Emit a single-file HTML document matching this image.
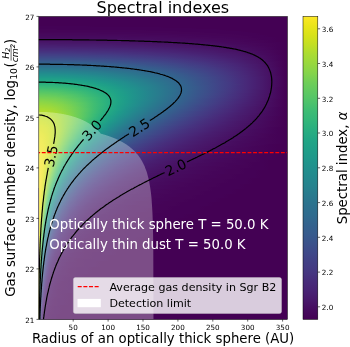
<!DOCTYPE html>
<html><head><meta charset="utf-8"><title>Spectral indexes</title>
<style>
html,body{margin:0;padding:0;background:#fff}
#fig{position:relative;width:350px;height:347px;overflow:hidden;background:#fff}
#hm{position:absolute;left:38.00px;top:16.00px;width:250.00px;height:304.00px;overflow:hidden;line-height:0;font-size:0}
#hm i{display:block;height:1px;width:100%}
#fig svg{position:absolute;left:0;top:0}
</style></head><body><div id="fig"><div id="hm"><i style="background:linear-gradient(90deg,#440154 0%,#440154 0.2%,#440154 0.4%,#440154 0.6%,#440154 0.8%,#440154 1.2%,#440154 1.6%,#440154 2%,#440154 2.4%,#440154 3.2%,#440154 4%,#440154 4.8%,#440154 5.6%,#440154 6.8%,#440154 8%,#440154 9.6%,#440154 12.8%,#440154 16%,#440154 19.2%,#440154 22.4%,#440154 25.6%,#440154 28.8%,#440154 32%,#440154 35.2%,#440154 38.4%,#440154 41.6%,#440154 44.8%,#440154 48%,#440154 51.2%,#440154 54.4%,#440154 57.6%,#440154 60.8%,#440154 64%,#440154 67.2%,#440154 70.4%,#440154 73.6%,#440154 76.8%,#440154 80%,#440154 83.2%,#440154 86.4%,#440154 89.6%,#440154 92.8%,#440154 96%,#440154 99.2%,#440154 100%)"></i><i style="background:linear-gradient(90deg,#440154 0%,#440154 0.2%,#440154 0.4%,#440154 0.6%,#440154 0.8%,#440154 1.2%,#440154 1.6%,#440154 2%,#440154 2.4%,#440154 3.2%,#440154 4%,#440154 4.8%,#440154 5.6%,#440154 6.8%,#440154 8%,#440154 9.6%,#440154 12.8%,#440154 16%,#440154 19.2%,#440154 22.4%,#440154 25.6%,#440154 28.8%,#440154 32%,#440154 35.2%,#440154 38.4%,#440154 41.6%,#440154 44.8%,#440154 48%,#440154 51.2%,#440154 54.4%,#440154 57.6%,#440154 60.8%,#440154 64%,#440154 67.2%,#440154 70.4%,#440154 73.6%,#440154 76.8%,#440154 80%,#440154 83.2%,#440154 86.4%,#440154 89.6%,#440154 92.8%,#440154 96%,#440154 99.2%,#440154 100%)"></i><i style="background:linear-gradient(90deg,#440154 0%,#440154 0.2%,#440154 0.4%,#440154 0.6%,#440154 0.8%,#440154 1.2%,#440154 1.6%,#440154 2%,#440154 2.4%,#440154 3.2%,#440154 4%,#440154 4.8%,#440154 5.6%,#440154 6.8%,#440154 8%,#440154 9.6%,#440154 12.8%,#440154 16%,#440154 19.2%,#440154 22.4%,#440154 25.6%,#440154 28.8%,#440154 32%,#440154 35.2%,#440154 38.4%,#440154 41.6%,#440154 44.8%,#440154 48%,#440154 51.2%,#440154 54.4%,#440154 57.6%,#440154 60.8%,#440154 64%,#440154 67.2%,#440154 70.4%,#440154 73.6%,#440154 76.8%,#440154 80%,#440154 83.2%,#440154 86.4%,#440154 89.6%,#440154 92.8%,#440154 96%,#440154 99.2%,#440154 100%)"></i><i style="background:linear-gradient(90deg,#440154 0%,#440154 0.2%,#440154 0.4%,#440154 0.6%,#440154 0.8%,#440154 1.2%,#440154 1.6%,#440154 2%,#440154 2.4%,#440154 3.2%,#440154 4%,#440154 4.8%,#440154 5.6%,#440154 6.8%,#440154 8%,#440154 9.6%,#440154 12.8%,#440154 16%,#440154 19.2%,#440154 22.4%,#440154 25.6%,#440154 28.8%,#440154 32%,#440154 35.2%,#440154 38.4%,#440154 41.6%,#440154 44.8%,#440154 48%,#440154 51.2%,#440154 54.4%,#440154 57.6%,#440154 60.8%,#440154 64%,#440154 67.2%,#440154 70.4%,#440154 73.6%,#440154 76.8%,#440154 80%,#440154 83.2%,#440154 86.4%,#440154 89.6%,#440154 92.8%,#440154 96%,#440154 99.2%,#440154 100%)"></i><i style="background:linear-gradient(90deg,#440154 0%,#440154 0.2%,#440154 0.4%,#440154 0.6%,#440154 0.8%,#440154 1.2%,#440154 1.6%,#440154 2%,#440154 2.4%,#440154 3.2%,#440154 4%,#440154 4.8%,#440154 5.6%,#440154 6.8%,#440154 8%,#440154 9.6%,#440154 12.8%,#440154 16%,#440154 19.2%,#440154 22.4%,#440154 25.6%,#440154 28.8%,#440154 32%,#440154 35.2%,#440154 38.4%,#440154 41.6%,#440154 44.8%,#440154 48%,#440154 51.2%,#440154 54.4%,#440154 57.6%,#440154 60.8%,#440154 64%,#440154 67.2%,#440154 70.4%,#440154 73.6%,#440154 76.8%,#440154 80%,#440154 83.2%,#440154 86.4%,#440154 89.6%,#440154 92.8%,#440154 96%,#440154 99.2%,#440154 100%)"></i><i style="background:linear-gradient(90deg,#440154 0%,#440154 0.2%,#440154 0.4%,#440154 0.6%,#440154 0.8%,#440154 1.2%,#440154 1.6%,#440154 2%,#440154 2.4%,#440154 3.2%,#440154 4%,#440154 4.8%,#440154 5.6%,#440154 6.8%,#440154 8%,#440154 9.6%,#440154 12.8%,#440154 16%,#440154 19.2%,#440154 22.4%,#440154 25.6%,#440154 28.8%,#440154 32%,#440154 35.2%,#440154 38.4%,#440154 41.6%,#440154 44.8%,#440154 48%,#440154 51.2%,#440154 54.4%,#440154 57.6%,#440154 60.8%,#440154 64%,#440154 67.2%,#440154 70.4%,#440154 73.6%,#440154 76.8%,#440154 80%,#440154 83.2%,#440154 86.4%,#440154 89.6%,#440154 92.8%,#440154 96%,#440154 99.2%,#440154 100%)"></i><i style="background:linear-gradient(90deg,#440154 0%,#440154 0.2%,#440154 0.4%,#440154 0.6%,#440154 0.8%,#440154 1.2%,#440154 1.6%,#440154 2%,#440154 2.4%,#440154 3.2%,#440154 4%,#440154 4.8%,#440154 5.6%,#440154 6.8%,#440154 8%,#440154 9.6%,#440154 12.8%,#440154 16%,#440154 19.2%,#440154 22.4%,#440154 25.6%,#440154 28.8%,#440154 32%,#440154 35.2%,#440154 38.4%,#440154 41.6%,#440154 44.8%,#440154 48%,#440154 51.2%,#440154 54.4%,#440154 57.6%,#440154 60.8%,#440154 64%,#440154 67.2%,#440154 70.4%,#440154 73.6%,#440154 76.8%,#440154 80%,#440154 83.2%,#440154 86.4%,#440154 89.6%,#440154 92.8%,#440154 96%,#440154 99.2%,#440154 100%)"></i><i style="background:linear-gradient(90deg,#440154 0%,#440154 0.2%,#440154 0.4%,#440154 0.6%,#440154 0.8%,#440154 1.2%,#440154 1.6%,#440154 2%,#440154 2.4%,#440154 3.2%,#440154 4%,#440154 4.8%,#440154 5.6%,#440154 6.8%,#440154 8%,#440154 9.6%,#440154 12.8%,#440154 16%,#440154 19.2%,#440154 22.4%,#440154 25.6%,#440154 28.8%,#440154 32%,#440154 35.2%,#440154 38.4%,#440154 41.6%,#440154 44.8%,#440154 48%,#440154 51.2%,#440154 54.4%,#440154 57.6%,#440154 60.8%,#440154 64%,#440154 67.2%,#440154 70.4%,#440154 73.6%,#440154 76.8%,#440154 80%,#440154 83.2%,#440154 86.4%,#440154 89.6%,#440154 92.8%,#440154 96%,#440154 99.2%,#440154 100%)"></i><i style="background:linear-gradient(90deg,#440154 0%,#440154 0.2%,#440154 0.4%,#440154 0.6%,#440154 0.8%,#440154 1.2%,#440154 1.6%,#440154 2%,#440154 2.4%,#440154 3.2%,#440154 4%,#440154 4.8%,#440154 5.6%,#440154 6.8%,#440154 8%,#440154 9.6%,#440154 12.8%,#440154 16%,#440154 19.2%,#440154 22.4%,#440154 25.6%,#440154 28.8%,#440154 32%,#440154 35.2%,#440154 38.4%,#440154 41.6%,#440154 44.8%,#440154 48%,#440154 51.2%,#440154 54.4%,#440154 57.6%,#440154 60.8%,#440154 64%,#440154 67.2%,#440154 70.4%,#440154 73.6%,#440154 76.8%,#440154 80%,#440154 83.2%,#440154 86.4%,#440154 89.6%,#440154 92.8%,#440154 96%,#440154 99.2%,#440154 100%)"></i><i style="background:linear-gradient(90deg,#440154 0%,#440154 0.2%,#440154 0.4%,#440154 0.6%,#440154 0.8%,#440154 1.2%,#440154 1.6%,#440154 2%,#440154 2.4%,#440154 3.2%,#440154 4%,#440154 4.8%,#440154 5.6%,#440154 6.8%,#440154 8%,#440154 9.6%,#440154 12.8%,#440154 16%,#440154 19.2%,#440154 22.4%,#440154 25.6%,#440154 28.8%,#440154 32%,#440154 35.2%,#440154 38.4%,#440154 41.6%,#440154 44.8%,#440154 48%,#440154 51.2%,#440154 54.4%,#440154 57.6%,#440154 60.8%,#440154 64%,#440154 67.2%,#440154 70.4%,#440154 73.6%,#440154 76.8%,#440154 80%,#440154 83.2%,#440154 86.4%,#440154 89.6%,#440154 92.8%,#440154 96%,#440154 99.2%,#440154 100%)"></i><i style="background:linear-gradient(90deg,#440256 0%,#440256 0.2%,#440256 0.4%,#440256 0.6%,#440256 0.8%,#440256 1.2%,#440256 1.6%,#440256 2%,#440256 2.4%,#440256 3.2%,#440256 4%,#440256 4.8%,#440256 5.6%,#440256 6.8%,#440256 8%,#440256 9.6%,#440256 12.8%,#440256 16%,#440256 19.2%,#440154 22.4%,#440154 25.6%,#440154 28.8%,#440154 32%,#440154 35.2%,#440154 38.4%,#440154 41.6%,#440154 44.8%,#440154 48%,#440154 51.2%,#440154 54.4%,#440154 57.6%,#440154 60.8%,#440154 64%,#440154 67.2%,#440154 70.4%,#440154 73.6%,#440154 76.8%,#440154 80%,#440154 83.2%,#440154 86.4%,#440154 89.6%,#440154 92.8%,#440154 96%,#440154 99.2%,#440154 100%)"></i><i style="background:linear-gradient(90deg,#440256 0%,#440256 0.2%,#440256 0.4%,#440256 0.6%,#440256 0.8%,#440256 1.2%,#440256 1.6%,#440256 2%,#440256 2.4%,#440256 3.2%,#440256 4%,#440256 4.8%,#440256 5.6%,#440256 6.8%,#440256 8%,#440256 9.6%,#440256 12.8%,#440256 16%,#440256 19.2%,#440256 22.4%,#440256 25.6%,#440256 28.8%,#440256 32%,#440256 35.2%,#440256 38.4%,#440256 41.6%,#440256 44.8%,#440256 48%,#440154 51.2%,#440154 54.4%,#440154 57.6%,#440154 60.8%,#440154 64%,#440154 67.2%,#440154 70.4%,#440154 73.6%,#440154 76.8%,#440154 80%,#440154 83.2%,#440154 86.4%,#440154 89.6%,#440154 92.8%,#440154 96%,#440154 99.2%,#440154 100%)"></i><i style="background:linear-gradient(90deg,#440256 0%,#440256 0.2%,#440256 0.4%,#440256 0.6%,#440256 0.8%,#440256 1.2%,#440256 1.6%,#440256 2%,#440256 2.4%,#440256 3.2%,#440256 4%,#440256 4.8%,#440256 5.6%,#440256 6.8%,#440256 8%,#440256 9.6%,#440256 12.8%,#440256 16%,#440256 19.2%,#440256 22.4%,#440256 25.6%,#440256 28.8%,#440256 32%,#440256 35.2%,#440256 38.4%,#440256 41.6%,#440256 44.8%,#440256 48%,#440256 51.2%,#440256 54.4%,#440256 57.6%,#440256 60.8%,#440154 64%,#440154 67.2%,#440154 70.4%,#440154 73.6%,#440154 76.8%,#440154 80%,#440154 83.2%,#440154 86.4%,#440154 89.6%,#440154 92.8%,#440154 96%,#440154 99.2%,#440154 100%)"></i><i style="background:linear-gradient(90deg,#450457 0%,#450457 0.2%,#450457 0.4%,#450457 0.6%,#450457 0.8%,#450457 1.2%,#450457 1.6%,#450457 2%,#450457 2.4%,#450457 3.2%,#450457 4%,#450457 4.8%,#450457 5.6%,#450457 6.8%,#440256 8%,#440256 9.6%,#440256 12.8%,#440256 16%,#440256 19.2%,#440256 22.4%,#440256 25.6%,#440256 28.8%,#440256 32%,#440256 35.2%,#440256 38.4%,#440256 41.6%,#440256 44.8%,#440256 48%,#440256 51.2%,#440256 54.4%,#440256 57.6%,#440256 60.8%,#440256 64%,#440256 67.2%,#440256 70.4%,#440154 73.6%,#440154 76.8%,#440154 80%,#440154 83.2%,#440154 86.4%,#440154 89.6%,#440154 92.8%,#440154 96%,#440154 99.2%,#440154 100%)"></i><i style="background:linear-gradient(90deg,#450457 0%,#450457 0.2%,#450457 0.4%,#450457 0.6%,#450457 0.8%,#450457 1.2%,#450457 1.6%,#450457 2%,#450457 2.4%,#450457 3.2%,#450457 4%,#450457 4.8%,#450457 5.6%,#450457 6.8%,#450457 8%,#450457 9.6%,#450457 12.8%,#450457 16%,#450457 19.2%,#450457 22.4%,#450457 25.6%,#450457 28.8%,#450457 32%,#450457 35.2%,#450457 38.4%,#450457 41.6%,#440256 44.8%,#440256 48%,#440256 51.2%,#440256 54.4%,#440256 57.6%,#440256 60.8%,#440256 64%,#440256 67.2%,#440256 70.4%,#440256 73.6%,#440154 76.8%,#440154 80%,#440154 83.2%,#440154 86.4%,#440154 89.6%,#440154 92.8%,#440154 96%,#440154 99.2%,#440154 100%)"></i><i style="background:linear-gradient(90deg,#450457 0%,#450457 0.2%,#450457 0.4%,#450457 0.6%,#450457 0.8%,#450457 1.2%,#450457 1.6%,#450457 2%,#450457 2.4%,#450457 3.2%,#450457 4%,#450457 4.8%,#450457 5.6%,#450457 6.8%,#450457 8%,#450457 9.6%,#450457 12.8%,#450457 16%,#450457 19.2%,#450457 22.4%,#450457 25.6%,#450457 28.8%,#450457 32%,#450457 35.2%,#450457 38.4%,#450457 41.6%,#450457 44.8%,#450457 48%,#450457 51.2%,#450457 54.4%,#440256 57.6%,#440256 60.8%,#440256 64%,#440256 67.2%,#440256 70.4%,#440256 73.6%,#440256 76.8%,#440256 80%,#440154 83.2%,#440154 86.4%,#440154 89.6%,#440154 92.8%,#440154 96%,#440154 99.2%,#440154 100%)"></i><i style="background:linear-gradient(90deg,#450559 0%,#450559 0.2%,#450559 0.4%,#450559 0.6%,#450559 0.8%,#450559 1.2%,#450559 1.6%,#450559 2%,#450559 2.4%,#450559 3.2%,#450559 4%,#450559 4.8%,#450559 5.6%,#450559 6.8%,#450559 8%,#450559 9.6%,#450559 12.8%,#450559 16%,#450559 19.2%,#450559 22.4%,#450559 25.6%,#450559 28.8%,#450559 32%,#450559 35.2%,#450559 38.4%,#450457 41.6%,#450457 44.8%,#450457 48%,#450457 51.2%,#450457 54.4%,#450457 57.6%,#450457 60.8%,#450457 64%,#440256 67.2%,#440256 70.4%,#440256 73.6%,#440256 76.8%,#440256 80%,#440256 83.2%,#440154 86.4%,#440154 89.6%,#440154 92.8%,#440154 96%,#440154 99.2%,#440154 100%)"></i><i style="background:linear-gradient(90deg,#46075a 0%,#46075a 0.2%,#46075a 0.4%,#46075a 0.6%,#46075a 0.8%,#46075a 1.2%,#46075a 1.6%,#46075a 2%,#46075a 2.4%,#46075a 3.2%,#46075a 4%,#46075a 4.8%,#46075a 5.6%,#46075a 6.8%,#46075a 8%,#46075a 9.6%,#46075a 12.8%,#46075a 16%,#46075a 19.2%,#46075a 22.4%,#450559 25.6%,#450559 28.8%,#450559 32%,#450559 35.2%,#450559 38.4%,#450559 41.6%,#450559 44.8%,#450559 48%,#450559 51.2%,#450457 54.4%,#450457 57.6%,#450457 60.8%,#450457 64%,#450457 67.2%,#450457 70.4%,#440256 73.6%,#440256 76.8%,#440256 80%,#440256 83.2%,#440256 86.4%,#440154 89.6%,#440154 92.8%,#440154 96%,#440154 99.2%,#440154 100%)"></i><i style="background:linear-gradient(90deg,#46085c 0%,#46085c 0.2%,#46085c 0.4%,#46085c 0.6%,#46085c 0.8%,#46085c 1.2%,#46085c 1.6%,#46085c 2%,#46085c 2.4%,#46085c 3.2%,#46085c 4%,#46085c 4.8%,#46075a 5.6%,#46075a 6.8%,#46075a 8%,#46075a 9.6%,#46075a 12.8%,#46075a 16%,#46075a 19.2%,#46075a 22.4%,#46075a 25.6%,#46075a 28.8%,#46075a 32%,#46075a 35.2%,#46075a 38.4%,#46075a 41.6%,#450559 44.8%,#450559 48%,#450559 51.2%,#450559 54.4%,#450559 57.6%,#450559 60.8%,#450457 64%,#450457 67.2%,#450457 70.4%,#450457 73.6%,#450457 76.8%,#440256 80%,#440256 83.2%,#440256 86.4%,#440154 89.6%,#440154 92.8%,#440154 96%,#440154 99.2%,#440154 100%)"></i><i style="background:linear-gradient(90deg,#46085c 0%,#46085c 0.2%,#46085c 0.4%,#46085c 0.6%,#46085c 0.8%,#46085c 1.2%,#46085c 1.6%,#46085c 2%,#46085c 2.4%,#46085c 3.2%,#46085c 4%,#46085c 4.8%,#46085c 5.6%,#46085c 6.8%,#46085c 8%,#46085c 9.6%,#46085c 12.8%,#46085c 16%,#46085c 19.2%,#46085c 22.4%,#46085c 25.6%,#46085c 28.8%,#46085c 32%,#46085c 35.2%,#46075a 38.4%,#46075a 41.6%,#46075a 44.8%,#46075a 48%,#46075a 51.2%,#46075a 54.4%,#450559 57.6%,#450559 60.8%,#450559 64%,#450559 67.2%,#450457 70.4%,#450457 73.6%,#450457 76.8%,#450457 80%,#440256 83.2%,#440256 86.4%,#440256 89.6%,#440154 92.8%,#440154 96%,#440154 99.2%,#440154 100%)"></i><i style="background:linear-gradient(90deg,#460a5d 0%,#460a5d 0.2%,#460a5d 0.4%,#460a5d 0.6%,#460a5d 0.8%,#460a5d 1.2%,#460a5d 1.6%,#460a5d 2%,#460a5d 2.4%,#460a5d 3.2%,#460a5d 4%,#460a5d 4.8%,#460a5d 5.6%,#460a5d 6.8%,#460a5d 8%,#460a5d 9.6%,#460a5d 12.8%,#460a5d 16%,#460a5d 19.2%,#460a5d 22.4%,#460a5d 25.6%,#460a5d 28.8%,#460a5d 32%,#46085c 35.2%,#46085c 38.4%,#46085c 41.6%,#46085c 44.8%,#46085c 48%,#46085c 51.2%,#46075a 54.4%,#46075a 57.6%,#46075a 60.8%,#450559 64%,#450559 67.2%,#450559 70.4%,#450559 73.6%,#450457 76.8%,#450457 80%,#450457 83.2%,#440256 86.4%,#440256 89.6%,#440154 92.8%,#440154 96%,#440154 99.2%,#440154 100%)"></i><i style="background:linear-gradient(90deg,#460b5e 0%,#460b5e 0.2%,#460b5e 0.4%,#460b5e 0.6%,#460b5e 0.8%,#460b5e 1.2%,#460b5e 1.6%,#460b5e 2%,#460b5e 2.4%,#460b5e 3.2%,#460b5e 4%,#460b5e 4.8%,#460b5e 5.6%,#460b5e 6.8%,#460b5e 8%,#460b5e 9.6%,#460b5e 12.8%,#460b5e 16%,#460b5e 19.2%,#460b5e 22.4%,#460b5e 25.6%,#460b5e 28.8%,#460b5e 32%,#460a5d 35.2%,#460a5d 38.4%,#460a5d 41.6%,#460a5d 44.8%,#460a5d 48%,#46085c 51.2%,#46085c 54.4%,#46085c 57.6%,#46075a 60.8%,#46075a 64%,#46075a 67.2%,#450559 70.4%,#450559 73.6%,#450559 76.8%,#450457 80%,#450457 83.2%,#440256 86.4%,#440256 89.6%,#440256 92.8%,#440154 96%,#440154 99.2%,#440154 100%)"></i><i style="background:linear-gradient(90deg,#470e61 0%,#470e61 0.2%,#470e61 0.4%,#470e61 0.6%,#470e61 0.8%,#470e61 1.2%,#470e61 1.6%,#470e61 2%,#470e61 2.4%,#470e61 3.2%,#470e61 4%,#470e61 4.8%,#470e61 5.6%,#470e61 6.8%,#470e61 8%,#470e61 9.6%,#470d60 12.8%,#470d60 16%,#470d60 19.2%,#470d60 22.4%,#470d60 25.6%,#470d60 28.8%,#470d60 32%,#460b5e 35.2%,#460b5e 38.4%,#460b5e 41.6%,#460b5e 44.8%,#460a5d 48%,#460a5d 51.2%,#460a5d 54.4%,#460a5d 57.6%,#46085c 60.8%,#46085c 64%,#46075a 67.2%,#46075a 70.4%,#46075a 73.6%,#450559 76.8%,#450559 80%,#450457 83.2%,#450457 86.4%,#440256 89.6%,#440256 92.8%,#440154 96%,#440154 99.2%,#440154 100%)"></i><i style="background:linear-gradient(90deg,#471063 0%,#471063 0.2%,#471063 0.4%,#471063 0.6%,#471063 0.8%,#471063 1.2%,#471063 1.6%,#471063 2%,#471063 2.4%,#471063 3.2%,#471063 4%,#471063 4.8%,#471063 5.6%,#471063 6.8%,#471063 8%,#471063 9.6%,#471063 12.8%,#471063 16%,#471063 19.2%,#470e61 22.4%,#470e61 25.6%,#470e61 28.8%,#470e61 32%,#470e61 35.2%,#470d60 38.4%,#470d60 41.6%,#470d60 44.8%,#460b5e 48%,#460b5e 51.2%,#460b5e 54.4%,#460a5d 57.6%,#460a5d 60.8%,#460a5d 64%,#46085c 67.2%,#46085c 70.4%,#46075a 73.6%,#46075a 76.8%,#450559 80%,#450559 83.2%,#450457 86.4%,#440256 89.6%,#440256 92.8%,#440154 96%,#440154 99.2%,#440154 100%)"></i><i style="background:linear-gradient(90deg,#471164 0%,#471164 0.2%,#471164 0.4%,#471164 0.6%,#471164 0.8%,#471164 1.2%,#471164 1.6%,#471164 2%,#471164 2.4%,#471164 3.2%,#471164 4%,#471164 4.8%,#471164 5.6%,#471164 6.8%,#471164 8%,#471164 9.6%,#471164 12.8%,#471164 16%,#471164 19.2%,#471164 22.4%,#471164 25.6%,#471063 28.8%,#471063 32%,#471063 35.2%,#471063 38.4%,#470e61 41.6%,#470e61 44.8%,#470e61 48%,#470d60 51.2%,#470d60 54.4%,#460b5e 57.6%,#460b5e 60.8%,#460a5d 64%,#460a5d 67.2%,#46085c 70.4%,#46085c 73.6%,#46075a 76.8%,#46075a 80%,#450559 83.2%,#450457 86.4%,#450457 89.6%,#440256 92.8%,#440154 96%,#440154 99.2%,#440154 100%)"></i><i style="background:linear-gradient(90deg,#481467 0%,#481467 0.2%,#481467 0.4%,#481467 0.6%,#481467 0.8%,#481467 1.2%,#481467 1.6%,#481467 2%,#481467 2.4%,#481467 3.2%,#481467 4%,#481467 4.8%,#481467 5.6%,#481467 6.8%,#481467 8%,#481467 9.6%,#481467 12.8%,#481467 16%,#471365 19.2%,#471365 22.4%,#471365 25.6%,#471365 28.8%,#471365 32%,#471164 35.2%,#471164 38.4%,#471164 41.6%,#471063 44.8%,#471063 48%,#470e61 51.2%,#470e61 54.4%,#470d60 57.6%,#470d60 60.8%,#460b5e 64%,#460b5e 67.2%,#460a5d 70.4%,#46085c 73.6%,#46085c 76.8%,#46075a 80%,#450559 83.2%,#450559 86.4%,#450457 89.6%,#440256 92.8%,#440154 96%,#440154 99.2%,#440154 100%)"></i><i style="background:linear-gradient(90deg,#481769 0%,#481769 0.2%,#481769 0.4%,#481769 0.6%,#481769 0.8%,#481769 1.2%,#481769 1.6%,#481769 2%,#481769 2.4%,#481769 3.2%,#481769 4%,#481769 4.8%,#481769 5.6%,#481769 6.8%,#481769 8%,#481769 9.6%,#481668 12.8%,#481668 16%,#481668 19.2%,#481668 22.4%,#481668 25.6%,#481467 28.8%,#481467 32%,#481467 35.2%,#471365 38.4%,#471365 41.6%,#471365 44.8%,#471164 48%,#471164 51.2%,#471063 54.4%,#470e61 57.6%,#470e61 60.8%,#470d60 64%,#470d60 67.2%,#460b5e 70.4%,#460a5d 73.6%,#46085c 76.8%,#46085c 80%,#46075a 83.2%,#450559 86.4%,#450457 89.6%,#440256 92.8%,#440256 96%,#440154 99.2%,#440154 100%)"></i><i style="background:linear-gradient(90deg,#481a6c 0%,#481a6c 0.2%,#481a6c 0.4%,#481a6c 0.6%,#481a6c 0.8%,#481a6c 1.2%,#481a6c 1.6%,#481a6c 2%,#481a6c 2.4%,#481a6c 3.2%,#481a6c 4%,#48186a 4.8%,#48186a 5.6%,#48186a 6.8%,#48186a 8%,#48186a 9.6%,#48186a 12.8%,#48186a 16%,#48186a 19.2%,#48186a 22.4%,#481769 25.6%,#481769 28.8%,#481769 32%,#481668 35.2%,#481668 38.4%,#481467 41.6%,#481467 44.8%,#471365 48%,#471365 51.2%,#471164 54.4%,#471164 57.6%,#471063 60.8%,#470e61 64%,#470e61 67.2%,#470d60 70.4%,#460b5e 73.6%,#460a5d 76.8%,#46085c 80%,#46075a 83.2%,#46075a 86.4%,#450559 89.6%,#450457 92.8%,#440256 96%,#440154 99.2%,#440154 100%)"></i><i style="background:linear-gradient(90deg,#481c6e 0%,#481c6e 0.2%,#481c6e 0.4%,#481c6e 0.6%,#481c6e 0.8%,#481c6e 1.2%,#481c6e 1.6%,#481c6e 2%,#481c6e 2.4%,#481b6d 3.2%,#481b6d 4%,#481b6d 4.8%,#481b6d 5.6%,#481b6d 6.8%,#481b6d 8%,#481b6d 9.6%,#481b6d 12.8%,#481b6d 16%,#481b6d 19.2%,#481b6d 22.4%,#481a6c 25.6%,#481a6c 28.8%,#48186a 32%,#48186a 35.2%,#48186a 38.4%,#481769 41.6%,#481668 44.8%,#481668 48%,#481467 51.2%,#481467 54.4%,#471365 57.6%,#471164 60.8%,#471063 64%,#471063 67.2%,#470e61 70.4%,#470d60 73.6%,#460b5e 76.8%,#460a5d 80%,#46085c 83.2%,#46075a 86.4%,#450559 89.6%,#450457 92.8%,#440256 96%,#440154 99.2%,#440154 100%)"></i><i style="background:linear-gradient(90deg,#481f70 0%,#481f70 0.2%,#481f70 0.4%,#481f70 0.6%,#481f70 0.8%,#481f70 1.2%,#481f70 1.6%,#481f70 2%,#481f70 2.4%,#481f70 3.2%,#481f70 4%,#481f70 4.8%,#481f70 5.6%,#481f70 6.8%,#481d6f 8%,#481d6f 9.6%,#481d6f 12.8%,#481d6f 16%,#481d6f 19.2%,#481d6f 22.4%,#481c6e 25.6%,#481c6e 28.8%,#481b6d 32%,#481b6d 35.2%,#481a6c 38.4%,#481a6c 41.6%,#48186a 44.8%,#481769 48%,#481769 51.2%,#481668 54.4%,#481467 57.6%,#471365 60.8%,#471365 64%,#471164 67.2%,#471063 70.4%,#470e61 73.6%,#470d60 76.8%,#460b5e 80%,#460a5d 83.2%,#46075a 86.4%,#450559 89.6%,#450457 92.8%,#440256 96%,#440154 99.2%,#440154 100%)"></i><i style="background:linear-gradient(90deg,#482173 0%,#482173 0.2%,#482173 0.4%,#482173 0.6%,#482173 0.8%,#482173 1.2%,#482173 1.6%,#482173 2%,#482173 2.4%,#482173 3.2%,#482173 4%,#482173 4.8%,#482173 5.6%,#482173 6.8%,#482173 8%,#482173 9.6%,#482071 12.8%,#482071 16%,#482071 19.2%,#482071 22.4%,#481f70 25.6%,#481f70 28.8%,#481d6f 32%,#481d6f 35.2%,#481c6e 38.4%,#481c6e 41.6%,#481b6d 44.8%,#481a6c 48%,#48186a 51.2%,#48186a 54.4%,#481769 57.6%,#481668 60.8%,#481467 64%,#471365 67.2%,#471164 70.4%,#471063 73.6%,#470e61 76.8%,#460b5e 80%,#460a5d 83.2%,#46085c 86.4%,#46075a 89.6%,#450457 92.8%,#440256 96%,#440154 99.2%,#440154 100%)"></i><i style="background:linear-gradient(90deg,#482475 0%,#482475 0.2%,#482475 0.4%,#482475 0.6%,#482475 0.8%,#482475 1.2%,#482475 1.6%,#482475 2%,#482475 2.4%,#482475 3.2%,#482475 4%,#482475 4.8%,#482475 5.6%,#482475 6.8%,#482475 8%,#482475 9.6%,#482475 12.8%,#482475 16%,#482374 19.2%,#482374 22.4%,#482173 25.6%,#482173 28.8%,#482071 32%,#482071 35.2%,#481f70 38.4%,#481f70 41.6%,#481d6f 44.8%,#481c6e 48%,#481b6d 51.2%,#481a6c 54.4%,#48186a 57.6%,#481769 60.8%,#481668 64%,#481467 67.2%,#471365 70.4%,#471164 73.6%,#470e61 76.8%,#470d60 80%,#460b5e 83.2%,#460a5d 86.4%,#46075a 89.6%,#450559 92.8%,#440256 96%,#440154 99.2%,#440154 100%)"></i><i style="background:linear-gradient(90deg,#482878 0%,#482878 0.2%,#482878 0.4%,#482878 0.6%,#482878 0.8%,#482878 1.2%,#482878 1.6%,#482878 2%,#482878 2.4%,#482878 3.2%,#482878 4%,#482878 4.8%,#482878 5.6%,#482878 6.8%,#482878 8%,#482878 9.6%,#482677 12.8%,#482677 16%,#482677 19.2%,#482576 22.4%,#482576 25.6%,#482475 28.8%,#482475 32%,#482374 35.2%,#482173 38.4%,#482173 41.6%,#482071 44.8%,#481f70 48%,#481d6f 51.2%,#481c6e 54.4%,#481b6d 57.6%,#481a6c 60.8%,#48186a 64%,#481668 67.2%,#481467 70.4%,#471365 73.6%,#471063 76.8%,#470e61 80%,#470d60 83.2%,#460a5d 86.4%,#46085c 89.6%,#450559 92.8%,#440256 96%,#440154 99.2%,#440154 100%)"></i><i style="background:linear-gradient(90deg,#472c7a 0%,#472c7a 0.2%,#472c7a 0.4%,#472c7a 0.6%,#472c7a 0.8%,#472c7a 1.2%,#472c7a 1.6%,#472c7a 2%,#472c7a 2.4%,#472a7a 3.2%,#472a7a 4%,#472a7a 4.8%,#472a7a 5.6%,#472a7a 6.8%,#472a7a 8%,#472a7a 9.6%,#472a7a 12.8%,#472a7a 16%,#482979 19.2%,#482979 22.4%,#482878 25.6%,#482878 28.8%,#482677 32%,#482576 35.2%,#482576 38.4%,#482475 41.6%,#482374 44.8%,#482173 48%,#482071 51.2%,#481f70 54.4%,#481d6f 57.6%,#481b6d 60.8%,#481a6c 64%,#48186a 67.2%,#481668 70.4%,#481467 73.6%,#471164 76.8%,#471063 80%,#470d60 83.2%,#460b5e 86.4%,#46085c 89.6%,#450559 92.8%,#440256 96%,#440154 99.2%,#440154 100%)"></i><i style="background:linear-gradient(90deg,#472e7c 0%,#472e7c 0.2%,#472e7c 0.4%,#472e7c 0.6%,#472e7c 0.8%,#472e7c 1.2%,#472e7c 1.6%,#472e7c 2%,#472e7c 2.4%,#472e7c 3.2%,#472e7c 4%,#472e7c 4.8%,#472e7c 5.6%,#472e7c 6.8%,#472e7c 8%,#472e7c 9.6%,#472e7c 12.8%,#472d7b 16%,#472d7b 19.2%,#472c7a 22.4%,#472c7a 25.6%,#472a7a 28.8%,#472a7a 32%,#482979 35.2%,#482878 38.4%,#482677 41.6%,#482576 44.8%,#482475 48%,#482374 51.2%,#482173 54.4%,#481f70 57.6%,#481d6f 60.8%,#481c6e 64%,#481a6c 67.2%,#48186a 70.4%,#481668 73.6%,#471365 76.8%,#471164 80%,#470e61 83.2%,#460b5e 86.4%,#46085c 89.6%,#46075a 92.8%,#450457 96%,#440154 99.2%,#440154 100%)"></i><i style="background:linear-gradient(90deg,#46327e 0%,#46327e 0.2%,#46327e 0.4%,#46327e 0.6%,#46327e 0.8%,#46327e 1.2%,#46327e 1.6%,#46327e 2%,#46327e 2.4%,#46327e 3.2%,#46327e 4%,#46327e 4.8%,#46327e 5.6%,#46327e 6.8%,#46327e 8%,#46327e 9.6%,#46327e 12.8%,#46307e 16%,#46307e 19.2%,#472f7d 22.4%,#472f7d 25.6%,#472e7c 28.8%,#472d7b 32%,#472c7a 35.2%,#472a7a 38.4%,#482979 41.6%,#482878 44.8%,#482677 48%,#482576 51.2%,#482374 54.4%,#482173 57.6%,#482071 60.8%,#481d6f 64%,#481c6e 67.2%,#481a6c 70.4%,#481769 73.6%,#481467 76.8%,#471365 80%,#471063 83.2%,#470d60 86.4%,#460a5d 89.6%,#46075a 92.8%,#450457 96%,#440154 99.2%,#440154 100%)"></i><i style="background:linear-gradient(90deg,#453581 0%,#453581 0.2%,#453581 0.4%,#453581 0.6%,#453581 0.8%,#453581 1.2%,#453581 1.6%,#453581 2%,#453581 2.4%,#453581 3.2%,#453581 4%,#453581 4.8%,#453581 5.6%,#453581 6.8%,#453581 8%,#453581 9.6%,#453581 12.8%,#463480 16%,#463480 19.2%,#46337f 22.4%,#46327e 25.6%,#46327e 28.8%,#46307e 32%,#472f7d 35.2%,#472e7c 38.4%,#472d7b 41.6%,#472c7a 44.8%,#482979 48%,#482878 51.2%,#482576 54.4%,#482475 57.6%,#482173 60.8%,#482071 64%,#481d6f 67.2%,#481b6d 70.4%,#48186a 73.6%,#481769 76.8%,#481467 80%,#471164 83.2%,#470d60 86.4%,#460a5d 89.6%,#46075a 92.8%,#450457 96%,#440154 99.2%,#440154 100%)"></i><i style="background:linear-gradient(90deg,#443a83 0%,#443a83 0.2%,#443a83 0.4%,#443a83 0.6%,#443a83 0.8%,#443a83 1.2%,#443a83 1.6%,#443a83 2%,#443a83 2.4%,#443a83 3.2%,#443a83 4%,#443a83 4.8%,#443983 5.6%,#443983 6.8%,#443983 8%,#443983 9.6%,#443983 12.8%,#453882 16%,#453882 19.2%,#453781 22.4%,#453581 25.6%,#453581 28.8%,#463480 32%,#46337f 35.2%,#46307e 38.4%,#472f7d 41.6%,#472e7c 44.8%,#472d7b 48%,#472a7a 51.2%,#482979 54.4%,#482677 57.6%,#482475 60.8%,#482173 64%,#482071 67.2%,#481d6f 70.4%,#481b6d 73.6%,#48186a 76.8%,#481668 80%,#471164 83.2%,#470e61 86.4%,#460b5e 89.6%,#46085c 92.8%,#450457 96%,#440154 99.2%,#440154 100%)"></i><i style="background:linear-gradient(90deg,#433e85 0%,#433e85 0.2%,#433e85 0.4%,#433e85 0.6%,#433e85 0.8%,#433e85 1.2%,#433e85 1.6%,#433e85 2%,#433e85 2.4%,#433e85 3.2%,#433e85 4%,#433e85 4.8%,#433e85 5.6%,#433e85 6.8%,#433e85 8%,#433d84 9.6%,#433d84 12.8%,#433d84 16%,#443b84 19.2%,#443a83 22.4%,#443983 25.6%,#443983 28.8%,#453882 32%,#453581 35.2%,#463480 38.4%,#46337f 41.6%,#46307e 44.8%,#472f7d 48%,#472d7b 51.2%,#472c7a 54.4%,#482979 57.6%,#482677 60.8%,#482475 64%,#482173 67.2%,#481f70 70.4%,#481c6e 73.6%,#481a6c 76.8%,#481769 80%,#471365 83.2%,#471063 86.4%,#460b5e 89.6%,#46085c 92.8%,#450457 96%,#440154 99.2%,#440154 100%)"></i><i style="background:linear-gradient(90deg,#424186 0%,#424186 0.2%,#424186 0.4%,#424186 0.6%,#424186 0.8%,#424186 1.2%,#424186 1.6%,#424186 2%,#424186 2.4%,#424186 3.2%,#424186 4%,#424186 4.8%,#424186 5.6%,#424186 6.8%,#424186 8%,#424186 9.6%,#424086 12.8%,#424086 16%,#423f85 19.2%,#423f85 22.4%,#433e85 25.6%,#433d84 28.8%,#443b84 32%,#443983 35.2%,#453882 38.4%,#453781 41.6%,#463480 44.8%,#46327e 48%,#46307e 51.2%,#472e7c 54.4%,#472c7a 57.6%,#482979 60.8%,#482677 64%,#482475 67.2%,#482173 70.4%,#481d6f 73.6%,#481b6d 76.8%,#48186a 80%,#481467 83.2%,#471063 86.4%,#470d60 89.6%,#46085c 92.8%,#450559 96%,#440154 99.2%,#440154 100%)"></i><i style="background:linear-gradient(90deg,#404688 0%,#404688 0.2%,#404688 0.4%,#404688 0.6%,#404688 0.8%,#404688 1.2%,#404688 1.6%,#404688 2%,#404688 2.4%,#404688 3.2%,#404688 4%,#404688 4.8%,#404688 5.6%,#404688 6.8%,#404688 8%,#404588 9.6%,#404588 12.8%,#414487 16%,#414487 19.2%,#414287 22.4%,#424186 25.6%,#424086 28.8%,#423f85 32%,#433d84 35.2%,#443b84 38.4%,#443983 41.6%,#453882 44.8%,#453581 48%,#46337f 51.2%,#46307e 54.4%,#472e7c 57.6%,#472c7a 60.8%,#482979 64%,#482576 67.2%,#482374 70.4%,#482071 73.6%,#481c6e 76.8%,#481a6c 80%,#481668 83.2%,#471164 86.4%,#470d60 89.6%,#460a5d 92.8%,#450559 96%,#440154 99.2%,#440154 100%)"></i><i style="background:linear-gradient(90deg,#3e4a89 0%,#3e4a89 0.2%,#3e4a89 0.4%,#3e4a89 0.6%,#3e4a89 0.8%,#3e4a89 1.2%,#3e4a89 1.6%,#3e4a89 2%,#3e4a89 2.4%,#3e4a89 3.2%,#3e4a89 4%,#3e4a89 4.8%,#3e4989 5.6%,#3e4989 6.8%,#3e4989 8%,#3e4989 9.6%,#3e4989 12.8%,#3f4889 16%,#3f4788 19.2%,#404688 22.4%,#404588 25.6%,#414487 28.8%,#414287 32%,#424086 35.2%,#423f85 38.4%,#433d84 41.6%,#443a83 44.8%,#443983 48%,#453781 51.2%,#46337f 54.4%,#46307e 57.6%,#472e7c 60.8%,#472c7a 64%,#482878 67.2%,#482576 70.4%,#482173 73.6%,#481d6f 76.8%,#481b6d 80%,#481769 83.2%,#471365 86.4%,#470e61 89.6%,#460a5d 92.8%,#450559 96%,#440154 99.2%,#440154 100%)"></i><i style="background:linear-gradient(90deg,#3d4e8a 0%,#3d4e8a 0.2%,#3d4e8a 0.4%,#3d4e8a 0.6%,#3d4e8a 0.8%,#3d4e8a 1.2%,#3d4e8a 1.6%,#3d4e8a 2%,#3d4e8a 2.4%,#3d4e8a 3.2%,#3d4e8a 4%,#3d4e8a 4.8%,#3d4e8a 5.6%,#3d4e8a 6.8%,#3d4e8a 8%,#3d4e8a 9.6%,#3d4d8a 12.8%,#3d4d8a 16%,#3e4c8a 19.2%,#3e4a89 22.4%,#3e4989 25.6%,#3f4788 28.8%,#404688 32%,#404588 35.2%,#414287 38.4%,#424086 41.6%,#433e85 44.8%,#443b84 48%,#443983 51.2%,#453781 54.4%,#46337f 57.6%,#46307e 60.8%,#472e7c 64%,#472a7a 67.2%,#482677 70.4%,#482374 73.6%,#482071 76.8%,#481c6e 80%,#48186a 83.2%,#481467 86.4%,#470e61 89.6%,#460a5d 92.8%,#450559 96%,#440154 99.2%,#440154 100%)"></i><i style="background:linear-gradient(90deg,#3b528b 0%,#3b528b 0.2%,#3b528b 0.4%,#3b528b 0.6%,#3b528b 0.8%,#3b528b 1.2%,#3b528b 1.6%,#3b528b 2%,#3b528b 2.4%,#3b528b 3.2%,#3b528b 4%,#3b528b 4.8%,#3b528b 5.6%,#3b528b 6.8%,#3b528b 8%,#3b528b 9.6%,#3b518b 12.8%,#3c508b 16%,#3c4f8a 19.2%,#3d4e8a 22.4%,#3d4d8a 25.6%,#3e4c8a 28.8%,#3e4989 32%,#3f4889 35.2%,#404688 38.4%,#414487 41.6%,#424186 44.8%,#423f85 48%,#433d84 51.2%,#443983 54.4%,#453781 57.6%,#46337f 60.8%,#472f7d 64%,#472d7b 67.2%,#482979 70.4%,#482576 73.6%,#482173 76.8%,#481d6f 80%,#48186a 83.2%,#481467 86.4%,#471063 89.6%,#460b5e 92.8%,#450559 96%,#440154 99.2%,#440154 100%)"></i><i style="background:linear-gradient(90deg,#39568c 0%,#39568c 0.2%,#39568c 0.4%,#39568c 0.6%,#39568c 0.8%,#39568c 1.2%,#39568c 1.6%,#39568c 2%,#39568c 2.4%,#39568c 3.2%,#39568c 4%,#39568c 4.8%,#39568c 5.6%,#39568c 6.8%,#39568c 8%,#39568c 9.6%,#39558c 12.8%,#3a548c 16%,#3a538b 19.2%,#3b528b 22.4%,#3b518b 25.6%,#3c4f8a 28.8%,#3d4e8a 32%,#3e4c8a 35.2%,#3e4989 38.4%,#3f4788 41.6%,#404588 44.8%,#414287 48%,#423f85 51.2%,#433d84 54.4%,#443983 57.6%,#453581 60.8%,#46327e 64%,#472e7c 67.2%,#472a7a 70.4%,#482677 73.6%,#482374 76.8%,#481f70 80%,#481a6c 83.2%,#481668 86.4%,#471164 89.6%,#460b5e 92.8%,#450559 96%,#440154 99.2%,#440154 100%)"></i><i style="background:linear-gradient(90deg,#375b8d 0%,#375b8d 0.2%,#375b8d 0.4%,#375b8d 0.6%,#375b8d 0.8%,#375b8d 1.2%,#375b8d 1.6%,#375b8d 2%,#375b8d 2.4%,#375b8d 3.2%,#375b8d 4%,#375b8d 4.8%,#375b8d 5.6%,#375b8d 6.8%,#375b8d 8%,#375b8d 9.6%,#375a8c 12.8%,#38598c 16%,#38588c 19.2%,#39568c 22.4%,#3a548c 25.6%,#3a538b 28.8%,#3b518b 32%,#3c4f8a 35.2%,#3d4d8a 38.4%,#3e4a89 41.6%,#3f4889 44.8%,#404588 48%,#414287 51.2%,#423f85 54.4%,#443b84 57.6%,#453882 60.8%,#463480 64%,#46307e 67.2%,#472d7b 70.4%,#482979 73.6%,#482475 76.8%,#482071 80%,#481b6d 83.2%,#481769 86.4%,#471164 89.6%,#460b5e 92.8%,#46075a 96%,#440154 99.2%,#440154 100%)"></i><i style="background:linear-gradient(90deg,#355f8d 0%,#355f8d 0.2%,#355f8d 0.4%,#355f8d 0.6%,#355f8d 0.8%,#355f8d 1.2%,#355f8d 1.6%,#355f8d 2%,#355f8d 2.4%,#355f8d 3.2%,#355f8d 4%,#355f8d 4.8%,#355f8d 5.6%,#355f8d 6.8%,#355f8d 8%,#355f8d 9.6%,#355e8d 12.8%,#365d8d 16%,#365c8d 19.2%,#375b8d 22.4%,#38598c 25.6%,#39568c 28.8%,#39558c 32%,#3a538b 35.2%,#3c508b 38.4%,#3d4e8a 41.6%,#3e4c8a 44.8%,#3f4889 48%,#404588 51.2%,#424186 54.4%,#433e85 57.6%,#443a83 60.8%,#453781 64%,#46337f 67.2%,#472e7c 70.4%,#472a7a 73.6%,#482576 76.8%,#482173 80%,#481c6e 83.2%,#481769 86.4%,#471365 89.6%,#470d60 92.8%,#46075a 96%,#440154 99.2%,#440154 100%)"></i><i style="background:linear-gradient(90deg,#32648e 0%,#32648e 0.2%,#32648e 0.4%,#32648e 0.6%,#32648e 0.8%,#32648e 1.2%,#32648e 1.6%,#32648e 2%,#32648e 2.4%,#32648e 3.2%,#33638d 4%,#33638d 4.8%,#33638d 5.6%,#33638d 6.8%,#33638d 8%,#33638d 9.6%,#33628d 12.8%,#34618d 16%,#34608d 19.2%,#355e8d 22.4%,#365d8d 25.6%,#375b8d 28.8%,#38598c 32%,#39568c 35.2%,#3a548c 38.4%,#3b518b 41.6%,#3c4f8a 44.8%,#3e4c8a 48%,#3f4889 51.2%,#404588 54.4%,#424186 57.6%,#433d84 60.8%,#443983 64%,#453581 67.2%,#46307e 70.4%,#472c7a 73.6%,#482878 76.8%,#482374 80%,#481d6f 83.2%,#48186a 86.4%,#471365 89.6%,#470d60 92.8%,#46075a 96%,#440154 99.2%,#440154 100%)"></i><i style="background:linear-gradient(90deg,#31688e 0%,#31688e 0.2%,#31688e 0.4%,#31688e 0.6%,#31688e 0.8%,#31688e 1.2%,#31688e 1.6%,#31688e 2%,#31688e 2.4%,#31688e 3.2%,#31688e 4%,#31688e 4.8%,#31678e 5.6%,#31678e 6.8%,#31678e 8%,#31678e 9.6%,#31668e 12.8%,#32658e 16%,#32648e 19.2%,#33628d 22.4%,#34618d 25.6%,#355f8d 28.8%,#365d8d 32%,#375a8c 35.2%,#38588c 38.4%,#3a548c 41.6%,#3b518b 44.8%,#3c4f8a 48%,#3e4a89 51.2%,#3f4788 54.4%,#414487 57.6%,#423f85 60.8%,#443b84 64%,#453781 67.2%,#46327e 70.4%,#472e7c 73.6%,#482979 76.8%,#482475 80%,#481f70 83.2%,#481a6c 86.4%,#481467 89.6%,#470d60 92.8%,#46075a 96%,#440154 99.2%,#440154 100%)"></i><i style="background:linear-gradient(90deg,#2f6c8e 0%,#2f6c8e 0.2%,#2f6c8e 0.4%,#2f6c8e 0.6%,#2f6c8e 0.8%,#2f6c8e 1.2%,#2f6c8e 1.6%,#2f6c8e 2%,#2f6c8e 2.4%,#2f6c8e 3.2%,#2f6c8e 4%,#2f6c8e 4.8%,#2f6c8e 5.6%,#2f6c8e 6.8%,#2f6b8e 8%,#2f6b8e 9.6%,#306a8e 12.8%,#30698e 16%,#31688e 19.2%,#31668e 22.4%,#32648e 25.6%,#33628d 28.8%,#34608d 32%,#355e8d 35.2%,#375b8d 38.4%,#38588c 41.6%,#3a548c 44.8%,#3b518b 48%,#3d4e8a 51.2%,#3e4a89 54.4%,#404688 57.6%,#424186 60.8%,#433e85 64%,#443983 67.2%,#463480 70.4%,#472f7d 73.6%,#472a7a 76.8%,#482576 80%,#482071 83.2%,#481a6c 86.4%,#481467 89.6%,#470e61 92.8%,#46075a 96%,#440154 99.2%,#440154 100%)"></i><i style="background:linear-gradient(90deg,#2d708e 0%,#2d708e 0.2%,#2d708e 0.4%,#2d708e 0.6%,#2d708e 0.8%,#2d708e 1.2%,#2d708e 1.6%,#2d708e 2%,#2d708e 2.4%,#2d708e 3.2%,#2d708e 4%,#2d708e 4.8%,#2d708e 5.6%,#2d708e 6.8%,#2d708e 8%,#2e6f8e 9.6%,#2e6e8e 12.8%,#2e6d8e 16%,#2f6c8e 19.2%,#306a8e 22.4%,#31688e 25.6%,#31668e 28.8%,#32648e 32%,#34618d 35.2%,#355e8d 38.4%,#375b8d 41.6%,#38588c 44.8%,#3a548c 48%,#3b518b 51.2%,#3d4d8a 54.4%,#3f4889 57.6%,#414487 60.8%,#424086 64%,#443b84 67.2%,#453581 70.4%,#46307e 73.6%,#472c7a 76.8%,#482677 80%,#482071 83.2%,#481b6d 86.4%,#481467 89.6%,#470e61 92.8%,#46075a 96%,#440154 99.2%,#440154 100%)"></i><i style="background:linear-gradient(90deg,#2b748e 0%,#2b748e 0.2%,#2b748e 0.4%,#2b748e 0.6%,#2b748e 0.8%,#2b748e 1.2%,#2b748e 1.6%,#2b748e 2%,#2b748e 2.4%,#2c738e 3.2%,#2c738e 4%,#2c738e 4.8%,#2c738e 5.6%,#2c738e 6.8%,#2c738e 8%,#2c728e 9.6%,#2c718e 12.8%,#2d718e 16%,#2d708e 19.2%,#2e6e8e 22.4%,#2f6c8e 25.6%,#306a8e 28.8%,#31678e 32%,#32648e 35.2%,#33628d 38.4%,#355e8d 41.6%,#375b8d 44.8%,#38588c 48%,#3a538b 51.2%,#3c4f8a 54.4%,#3e4a89 57.6%,#404688 60.8%,#424186 64%,#433d84 67.2%,#453882 70.4%,#46327e 73.6%,#472d7b 76.8%,#482878 80%,#482173 83.2%,#481b6d 86.4%,#481668 89.6%,#470e61 92.8%,#46085c 96%,#440154 99.2%,#440154 100%)"></i><i style="background:linear-gradient(90deg,#2a788e 0%,#2a788e 0.2%,#2a788e 0.4%,#2a788e 0.6%,#2a788e 0.8%,#2a788e 1.2%,#2a788e 1.6%,#2a788e 2%,#2a788e 2.4%,#2a788e 3.2%,#2a788e 4%,#2a788e 4.8%,#2a778e 5.6%,#2a778e 6.8%,#2a778e 8%,#2a778e 9.6%,#2a768e 12.8%,#2b748e 16%,#2c738e 19.2%,#2c718e 22.4%,#2d708e 25.6%,#2e6d8e 28.8%,#2f6b8e 32%,#31688e 35.2%,#32658e 38.4%,#34618d 41.6%,#355e8d 44.8%,#375a8c 48%,#39568c 51.2%,#3b528b 54.4%,#3d4e8a 57.6%,#3f4889 60.8%,#414487 64%,#423f85 67.2%,#443983 70.4%,#463480 73.6%,#472e7c 76.8%,#482878 80%,#482374 83.2%,#481c6e 86.4%,#481668 89.6%,#471063 92.8%,#46085c 96%,#440154 99.2%,#440154 100%)"></i><i style="background:linear-gradient(90deg,#287c8e 0%,#287c8e 0.2%,#287c8e 0.4%,#287c8e 0.6%,#287c8e 0.8%,#287c8e 1.2%,#287c8e 1.6%,#287c8e 2%,#287c8e 2.4%,#287c8e 3.2%,#287c8e 4%,#287c8e 4.8%,#287c8e 5.6%,#297b8e 6.8%,#297b8e 8%,#297b8e 9.6%,#297a8e 12.8%,#2a788e 16%,#2a778e 19.2%,#2b758e 22.4%,#2c728e 25.6%,#2d718e 28.8%,#2e6e8e 32%,#2f6b8e 35.2%,#31688e 38.4%,#32648e 41.6%,#34618d 44.8%,#365d8d 48%,#38598c 51.2%,#3a548c 54.4%,#3c508b 57.6%,#3e4a89 60.8%,#404688 64%,#424086 67.2%,#443b84 70.4%,#453581 73.6%,#472f7d 76.8%,#482979 80%,#482374 83.2%,#481d6f 86.4%,#481769 89.6%,#471063 92.8%,#46085c 96%,#440154 99.2%,#440154 100%)"></i><i style="background:linear-gradient(90deg,#27808e 0%,#27808e 0.2%,#27808e 0.4%,#27808e 0.6%,#27808e 0.8%,#27808e 1.2%,#27808e 1.6%,#27808e 2%,#27808e 2.4%,#27808e 3.2%,#27808e 4%,#27808e 4.8%,#27808e 5.6%,#27808e 6.8%,#277f8e 8%,#277f8e 9.6%,#277e8e 12.8%,#287c8e 16%,#297b8e 19.2%,#2a788e 22.4%,#2a768e 25.6%,#2c738e 28.8%,#2d718e 32%,#2e6e8e 35.2%,#2f6b8e 38.4%,#31678e 41.6%,#33638d 44.8%,#355f8d 48%,#375b8d 51.2%,#39568c 54.4%,#3b528b 57.6%,#3d4d8a 60.8%,#3f4788 64%,#414287 67.2%,#433d84 70.4%,#453781 73.6%,#46307e 76.8%,#472a7a 80%,#482475 83.2%,#481d6f 86.4%,#481769 89.6%,#471063 92.8%,#46085c 96%,#440154 99.2%,#440154 100%)"></i><i style="background:linear-gradient(90deg,#25848e 0%,#25848e 0.2%,#25848e 0.4%,#25848e 0.6%,#25848e 0.8%,#25848e 1.2%,#25848e 1.6%,#25848e 2%,#25848e 2.4%,#25848e 3.2%,#25838e 4%,#25838e 4.8%,#25838e 5.6%,#25838e 6.8%,#25838e 8%,#26828e 9.6%,#26828e 12.8%,#27808e 16%,#277e8e 19.2%,#287c8e 22.4%,#297a8e 25.6%,#2a778e 28.8%,#2b748e 32%,#2d718e 35.2%,#2e6e8e 38.4%,#306a8e 41.6%,#31668e 44.8%,#33628d 48%,#355e8d 51.2%,#38598c 54.4%,#3a538b 57.6%,#3c4f8a 60.8%,#3e4989 64%,#414487 67.2%,#433e85 70.4%,#453882 73.6%,#46327e 76.8%,#472c7a 80%,#482576 83.2%,#481f70 86.4%,#481769 89.6%,#471063 92.8%,#46085c 96%,#440154 99.2%,#440154 100%)"></i><i style="background:linear-gradient(90deg,#23888e 0%,#23888e 0.2%,#23888e 0.4%,#23888e 0.6%,#23888e 0.8%,#23888e 1.2%,#23888e 1.6%,#23888e 2%,#23888e 2.4%,#23888e 3.2%,#23888e 4%,#23888e 4.8%,#24878e 5.6%,#24878e 6.8%,#24878e 8%,#24868e 9.6%,#25858e 12.8%,#25838e 16%,#26828e 19.2%,#27808e 22.4%,#287d8e 25.6%,#297a8e 28.8%,#2a778e 32%,#2b748e 35.2%,#2d718e 38.4%,#2e6d8e 41.6%,#30698e 44.8%,#32648e 48%,#34608d 51.2%,#375b8d 54.4%,#39558c 57.6%,#3c508b 60.8%,#3e4a89 64%,#404588 67.2%,#423f85 70.4%,#443983 73.6%,#46337f 76.8%,#472d7b 80%,#482576 83.2%,#481f70 86.4%,#48186a 89.6%,#471063 92.8%,#46085c 96%,#440154 99.2%,#440154 100%)"></i><i style="background:linear-gradient(90deg,#228c8d 0%,#228c8d 0.2%,#228c8d 0.4%,#228c8d 0.6%,#228c8d 0.8%,#228c8d 1.2%,#228c8d 1.6%,#228c8d 2%,#228c8d 2.4%,#228c8d 3.2%,#228c8d 4%,#228c8d 4.8%,#228c8d 5.6%,#228b8d 6.8%,#228b8d 8%,#238a8d 9.6%,#23898e 12.8%,#24878e 16%,#25858e 19.2%,#25838e 22.4%,#26818e 25.6%,#277e8e 28.8%,#297a8e 32%,#2a778e 35.2%,#2c738e 38.4%,#2d708e 41.6%,#2f6b8e 44.8%,#31678e 48%,#33628d 51.2%,#365d8d 54.4%,#38588c 57.6%,#3b528b 60.8%,#3d4d8a 64%,#3f4788 67.2%,#424086 70.4%,#443a83 73.6%,#463480 76.8%,#472d7b 80%,#482677 83.2%,#481f70 86.4%,#48186a 89.6%,#471164 92.8%,#46085c 96%,#440154 99.2%,#440154 100%)"></i><i style="background:linear-gradient(90deg,#21908d 0%,#21908d 0.2%,#21908d 0.4%,#21908d 0.6%,#21908d 0.8%,#21908d 1.2%,#21908d 1.6%,#21908d 2%,#21908d 2.4%,#21908d 3.2%,#21908d 4%,#21908d 4.8%,#21908d 5.6%,#218f8d 6.8%,#218f8d 8%,#218e8d 9.6%,#228d8d 12.8%,#228b8d 16%,#23898e 19.2%,#24868e 22.4%,#25838e 25.6%,#26818e 28.8%,#287d8e 32%,#297a8e 35.2%,#2b758e 38.4%,#2c718e 41.6%,#2e6e8e 44.8%,#30698e 48%,#32648e 51.2%,#355f8d 54.4%,#375a8c 57.6%,#3a538b 60.8%,#3d4e8a 64%,#3f4889 67.2%,#424186 70.4%,#443b84 73.6%,#463480 76.8%,#472e7c 80%,#482677 83.2%,#482071 86.4%,#48186a 89.6%,#471164 92.8%,#46085c 96%,#440154 99.2%,#440154 100%)"></i><i style="background:linear-gradient(90deg,#20938c 0%,#20938c 0.2%,#20938c 0.4%,#20938c 0.6%,#20938c 0.8%,#20938c 1.2%,#20938c 1.6%,#20938c 2%,#20938c 2.4%,#20938c 3.2%,#20938c 4%,#20938c 4.8%,#20938c 5.6%,#20928c 6.8%,#20928c 8%,#20928c 9.6%,#21918c 12.8%,#218f8d 16%,#228d8d 19.2%,#238a8d 22.4%,#24878e 25.6%,#25838e 28.8%,#27808e 32%,#287c8e 35.2%,#2a788e 38.4%,#2b748e 41.6%,#2d708e 44.8%,#2f6b8e 48%,#31668e 51.2%,#34618d 54.4%,#375b8d 57.6%,#39558c 60.8%,#3c4f8a 64%,#3e4989 67.2%,#414287 70.4%,#433d84 73.6%,#453581 76.8%,#472e7c 80%,#482878 83.2%,#482071 86.4%,#48186a 89.6%,#471164 92.8%,#46085c 96%,#440154 99.2%,#440154 100%)"></i><i style="background:linear-gradient(90deg,#1f978b 0%,#1f978b 0.2%,#1f978b 0.4%,#1f978b 0.6%,#1f978b 0.8%,#1f978b 1.2%,#1f978b 1.6%,#1f978b 2%,#1f978b 2.4%,#1f978b 3.2%,#1f978b 4%,#1f978b 4.8%,#1f978b 5.6%,#1f968b 6.8%,#1f968b 8%,#1f958b 9.6%,#1f948c 12.8%,#20928c 16%,#21908d 19.2%,#228d8d 22.4%,#238a8d 25.6%,#24868e 28.8%,#26828e 32%,#277f8e 35.2%,#297b8e 38.4%,#2a768e 41.6%,#2c718e 44.8%,#2e6d8e 48%,#31688e 51.2%,#33628d 54.4%,#365d8d 57.6%,#39568c 60.8%,#3c508b 64%,#3e4a89 67.2%,#414487 70.4%,#433d84 73.6%,#453781 76.8%,#472f7d 80%,#482878 83.2%,#482071 86.4%,#481a6c 89.6%,#471164 92.8%,#460a5d 96%,#440154 99.2%,#440154 100%)"></i><i style="background:linear-gradient(90deg,#1e9b8a 0%,#1e9b8a 0.2%,#1e9b8a 0.4%,#1e9b8a 0.6%,#1e9b8a 0.8%,#1e9b8a 1.2%,#1e9b8a 1.6%,#1e9b8a 2%,#1e9b8a 2.4%,#1e9b8a 3.2%,#1e9b8a 4%,#1e9b8a 4.8%,#1e9b8a 5.6%,#1f9a8a 6.8%,#1f9a8a 8%,#1f998a 9.6%,#1f978b 12.8%,#1f958b 16%,#20938c 19.2%,#21918c 22.4%,#228d8d 25.6%,#23898e 28.8%,#25858e 32%,#26828e 35.2%,#287d8e 38.4%,#2a788e 41.6%,#2c738e 44.8%,#2e6f8e 48%,#30698e 51.2%,#32648e 54.4%,#355e8d 57.6%,#38588c 60.8%,#3b528b 64%,#3e4c8a 67.2%,#404588 70.4%,#433e85 73.6%,#453781 76.8%,#472f7d 80%,#482878 83.2%,#482173 86.4%,#481a6c 89.6%,#471164 92.8%,#460a5d 96%,#440154 99.2%,#440154 100%)"></i><i style="background:linear-gradient(90deg,#1f9f88 0%,#1f9f88 0.2%,#1f9f88 0.4%,#1f9f88 0.6%,#1f9f88 0.8%,#1f9f88 1.2%,#1f9f88 1.6%,#1f9f88 2%,#1f9f88 2.4%,#1f9f88 3.2%,#1f9f88 4%,#1f9f88 4.8%,#1f9e89 5.6%,#1f9e89 6.8%,#1f9e89 8%,#1e9d89 9.6%,#1e9b8a 12.8%,#1f998a 16%,#1f968b 19.2%,#20938c 22.4%,#21908d 25.6%,#228c8d 28.8%,#23888e 32%,#25838e 35.2%,#27808e 38.4%,#297a8e 41.6%,#2b758e 44.8%,#2d718e 48%,#2f6b8e 51.2%,#32658e 54.4%,#355f8d 57.6%,#38598c 60.8%,#3b528b 64%,#3e4c8a 67.2%,#404588 70.4%,#433e85 73.6%,#453882 76.8%,#46307e 80%,#482979 83.2%,#482173 86.4%,#481a6c 89.6%,#471164 92.8%,#460a5d 96%,#440154 99.2%,#440154 100%)"></i><i style="background:linear-gradient(90deg,#1fa287 0%,#1fa287 0.2%,#1fa287 0.4%,#1fa287 0.6%,#1fa287 0.8%,#1fa287 1.2%,#1fa287 1.6%,#1fa287 2%,#1fa287 2.4%,#1fa287 3.2%,#1fa287 4%,#1fa187 4.8%,#1fa187 5.6%,#1fa187 6.8%,#1fa188 8%,#1fa188 9.6%,#1f9f88 12.8%,#1e9c89 16%,#1f998a 19.2%,#1f968b 22.4%,#20928c 25.6%,#218f8d 28.8%,#228b8d 32%,#24868e 35.2%,#26828e 38.4%,#287d8e 41.6%,#2a778e 44.8%,#2c718e 48%,#2e6d8e 51.2%,#31678e 54.4%,#34618d 57.6%,#375a8c 60.8%,#3a538b 64%,#3d4d8a 67.2%,#404688 70.4%,#423f85 73.6%,#453882 76.8%,#46307e 80%,#482979 83.2%,#482173 86.4%,#481a6c 89.6%,#471164 92.8%,#460a5d 96%,#440154 99.2%,#440154 100%)"></i><i style="background:linear-gradient(90deg,#21a685 0%,#21a685 0.2%,#21a685 0.4%,#21a685 0.6%,#21a685 0.8%,#21a685 1.2%,#21a685 1.6%,#21a685 2%,#21a685 2.4%,#21a685 3.2%,#21a585 4%,#21a585 4.8%,#21a585 5.6%,#21a585 6.8%,#20a486 8%,#20a386 9.6%,#1fa187 12.8%,#1fa088 16%,#1e9d89 19.2%,#1f998a 22.4%,#1f958b 25.6%,#20928c 28.8%,#228d8d 32%,#23888e 35.2%,#25838e 38.4%,#277f8e 41.6%,#29798e 44.8%,#2c738e 48%,#2e6e8e 51.2%,#31688e 54.4%,#33628d 57.6%,#375b8d 60.8%,#3a548c 64%,#3d4e8a 67.2%,#3f4788 70.4%,#423f85 73.6%,#453882 76.8%,#46307e 80%,#482979 83.2%,#482173 86.4%,#481a6c 89.6%,#471164 92.8%,#460a5d 96%,#440154 99.2%,#440154 100%)"></i><i style="background:linear-gradient(90deg,#24aa83 0%,#24aa83 0.2%,#24aa83 0.4%,#24aa83 0.6%,#24aa83 0.8%,#23a983 1.2%,#23a983 1.6%,#23a983 2%,#23a983 2.4%,#23a983 3.2%,#23a983 4%,#23a983 4.8%,#23a983 5.6%,#22a884 6.8%,#22a884 8%,#22a785 9.6%,#21a585 12.8%,#1fa287 16%,#1fa088 19.2%,#1e9c89 22.4%,#1f988b 25.6%,#1f948c 28.8%,#21908d 32%,#228b8d 35.2%,#25858e 38.4%,#27808e 41.6%,#297a8e 44.8%,#2b748e 48%,#2e6f8e 51.2%,#30698e 54.4%,#33638d 57.6%,#365c8d 60.8%,#39558c 64%,#3d4e8a 67.2%,#3f4788 70.4%,#424086 73.6%,#453882 76.8%,#46307e 80%,#482979 83.2%,#482173 86.4%,#481a6c 89.6%,#471164 92.8%,#460a5d 96%,#440154 99.2%,#440154 100%)"></i><i style="background:linear-gradient(90deg,#26ad81 0%,#26ad81 0.2%,#26ad81 0.4%,#26ad81 0.6%,#26ad81 0.8%,#26ad81 1.2%,#26ad81 1.6%,#26ad81 2%,#26ad81 2.4%,#26ad81 3.2%,#26ad81 4%,#25ac82 4.8%,#25ac82 5.6%,#25ac82 6.8%,#25ab82 8%,#24aa83 9.6%,#22a884 12.8%,#21a585 16%,#1fa287 19.2%,#1f9f88 22.4%,#1e9b8a 25.6%,#1f968b 28.8%,#20928c 32%,#228d8d 35.2%,#24878e 38.4%,#26828e 41.6%,#287c8e 44.8%,#2a768e 48%,#2d708e 51.2%,#306a8e 54.4%,#33638d 57.6%,#365d8d 60.8%,#39558c 64%,#3c4f8a 67.2%,#3f4788 70.4%,#424086 73.6%,#443983 76.8%,#46307e 80%,#482979 83.2%,#482173 86.4%,#481a6c 89.6%,#471164 92.8%,#460a5d 96%,#440154 99.2%,#440154 100%)"></i><i style="background:linear-gradient(90deg,#2ab07f 0%,#2ab07f 0.2%,#2ab07f 0.4%,#2ab07f 0.6%,#2ab07f 0.8%,#2ab07f 1.2%,#2ab07f 1.6%,#2ab07f 2%,#29af7f 2.4%,#29af7f 3.2%,#29af7f 4%,#29af7f 4.8%,#29af7f 5.6%,#28ae80 6.8%,#28ae80 8%,#27ad81 9.6%,#25ab82 12.8%,#22a884 16%,#21a585 19.2%,#1fa187 22.4%,#1e9d89 25.6%,#1f998a 28.8%,#20938c 32%,#218f8d 35.2%,#23898e 38.4%,#25838e 41.6%,#287d8e 44.8%,#2a778e 48%,#2d718e 51.2%,#2f6b8e 54.4%,#32648e 57.6%,#365d8d 60.8%,#39568c 64%,#3c4f8a 67.2%,#3f4889 70.4%,#424086 73.6%,#443983 76.8%,#46307e 80%,#482979 83.2%,#482173 86.4%,#481a6c 89.6%,#471164 92.8%,#460a5d 96%,#440154 99.2%,#440154 100%)"></i><i style="background:linear-gradient(90deg,#2eb37c 0%,#2eb37c 0.2%,#2eb37c 0.4%,#2eb37c 0.6%,#2eb37c 0.8%,#2eb37c 1.2%,#2eb37c 1.6%,#2eb37c 2%,#2eb37c 2.4%,#2eb37c 3.2%,#2eb37c 4%,#2db27d 4.8%,#2db27d 5.6%,#2db27d 6.8%,#2cb17e 8%,#2ab07f 9.6%,#28ae80 12.8%,#25ab82 16%,#22a884 19.2%,#20a486 22.4%,#1fa088 25.6%,#1e9b8a 28.8%,#1f958b 32%,#21908d 35.2%,#238a8d 38.4%,#25848e 41.6%,#277f8e 44.8%,#2a788e 48%,#2c718e 51.2%,#2f6b8e 54.4%,#32658e 57.6%,#355e8d 60.8%,#39568c 64%,#3c4f8a 67.2%,#3f4889 70.4%,#424086 73.6%,#443983 76.8%,#46327e 80%,#482979 83.2%,#482173 86.4%,#481a6c 89.6%,#471164 92.8%,#460a5d 96%,#440154 99.2%,#440154 100%)"></i><i style="background:linear-gradient(90deg,#32b67a 0%,#32b67a 0.2%,#32b67a 0.4%,#32b67a 0.6%,#32b67a 0.8%,#32b67a 1.2%,#32b67a 1.6%,#32b67a 2%,#32b67a 2.4%,#32b67a 3.2%,#32b67a 4%,#32b67a 4.8%,#31b57b 5.6%,#31b57b 6.8%,#2fb47c 8%,#2eb37c 9.6%,#2cb17e 12.8%,#27ad81 16%,#25ab82 19.2%,#21a685 22.4%,#1fa187 25.6%,#1e9d89 28.8%,#1f978b 32%,#20928c 35.2%,#228c8d 38.4%,#25858e 41.6%,#27808e 44.8%,#29798e 48%,#2c728e 51.2%,#2f6c8e 54.4%,#32658e 57.6%,#355e8d 60.8%,#39568c 64%,#3c508b 67.2%,#3f4889 70.4%,#424086 73.6%,#443983 76.8%,#46307e 80%,#482979 83.2%,#482173 86.4%,#481a6c 89.6%,#471164 92.8%,#460a5d 96%,#440154 99.2%,#440154 100%)"></i><i style="background:linear-gradient(90deg,#38b977 0%,#38b977 0.2%,#38b977 0.4%,#38b977 0.6%,#38b977 0.8%,#38b977 1.2%,#38b977 1.6%,#38b977 2%,#37b878 2.4%,#37b878 3.2%,#37b878 4%,#37b878 4.8%,#35b779 5.6%,#35b779 6.8%,#34b679 8%,#32b67a 9.6%,#2fb47c 12.8%,#2ab07f 16%,#26ad81 19.2%,#23a983 22.4%,#20a486 25.6%,#1f9f88 28.8%,#1f998a 32%,#20938c 35.2%,#228d8d 38.4%,#24878e 41.6%,#26818e 44.8%,#297a8e 48%,#2c738e 51.2%,#2e6d8e 54.4%,#31668e 57.6%,#355f8d 60.8%,#38588c 64%,#3c508b 67.2%,#3f4889 70.4%,#424086 73.6%,#443983 76.8%,#46307e 80%,#482979 83.2%,#482173 86.4%,#481a6c 89.6%,#471164 92.8%,#460a5d 96%,#440154 99.2%,#440154 100%)"></i><i style="background:linear-gradient(90deg,#3dbc74 0%,#3dbc74 0.2%,#3dbc74 0.4%,#3dbc74 0.6%,#3dbc74 0.8%,#3dbc74 1.2%,#3dbc74 1.6%,#3dbc74 2%,#3dbc74 2.4%,#3bbb75 3.2%,#3bbb75 4%,#3bbb75 4.8%,#3bbb75 5.6%,#3aba76 6.8%,#38b977 8%,#37b878 9.6%,#32b67a 12.8%,#2eb37c 16%,#29af7f 19.2%,#25ab82 22.4%,#21a685 25.6%,#1fa188 28.8%,#1e9b8a 32%,#1f948c 35.2%,#218f8d 38.4%,#23888e 41.6%,#26828e 44.8%,#297a8e 48%,#2c738e 51.2%,#2e6d8e 54.4%,#31668e 57.6%,#355f8d 60.8%,#38588c 64%,#3c508b 67.2%,#3f4889 70.4%,#424086 73.6%,#443983 76.8%,#46307e 80%,#482979 83.2%,#482173 86.4%,#481a6c 89.6%,#471164 92.8%,#46085c 96%,#440154 99.2%,#440154 100%)"></i><i style="background:linear-gradient(90deg,#42be71 0%,#42be71 0.2%,#42be71 0.4%,#42be71 0.6%,#42be71 0.8%,#42be71 1.2%,#42be71 1.6%,#42be71 2%,#42be71 2.4%,#40bd72 3.2%,#40bd72 4%,#40bd72 4.8%,#40bd72 5.6%,#3fbc73 6.8%,#3dbc74 8%,#3bbb75 9.6%,#37b878 12.8%,#32b67a 16%,#2cb17e 19.2%,#26ad81 22.4%,#22a884 25.6%,#1fa287 28.8%,#1e9c89 32%,#1f968b 35.2%,#21908d 38.4%,#23898e 41.6%,#26828e 44.8%,#297b8e 48%,#2b748e 51.2%,#2e6d8e 54.4%,#31668e 57.6%,#355f8d 60.8%,#38588c 64%,#3c508b 67.2%,#3f4889 70.4%,#424086 73.6%,#453882 76.8%,#46307e 80%,#482979 83.2%,#482173 86.4%,#481a6c 89.6%,#471164 92.8%,#46085c 96%,#440154 99.2%,#440154 100%)"></i><i style="background:linear-gradient(90deg,#48c16e 0%,#48c16e 0.2%,#48c16e 0.4%,#48c16e 0.6%,#48c16e 0.8%,#48c16e 1.2%,#48c16e 1.6%,#48c16e 2%,#48c16e 2.4%,#46c06f 3.2%,#46c06f 4%,#46c06f 4.8%,#46c06f 5.6%,#44bf70 6.8%,#42be71 8%,#40bd72 9.6%,#3bbb75 12.8%,#35b779 16%,#2eb37c 19.2%,#28ae80 22.4%,#24aa83 25.6%,#20a386 28.8%,#1f9e89 32%,#1f978b 35.2%,#21918c 38.4%,#23898e 41.6%,#26828e 44.8%,#297b8e 48%,#2b748e 51.2%,#2e6e8e 54.4%,#31668e 57.6%,#355f8d 60.8%,#38588c 64%,#3c508b 67.2%,#3f4889 70.4%,#424086 73.6%,#453882 76.8%,#46307e 80%,#482979 83.2%,#482071 86.4%,#481a6c 89.6%,#471164 92.8%,#46085c 96%,#440154 99.2%,#440154 100%)"></i><i style="background:linear-gradient(90deg,#4ec36b 0%,#4ec36b 0.2%,#4ec36b 0.4%,#4ec36b 0.6%,#4ec36b 0.8%,#4ec36b 1.2%,#4ec36b 1.6%,#4ec36b 2%,#4ec36b 2.4%,#4cc26c 3.2%,#4cc26c 4%,#4cc26c 4.8%,#4ac16d 5.6%,#4ac16d 6.8%,#48c16e 8%,#46c06f 9.6%,#3fbc73 12.8%,#38b977 16%,#32b67a 19.2%,#2ab07f 22.4%,#25ab82 25.6%,#21a585 28.8%,#1f9f88 32%,#1f988b 35.2%,#20928c 38.4%,#238a8d 41.6%,#26828e 44.8%,#287c8e 48%,#2b748e 51.2%,#2e6e8e 54.4%,#31668e 57.6%,#355f8d 60.8%,#39568c 64%,#3c4f8a 67.2%,#3f4788 70.4%,#424086 73.6%,#453882 76.8%,#46307e 80%,#482878 83.2%,#482071 86.4%,#48186a 89.6%,#471164 92.8%,#46085c 96%,#440154 99.2%,#440154 100%)"></i><i style="background:linear-gradient(90deg,#54c568 0%,#54c568 0.2%,#54c568 0.4%,#54c568 0.6%,#54c568 0.8%,#54c568 1.2%,#52c569 1.6%,#52c569 2%,#52c569 2.4%,#52c569 3.2%,#52c569 4%,#50c46a 4.8%,#50c46a 5.6%,#4ec36b 6.8%,#4ec36b 8%,#4ac16d 9.6%,#44bf70 12.8%,#3dbc74 16%,#35b779 19.2%,#2db27d 22.4%,#26ad81 25.6%,#21a685 28.8%,#1fa088 32%,#1f998a 35.2%,#20928c 38.4%,#228b8d 41.6%,#25838e 44.8%,#287c8e 48%,#2b748e 51.2%,#2e6e8e 54.4%,#31668e 57.6%,#355e8d 60.8%,#39568c 64%,#3c4f8a 67.2%,#3f4788 70.4%,#423f85 73.6%,#453882 76.8%,#472f7d 80%,#482878 83.2%,#482071 86.4%,#48186a 89.6%,#471164 92.8%,#46085c 96%,#440154 99.2%,#440154 100%)"></i><i style="background:linear-gradient(90deg,#58c765 0%,#58c765 0.2%,#58c765 0.4%,#58c765 0.6%,#58c765 0.8%,#58c765 1.2%,#58c765 1.6%,#58c765 2%,#58c765 2.4%,#58c765 3.2%,#58c765 4%,#56c667 4.8%,#56c667 5.6%,#54c568 6.8%,#52c569 8%,#50c46a 9.6%,#48c16e 12.8%,#40bd72 16%,#38b977 19.2%,#2fb47c 22.4%,#27ad81 25.6%,#22a785 28.8%,#1fa188 32%,#1f9a8a 35.2%,#20928c 38.4%,#228b8d 41.6%,#25838e 44.8%,#287c8e 48%,#2b748e 51.2%,#2e6d8e 54.4%,#31668e 57.6%,#355e8d 60.8%,#39568c 64%,#3c4f8a 67.2%,#3f4788 70.4%,#423f85 73.6%,#453781 76.8%,#472f7d 80%,#482878 83.2%,#482071 86.4%,#48186a 89.6%,#471063 92.8%,#46085c 96%,#440154 99.2%,#440154 100%)"></i><i style="background:linear-gradient(90deg,#5ec962 0%,#5ec962 0.2%,#5ec962 0.4%,#5ec962 0.6%,#5ec962 0.8%,#5ec962 1.2%,#5ec962 1.6%,#5ec962 2%,#5ec962 2.4%,#5cc863 3.2%,#5cc863 4%,#5cc863 4.8%,#5ac864 5.6%,#5ac864 6.8%,#58c765 8%,#54c568 9.6%,#4cc26c 12.8%,#44bf70 16%,#3aba76 19.2%,#31b57b 22.4%,#29af7f 25.6%,#23a983 28.8%,#1fa187 32%,#1f9a8a 35.2%,#20928c 38.4%,#228b8d 41.6%,#25838e 44.8%,#287c8e 48%,#2b748e 51.2%,#2e6d8e 54.4%,#32658e 57.6%,#355e8d 60.8%,#39558c 64%,#3d4e8a 67.2%,#404688 70.4%,#433e85 73.6%,#453781 76.8%,#472e7c 80%,#482677 83.2%,#481f70 86.4%,#48186a 89.6%,#471063 92.8%,#46085c 96%,#440154 99.2%,#440154 100%)"></i><i style="background:linear-gradient(90deg,#63cb5f 0%,#63cb5f 0.2%,#63cb5f 0.4%,#63cb5f 0.6%,#63cb5f 0.8%,#63cb5f 1.2%,#63cb5f 1.6%,#63cb5f 2%,#63cb5f 2.4%,#63cb5f 3.2%,#63cb5f 4%,#60ca60 4.8%,#60ca60 5.6%,#5ec962 6.8%,#5cc863 8%,#58c765 9.6%,#52c569 12.8%,#48c16e 16%,#3dbc74 19.2%,#34b679 22.4%,#2ab07f 25.6%,#24aa83 28.8%,#1fa287 32%,#1e9b8a 35.2%,#20938c 38.4%,#228b8d 41.6%,#25838e 44.8%,#287c8e 48%,#2b748e 51.2%,#2e6d8e 54.4%,#32658e 57.6%,#365d8d 60.8%,#39558c 64%,#3d4e8a 67.2%,#404688 70.4%,#433e85 73.6%,#453581 76.8%,#472e7c 80%,#482677 83.2%,#481f70 86.4%,#481769 89.6%,#471063 92.8%,#46085c 96%,#440154 99.2%,#440154 100%)"></i><i style="background:linear-gradient(90deg,#69cd5b 0%,#69cd5b 0.2%,#69cd5b 0.4%,#69cd5b 0.6%,#69cd5b 0.8%,#69cd5b 1.2%,#69cd5b 1.6%,#69cd5b 2%,#69cd5b 2.4%,#67cc5c 3.2%,#67cc5c 4%,#67cc5c 4.8%,#65cb5e 5.6%,#63cb5f 6.8%,#60ca60 8%,#5ec962 9.6%,#56c667 12.8%,#4cc26c 16%,#40bd72 19.2%,#35b779 22.4%,#2cb17e 25.6%,#24aa83 28.8%,#1fa287 32%,#1e9b8a 35.2%,#20938c 38.4%,#228b8d 41.6%,#25838e 44.8%,#287c8e 48%,#2c738e 51.2%,#2f6c8e 54.4%,#32648e 57.6%,#365d8d 60.8%,#3a548c 64%,#3d4d8a 67.2%,#404588 70.4%,#433d84 73.6%,#453581 76.8%,#472e7c 80%,#482677 83.2%,#481f70 86.4%,#481769 89.6%,#471063 92.8%,#46085c 96%,#440154 99.2%,#440154 100%)"></i><i style="background:linear-gradient(90deg,#6ece58 0%,#6ece58 0.2%,#6ece58 0.4%,#6ece58 0.6%,#6ece58 0.8%,#6ece58 1.2%,#6ece58 1.6%,#6ece58 2%,#6ece58 2.4%,#6ece58 3.2%,#6ccd5a 4%,#6ccd5a 4.8%,#69cd5b 5.6%,#69cd5b 6.8%,#65cb5e 8%,#63cb5f 9.6%,#5ac864 12.8%,#4ec36b 16%,#42be71 19.2%,#37b878 22.4%,#2db27d 25.6%,#25ab82 28.8%,#20a386 32%,#1e9c89 35.2%,#20938c 38.4%,#228b8d 41.6%,#25838e 44.8%,#297b8e 48%,#2c738e 51.2%,#2f6c8e 54.4%,#32648e 57.6%,#365c8d 60.8%,#3a548c 64%,#3e4c8a 67.2%,#414487 70.4%,#433d84 73.6%,#463480 76.8%,#472d7b 80%,#482576 83.2%,#481d6f 86.4%,#481769 89.6%,#471063 92.8%,#46085c 96%,#440154 99.2%,#440154 100%)"></i><i style="background:linear-gradient(90deg,#75d054 0%,#75d054 0.2%,#75d054 0.4%,#75d054 0.6%,#75d054 0.8%,#75d054 1.2%,#73d056 1.6%,#73d056 2%,#73d056 2.4%,#73d056 3.2%,#73d056 4%,#70cf57 4.8%,#70cf57 5.6%,#6ece58 6.8%,#6ccd5a 8%,#67cc5c 9.6%,#5cc863 12.8%,#52c569 16%,#46c06f 19.2%,#3aba76 22.4%,#2eb37c 25.6%,#25ac82 28.8%,#20a386 32%,#1e9c89 35.2%,#20938c 38.4%,#228b8d 41.6%,#26828e 44.8%,#297b8e 48%,#2c728e 51.2%,#2f6b8e 54.4%,#33638d 57.6%,#375b8d 60.8%,#3a538b 64%,#3e4c8a 67.2%,#414487 70.4%,#443b84 73.6%,#463480 76.8%,#472d7b 80%,#482576 83.2%,#481d6f 86.4%,#481769 89.6%,#471063 92.8%,#46085c 96%,#440154 99.2%,#440154 100%)"></i><i style="background:linear-gradient(90deg,#7ad151 0%,#7ad151 0.2%,#7ad151 0.4%,#7ad151 0.6%,#7ad151 0.8%,#7ad151 1.2%,#7ad151 1.6%,#7ad151 2%,#77d153 2.4%,#77d153 3.2%,#77d153 4%,#75d054 4.8%,#75d054 5.6%,#73d056 6.8%,#70cf57 8%,#6ccd5a 9.6%,#60ca60 12.8%,#56c667 16%,#48c16e 19.2%,#3bbb75 22.4%,#2fb47c 25.6%,#25ac82 28.8%,#20a486 32%,#1e9c89 35.2%,#20938c 38.4%,#228b8d 41.6%,#26828e 44.8%,#297a8e 48%,#2c728e 51.2%,#306a8e 54.4%,#33628d 57.6%,#375b8d 60.8%,#3b528b 64%,#3e4a89 67.2%,#414287 70.4%,#443a83 73.6%,#46337f 76.8%,#472c7a 80%,#482475 83.2%,#481d6f 86.4%,#481668 89.6%,#470e61 92.8%,#46085c 96%,#440154 99.2%,#440154 100%)"></i><i style="background:linear-gradient(90deg,#7fd34e 0%,#7fd34e 0.2%,#7fd34e 0.4%,#7fd34e 0.6%,#7fd34e 0.8%,#7fd34e 1.2%,#7fd34e 1.6%,#7fd34e 2%,#7fd34e 2.4%,#7cd250 3.2%,#7cd250 4%,#7ad151 4.8%,#7ad151 5.6%,#77d153 6.8%,#75d054 8%,#70cf57 9.6%,#65cb5e 12.8%,#58c765 16%,#4ac16d 19.2%,#3bbb75 22.4%,#2fb47c 25.6%,#26ad81 28.8%,#20a486 32%,#1e9c89 35.2%,#20928c 38.4%,#238a8d 41.6%,#26828e 44.8%,#297a8e 48%,#2c718e 51.2%,#306a8e 54.4%,#33628d 57.6%,#375a8c 60.8%,#3b518b 64%,#3e4989 67.2%,#424186 70.4%,#443a83 73.6%,#46327e 76.8%,#472a7a 80%,#482475 83.2%,#481c6e 86.4%,#481668 89.6%,#470e61 92.8%,#46075a 96%,#440154 99.2%,#440154 100%)"></i><i style="background:linear-gradient(90deg,#84d44b 0%,#84d44b 0.2%,#84d44b 0.4%,#84d44b 0.6%,#84d44b 0.8%,#84d44b 1.2%,#84d44b 1.6%,#84d44b 2%,#84d44b 2.4%,#81d34d 3.2%,#81d34d 4%,#7fd34e 4.8%,#7fd34e 5.6%,#7cd250 6.8%,#77d153 8%,#73d056 9.6%,#67cc5c 12.8%,#5ac864 16%,#4cc26c 19.2%,#3dbc74 22.4%,#31b57b 25.6%,#26ad81 28.8%,#20a486 32%,#1e9b8a 35.2%,#20928c 38.4%,#238a8d 41.6%,#26828e 44.8%,#29798e 48%,#2d718e 51.2%,#30698e 54.4%,#34618d 57.6%,#38598c 60.8%,#3c508b 64%,#3f4889 67.2%,#424086 70.4%,#443983 73.6%,#46327e 76.8%,#472a7a 80%,#482374 83.2%,#481c6e 86.4%,#481668 89.6%,#470e61 92.8%,#46075a 96%,#440154 99.2%,#440154 100%)"></i><i style="background:linear-gradient(90deg,#89d548 0%,#89d548 0.2%,#89d548 0.4%,#89d548 0.6%,#89d548 0.8%,#89d548 1.2%,#89d548 1.6%,#89d548 2%,#89d548 2.4%,#86d549 3.2%,#86d549 4%,#84d44b 4.8%,#84d44b 5.6%,#7fd34e 6.8%,#7cd250 8%,#77d153 9.6%,#6ccd5a 12.8%,#5cc863 16%,#4ec36b 19.2%,#3fbc73 22.4%,#31b57b 25.6%,#26ad81 28.8%,#20a486 32%,#1e9b8a 35.2%,#20928c 38.4%,#23898e 41.6%,#26818e 44.8%,#2a788e 48%,#2d708e 51.2%,#31688e 54.4%,#34608d 57.6%,#38588c 60.8%,#3c508b 64%,#3f4788 67.2%,#424086 70.4%,#453882 73.6%,#46307e 76.8%,#482979 80%,#482374 83.2%,#481b6d 86.4%,#481467 89.6%,#470e61 92.8%,#46075a 96%,#440154 99.2%,#440154 100%)"></i><i style="background:linear-gradient(90deg,#8ed645 0%,#8ed645 0.2%,#8ed645 0.4%,#8ed645 0.6%,#8ed645 0.8%,#8ed645 1.2%,#8ed645 1.6%,#8ed645 2%,#8bd646 2.4%,#8bd646 3.2%,#8bd646 4%,#89d548 4.8%,#86d549 5.6%,#84d44b 6.8%,#81d34d 8%,#7cd250 9.6%,#6ece58 12.8%,#60ca60 16%,#50c46a 19.2%,#3fbc73 22.4%,#31b57b 25.6%,#26ad81 28.8%,#20a386 32%,#1e9b8a 35.2%,#20928c 38.4%,#23888e 41.6%,#27808e 44.8%,#2a778e 48%,#2e6f8e 51.2%,#31678e 54.4%,#355f8d 57.6%,#39568c 60.8%,#3c4f8a 64%,#404688 67.2%,#423f85 70.4%,#453781 73.6%,#472f7d 76.8%,#482979 80%,#482173 83.2%,#481b6d 86.4%,#481467 89.6%,#470d60 92.8%,#46075a 96%,#440154 99.2%,#440154 100%)"></i><i style="background:linear-gradient(90deg,#93d741 0%,#93d741 0.2%,#93d741 0.4%,#93d741 0.6%,#93d741 0.8%,#93d741 1.2%,#93d741 1.6%,#90d743 2%,#90d743 2.4%,#90d743 3.2%,#8ed645 4%,#8ed645 4.8%,#8bd646 5.6%,#89d548 6.8%,#84d44b 8%,#7fd34e 9.6%,#70cf57 12.8%,#63cb5f 16%,#52c569 19.2%,#40bd72 22.4%,#32b67a 25.6%,#26ad81 28.8%,#20a386 32%,#1f9a8a 35.2%,#21918c 38.4%,#23888e 41.6%,#277f8e 44.8%,#2a768e 48%,#2e6e8e 51.2%,#31668e 54.4%,#355e8d 57.6%,#39558c 60.8%,#3d4e8a 64%,#404688 67.2%,#433e85 70.4%,#453781 73.6%,#472f7d 76.8%,#482878 80%,#482173 83.2%,#481b6d 86.4%,#481467 89.6%,#470d60 92.8%,#46075a 96%,#440154 99.2%,#440154 100%)"></i><i style="background:linear-gradient(90deg,#95d840 0%,#95d840 0.2%,#95d840 0.4%,#95d840 0.6%,#95d840 0.8%,#95d840 1.2%,#95d840 1.6%,#95d840 2%,#95d840 2.4%,#95d840 3.2%,#93d741 4%,#93d741 4.8%,#90d743 5.6%,#8bd646 6.8%,#89d548 8%,#84d44b 9.6%,#75d054 12.8%,#63cb5f 16%,#52c569 19.2%,#40bd72 22.4%,#32b67a 25.6%,#26ad81 28.8%,#20a386 32%,#1f998a 35.2%,#21908d 38.4%,#24878e 41.6%,#277e8e 44.8%,#2b758e 48%,#2e6d8e 51.2%,#32658e 54.4%,#365d8d 57.6%,#3a548c 60.8%,#3e4c8a 64%,#404588 67.2%,#433d84 70.4%,#453581 73.6%,#472e7c 76.8%,#482677 80%,#482071 83.2%,#481a6c 86.4%,#471365 89.6%,#470d60 92.8%,#46075a 96%,#440154 99.2%,#440154 100%)"></i><i style="background:linear-gradient(90deg,#9bd93c 0%,#9bd93c 0.2%,#9bd93c 0.4%,#9bd93c 0.6%,#9bd93c 0.8%,#9bd93c 1.2%,#9bd93c 1.6%,#9bd93c 2%,#9bd93c 2.4%,#98d83e 3.2%,#98d83e 4%,#95d840 4.8%,#93d741 5.6%,#90d743 6.8%,#8bd646 8%,#86d549 9.6%,#77d153 12.8%,#65cb5e 16%,#54c568 19.2%,#40bd72 22.4%,#32b67a 25.6%,#25ac82 28.8%,#1fa287 32%,#1f998a 35.2%,#21908d 38.4%,#24868e 41.6%,#287d8e 44.8%,#2b748e 48%,#2f6c8e 51.2%,#33638d 54.4%,#375b8d 57.6%,#3a538b 60.8%,#3e4a89 64%,#414487 67.2%,#443b84 70.4%,#463480 73.6%,#472d7b 76.8%,#482677 80%,#482071 83.2%,#481a6c 86.4%,#471365 89.6%,#470d60 92.8%,#46075a 96%,#440154 99.2%,#440154 100%)"></i><i style="background:linear-gradient(90deg,#a0da39 0%,#a0da39 0.2%,#a0da39 0.4%,#a0da39 0.6%,#a0da39 0.8%,#a0da39 1.2%,#a0da39 1.6%,#9dd93b 2%,#9dd93b 2.4%,#9dd93b 3.2%,#9bd93c 4%,#9bd93c 4.8%,#98d83e 5.6%,#93d741 6.8%,#90d743 8%,#89d548 9.6%,#7ad151 12.8%,#67cc5c 16%,#54c568 19.2%,#40bd72 22.4%,#31b57b 25.6%,#25ac82 28.8%,#1fa187 32%,#1f988b 35.2%,#218f8d 38.4%,#25858e 41.6%,#287c8e 44.8%,#2c738e 48%,#2f6b8e 51.2%,#33628d 54.4%,#375a8c 57.6%,#3b528b 60.8%,#3e4989 64%,#414287 67.2%,#443a83 70.4%,#46337f 73.6%,#472c7a 76.8%,#482576 80%,#481f70 83.2%,#48186a 86.4%,#471365 89.6%,#470d60 92.8%,#46075a 96%,#440154 99.2%,#440154 100%)"></i><i style="background:linear-gradient(90deg,#a2da37 0%,#a2da37 0.2%,#a2da37 0.4%,#a2da37 0.6%,#a2da37 0.8%,#a2da37 1.2%,#a2da37 1.6%,#a2da37 2%,#a2da37 2.4%,#a0da39 3.2%,#a0da39 4%,#9dd93b 4.8%,#9bd93c 5.6%,#98d83e 6.8%,#93d741 8%,#8bd646 9.6%,#7cd250 12.8%,#69cd5b 16%,#54c568 19.2%,#40bd72 22.4%,#31b57b 25.6%,#25ab82 28.8%,#1fa187 32%,#1f978b 35.2%,#228d8d 38.4%,#25838e 41.6%,#297b8e 44.8%,#2c718e 48%,#30698e 51.2%,#34618d 54.4%,#38598c 57.6%,#3c508b 60.8%,#3f4889 64%,#424086 67.2%,#443983 70.4%,#46327e 73.6%,#472c7a 76.8%,#482475 80%,#481d6f 83.2%,#48186a 86.4%,#471164 89.6%,#460b5e 92.8%,#450559 96%,#440154 99.2%,#440154 100%)"></i><i style="background:linear-gradient(90deg,#a8db34 0%,#a8db34 0.2%,#a8db34 0.4%,#a8db34 0.6%,#a8db34 0.8%,#a8db34 1.2%,#a8db34 1.6%,#a8db34 2%,#a5db36 2.4%,#a5db36 3.2%,#a2da37 4%,#a2da37 4.8%,#a0da39 5.6%,#9bd93c 6.8%,#95d840 8%,#8ed645 9.6%,#7cd250 12.8%,#69cd5b 16%,#56c667 19.2%,#40bd72 22.4%,#31b57b 25.6%,#25ab82 28.8%,#1fa188 32%,#1f968b 35.2%,#228c8d 38.4%,#26828e 41.6%,#29798e 44.8%,#2d718e 48%,#31688e 51.2%,#34608d 54.4%,#38588c 57.6%,#3c4f8a 60.8%,#3f4788 64%,#423f85 67.2%,#453882 70.4%,#46307e 73.6%,#472a7a 76.8%,#482475 80%,#481d6f 83.2%,#481769 86.4%,#471164 89.6%,#460b5e 92.8%,#450559 96%,#440154 99.2%,#440154 100%)"></i><i style="background:linear-gradient(90deg,#aadc32 0%,#aadc32 0.2%,#aadc32 0.4%,#aadc32 0.6%,#aadc32 0.8%,#aadc32 1.2%,#aadc32 1.6%,#aadc32 2%,#aadc32 2.4%,#a8db34 3.2%,#a8db34 4%,#a5db36 4.8%,#a2da37 5.6%,#9dd93b 6.8%,#98d83e 8%,#90d743 9.6%,#7fd34e 12.8%,#69cd5b 16%,#56c667 19.2%,#40bd72 22.4%,#2fb47c 25.6%,#24aa83 28.8%,#1fa088 32%,#1f958b 35.2%,#228b8d 38.4%,#26828e 41.6%,#2a788e 44.8%,#2e6f8e 48%,#31678e 51.2%,#355e8d 54.4%,#39558c 57.6%,#3d4e8a 60.8%,#404688 64%,#433e85 67.2%,#453781 70.4%,#472f7d 73.6%,#482979 76.8%,#482374 80%,#481c6e 83.2%,#481769 86.4%,#471164 89.6%,#460b5e 92.8%,#450559 96%,#440154 99.2%,#440154 100%)"></i><i style="background:linear-gradient(90deg,#b0dd2f 0%,#b0dd2f 0.2%,#b0dd2f 0.4%,#b0dd2f 0.6%,#b0dd2f 0.8%,#b0dd2f 1.2%,#addc30 1.6%,#addc30 2%,#addc30 2.4%,#addc30 3.2%,#aadc32 4%,#a8db34 4.8%,#a5db36 5.6%,#a2da37 6.8%,#9dd93b 8%,#93d741 9.6%,#81d34d 12.8%,#6ccd5a 16%,#56c667 19.2%,#40bd72 22.4%,#2eb37c 25.6%,#23a983 28.8%,#1f9f88 32%,#20938c 35.2%,#238a8d 38.4%,#27808e 41.6%,#2a768e 44.8%,#2e6e8e 48%,#32658e 51.2%,#365d8d 54.4%,#3a548c 57.6%,#3d4d8a 60.8%,#404588 64%,#433d84 67.2%,#453581 70.4%,#472f7d 73.6%,#482878 76.8%,#482173 80%,#481c6e 83.2%,#481668 86.4%,#471063 89.6%,#460b5e 92.8%,#450559 96%,#440154 99.2%,#440154 100%)"></i><i style="background:linear-gradient(90deg,#b2dd2d 0%,#b2dd2d 0.2%,#b2dd2d 0.4%,#b2dd2d 0.6%,#b2dd2d 0.8%,#b2dd2d 1.2%,#b2dd2d 1.6%,#b2dd2d 2%,#b0dd2f 2.4%,#b0dd2f 3.2%,#addc30 4%,#aadc32 4.8%,#a8db34 5.6%,#a5db36 6.8%,#a0da39 8%,#95d840 9.6%,#81d34d 12.8%,#6ccd5a 16%,#56c667 19.2%,#3fbc73 22.4%,#2eb37c 25.6%,#22a884 28.8%,#1e9d89 32%,#20928c 35.2%,#23888e 38.4%,#277f8e 41.6%,#2b758e 44.8%,#2e6d8e 48%,#32648e 51.2%,#375b8d 54.4%,#3a538b 57.6%,#3e4a89 60.8%,#414287 64%,#443b84 67.2%,#463480 70.4%,#472e7c 73.6%,#482878 76.8%,#482173 80%,#481b6d 83.2%,#481668 86.4%,#471063 89.6%,#460a5d 92.8%,#450559 96%,#440154 99.2%,#440154 100%)"></i><i style="background:linear-gradient(90deg,#b5de2b 0%,#b5de2b 0.2%,#b5de2b 0.4%,#b5de2b 0.6%,#b5de2b 0.8%,#b5de2b 1.2%,#b5de2b 1.6%,#b5de2b 2%,#b5de2b 2.4%,#b2dd2d 3.2%,#b0dd2f 4%,#b0dd2f 4.8%,#aadc32 5.6%,#a8db34 6.8%,#a0da39 8%,#98d83e 9.6%,#84d44b 12.8%,#6ccd5a 16%,#54c568 19.2%,#3fbc73 22.4%,#2db27d 25.6%,#22a785 28.8%,#1e9c89 32%,#20928c 35.2%,#24878e 38.4%,#287d8e 41.6%,#2c738e 44.8%,#2f6b8e 48%,#33628d 51.2%,#375a8c 54.4%,#3b518b 57.6%,#3e4989 60.8%,#424186 64%,#443a83 67.2%,#46337f 70.4%,#472d7b 73.6%,#482677 76.8%,#482071 80%,#481b6d 83.2%,#481668 86.4%,#471063 89.6%,#460a5d 92.8%,#450559 96%,#440154 99.2%,#440154 100%)"></i><i style="background:linear-gradient(90deg,#bade28 0%,#bade28 0.2%,#bade28 0.4%,#bade28 0.6%,#bade28 0.8%,#b8de29 1.2%,#b8de29 1.6%,#b8de29 2%,#b8de29 2.4%,#b5de2b 3.2%,#b5de2b 4%,#b2dd2d 4.8%,#b0dd2f 5.6%,#aadc32 6.8%,#a2da37 8%,#9bd93c 9.6%,#84d44b 12.8%,#6ccd5a 16%,#54c568 19.2%,#3dbc74 22.4%,#2cb17e 25.6%,#21a685 28.8%,#1e9b8a 32%,#21908d 35.2%,#25858e 38.4%,#287c8e 41.6%,#2c728e 44.8%,#30698e 48%,#34618d 51.2%,#38588c 54.4%,#3c508b 57.6%,#3f4889 60.8%,#424086 64%,#443983 67.2%,#46327e 70.4%,#472c7a 73.6%,#482576 76.8%,#481f70 80%,#481a6c 83.2%,#481467 86.4%,#470e61 89.6%,#460a5d 92.8%,#450559 96%,#440154 99.2%,#440154 100%)"></i><i style="background:linear-gradient(90deg,#bddf26 0%,#bddf26 0.2%,#bddf26 0.4%,#bddf26 0.6%,#bddf26 0.8%,#bddf26 1.2%,#bade28 1.6%,#bade28 2%,#bade28 2.4%,#b8de29 3.2%,#b8de29 4%,#b5de2b 4.8%,#b2dd2d 5.6%,#addc30 6.8%,#a5db36 8%,#9bd93c 9.6%,#86d549 12.8%,#6ccd5a 16%,#54c568 19.2%,#3bbb75 22.4%,#2ab07f 25.6%,#21a585 28.8%,#1f998a 32%,#218f8d 35.2%,#25848e 38.4%,#297a8e 41.6%,#2d718e 44.8%,#31688e 48%,#355f8d 51.2%,#39568c 54.4%,#3d4e8a 57.6%,#404688 60.8%,#423f85 64%,#453882 67.2%,#46307e 70.4%,#472a7a 73.6%,#482475 76.8%,#481f70 80%,#481a6c 83.2%,#481467 86.4%,#470e61 89.6%,#460a5d 92.8%,#450559 96%,#440154 99.2%,#440154 100%)"></i><i style="background:linear-gradient(90deg,#c0df25 0%,#c0df25 0.2%,#c0df25 0.4%,#c0df25 0.6%,#c0df25 0.8%,#c0df25 1.2%,#c0df25 1.6%,#bddf26 2%,#bddf26 2.4%,#bddf26 3.2%,#bade28 4%,#b8de29 4.8%,#b2dd2d 5.6%,#addc30 6.8%,#a8db34 8%,#9dd93b 9.6%,#86d549 12.8%,#6ccd5a 16%,#52c569 19.2%,#3bbb75 22.4%,#29af7f 25.6%,#20a386 28.8%,#1f988b 32%,#228d8d 35.2%,#26828e 38.4%,#2a788e 41.6%,#2e6f8e 44.8%,#31668e 48%,#365d8d 51.2%,#3a548c 54.4%,#3d4d8a 57.6%,#404588 60.8%,#433e85 64%,#453781 67.2%,#472f7d 70.4%,#482979 73.6%,#482374 76.8%,#481d6f 80%,#48186a 83.2%,#471365 86.4%,#470e61 89.6%,#460a5d 92.8%,#450559 96%,#440154 99.2%,#440154 100%)"></i><i style="background:linear-gradient(90deg,#c2df23 0%,#c2df23 0.2%,#c2df23 0.4%,#c2df23 0.6%,#c2df23 0.8%,#c2df23 1.2%,#c2df23 1.6%,#c0df25 2%,#c0df25 2.4%,#c0df25 3.2%,#bddf26 4%,#bade28 4.8%,#b5de2b 5.6%,#b0dd2f 6.8%,#aadc32 8%,#a0da39 9.6%,#86d549 12.8%,#6ccd5a 16%,#52c569 19.2%,#3aba76 22.4%,#28ae80 25.6%,#1fa287 28.8%,#1f968b 32%,#228c8d 35.2%,#26818e 38.4%,#2a778e 41.6%,#2e6e8e 44.8%,#32648e 48%,#365c8d 51.2%,#3a538b 54.4%,#3e4c8a 57.6%,#414487 60.8%,#443b84 64%,#453581 67.2%,#472e7c 70.4%,#482878 73.6%,#482374 76.8%,#481c6e 80%,#48186a 83.2%,#471365 86.4%,#470e61 89.6%,#46085c 92.8%,#450457 96%,#440154 99.2%,#440154 100%)"></i><i style="background:linear-gradient(90deg,#c5e021 0%,#c5e021 0.2%,#c5e021 0.4%,#c5e021 0.6%,#c5e021 0.8%,#c5e021 1.2%,#c5e021 1.6%,#c5e021 2%,#c2df23 2.4%,#c2df23 3.2%,#c0df25 4%,#bddf26 4.8%,#b8de29 5.6%,#b2dd2d 6.8%,#aadc32 8%,#a0da39 9.6%,#86d549 12.8%,#6ccd5a 16%,#50c46a 19.2%,#38b977 22.4%,#26ad81 25.6%,#1fa188 28.8%,#1f958b 32%,#238a8d 35.2%,#277f8e 38.4%,#2b758e 41.6%,#2f6c8e 44.8%,#33638d 48%,#375a8c 51.2%,#3b518b 54.4%,#3e4989 57.6%,#424186 60.8%,#443a83 64%,#463480 67.2%,#472d7b 70.4%,#482677 73.6%,#482173 76.8%,#481c6e 80%,#481769 83.2%,#471164 86.4%,#470d60 89.6%,#46085c 92.8%,#450457 96%,#440154 99.2%,#440154 100%)"></i><i style="background:linear-gradient(90deg,#c8e020 0%,#c8e020 0.2%,#c8e020 0.4%,#c8e020 0.6%,#c8e020 0.8%,#c8e020 1.2%,#c8e020 1.6%,#c5e021 2%,#c5e021 2.4%,#c2df23 3.2%,#c2df23 4%,#bddf26 4.8%,#bade28 5.6%,#b5de2b 6.8%,#addc30 8%,#a0da39 9.6%,#86d549 12.8%,#69cd5b 16%,#4ec36b 19.2%,#37b878 22.4%,#25ac82 25.6%,#1fa088 28.8%,#20938c 32%,#23888e 35.2%,#277e8e 38.4%,#2c738e 41.6%,#306a8e 44.8%,#34618d 48%,#38598c 51.2%,#3c508b 54.4%,#3f4889 57.6%,#424086 60.8%,#443983 64%,#46327e 67.2%,#472c7a 70.4%,#482677 73.6%,#482071 76.8%,#481b6d 80%,#481769 83.2%,#471164 86.4%,#470d60 89.6%,#46085c 92.8%,#450457 96%,#440154 99.2%,#440154 100%)"></i><i style="background:linear-gradient(90deg,#cae11f 0%,#cae11f 0.2%,#cae11f 0.4%,#cae11f 0.6%,#cae11f 0.8%,#cae11f 1.2%,#cae11f 1.6%,#c8e020 2%,#c8e020 2.4%,#c5e021 3.2%,#c2df23 4%,#c0df25 4.8%,#bddf26 5.6%,#b5de2b 6.8%,#addc30 8%,#a2da37 9.6%,#86d549 12.8%,#69cd5b 16%,#4cc26c 19.2%,#34b679 22.4%,#25ab82 25.6%,#1f9e89 28.8%,#20928c 32%,#24868e 35.2%,#287c8e 38.4%,#2c718e 41.6%,#31688e 44.8%,#355f8d 48%,#39568c 51.2%,#3d4e8a 54.4%,#404688 57.6%,#423f85 60.8%,#453882 64%,#46307e 67.2%,#472a7a 70.4%,#482576 73.6%,#482071 76.8%,#481b6d 80%,#481668 83.2%,#471164 86.4%,#470d60 89.6%,#46085c 92.8%,#450457 96%,#440154 99.2%,#440154 100%)"></i><i style="background:linear-gradient(90deg,#cde11d 0%,#cde11d 0.2%,#cde11d 0.4%,#cde11d 0.6%,#cde11d 0.8%,#cde11d 1.2%,#cde11d 1.6%,#cae11f 2%,#cae11f 2.4%,#c8e020 3.2%,#c5e021 4%,#c2df23 4.8%,#bddf26 5.6%,#b8de29 6.8%,#b0dd2f 8%,#a2da37 9.6%,#86d549 12.8%,#67cc5c 16%,#4ac16d 19.2%,#32b67a 22.4%,#23a983 25.6%,#1e9d89 28.8%,#21918c 32%,#25848e 35.2%,#297a8e 38.4%,#2d708e 41.6%,#31678e 44.8%,#355e8d 48%,#3a548c 51.2%,#3d4d8a 54.4%,#404588 57.6%,#433d84 60.8%,#453781 64%,#472f7d 67.2%,#482979 70.4%,#482475 73.6%,#481f70 76.8%,#481a6c 80%,#481668 83.2%,#471063 86.4%,#460b5e 89.6%,#46085c 92.8%,#450457 96%,#440154 99.2%,#440154 100%)"></i><i style="background:linear-gradient(90deg,#d0e11c 0%,#d0e11c 0.2%,#d0e11c 0.4%,#d0e11c 0.6%,#d0e11c 0.8%,#d0e11c 1.2%,#cde11d 1.6%,#cde11d 2%,#cde11d 2.4%,#cae11f 3.2%,#c8e020 4%,#c5e021 4.8%,#c0df25 5.6%,#b8de29 6.8%,#b0dd2f 8%,#a2da37 9.6%,#86d549 12.8%,#65cb5e 16%,#48c16e 19.2%,#31b57b 22.4%,#22a884 25.6%,#1e9b8a 28.8%,#218f8d 32%,#26828e 35.2%,#2a788e 38.4%,#2e6e8e 41.6%,#32658e 44.8%,#365c8d 48%,#3a538b 51.2%,#3e4a89 54.4%,#414287 57.6%,#443b84 60.8%,#463480 64%,#472e7c 67.2%,#482878 70.4%,#482374 73.6%,#481d6f 76.8%,#48186a 80%,#481467 83.2%,#471063 86.4%,#460b5e 89.6%,#46075a 92.8%,#450457 96%,#440154 99.2%,#440154 100%)"></i><i style="background:linear-gradient(90deg,#d2e21b 0%,#d2e21b 0.2%,#d2e21b 0.4%,#d2e21b 0.6%,#d2e21b 0.8%,#d0e11c 1.2%,#d0e11c 1.6%,#d0e11c 2%,#d0e11c 2.4%,#cde11d 3.2%,#cae11f 4%,#c5e021 4.8%,#c2df23 5.6%,#bade28 6.8%,#b0dd2f 8%,#a2da37 9.6%,#84d44b 12.8%,#65cb5e 16%,#46c06f 19.2%,#2eb37c 22.4%,#21a685 25.6%,#1f998a 28.8%,#228d8d 32%,#26818e 35.2%,#2a768e 38.4%,#2f6c8e 41.6%,#33638d 44.8%,#375a8c 48%,#3b518b 51.2%,#3e4989 54.4%,#424186 57.6%,#443a83 60.8%,#46337f 64%,#472d7b 67.2%,#482878 70.4%,#482173 73.6%,#481c6e 76.8%,#48186a 80%,#481467 83.2%,#471063 86.4%,#460b5e 89.6%,#46075a 92.8%,#450457 96%,#440154 99.2%,#440154 100%)"></i><i style="background:linear-gradient(90deg,#d5e21a 0%,#d5e21a 0.2%,#d5e21a 0.4%,#d2e21b 0.6%,#d2e21b 0.8%,#d2e21b 1.2%,#d2e21b 1.6%,#d2e21b 2%,#d0e11c 2.4%,#cde11d 3.2%,#cae11f 4%,#c8e020 4.8%,#c2df23 5.6%,#bade28 6.8%,#b2dd2d 8%,#a2da37 9.6%,#84d44b 12.8%,#63cb5f 16%,#44bf70 19.2%,#2db27d 22.4%,#20a486 25.6%,#1f978b 28.8%,#228b8d 32%,#277f8e 35.2%,#2b748e 38.4%,#2f6b8e 41.6%,#34618d 44.8%,#38588c 48%,#3c4f8a 51.2%,#3f4788 54.4%,#424086 57.6%,#443983 60.8%,#46327e 64%,#472c7a 67.2%,#482677 70.4%,#482173 73.6%,#481c6e 76.8%,#481769 80%,#471365 83.2%,#470e61 86.4%,#460b5e 89.6%,#46075a 92.8%,#450457 96%,#440154 99.2%,#440154 100%)"></i><i style="background:linear-gradient(90deg,#d5e21a 0%,#d5e21a 0.2%,#d5e21a 0.4%,#d5e21a 0.6%,#d5e21a 0.8%,#d5e21a 1.2%,#d5e21a 1.6%,#d2e21b 2%,#d2e21b 2.4%,#d0e11c 3.2%,#cde11d 4%,#c8e020 4.8%,#c5e021 5.6%,#bddf26 6.8%,#b2dd2d 8%,#a2da37 9.6%,#84d44b 12.8%,#60ca60 16%,#42be71 19.2%,#2ab07f 22.4%,#1fa287 25.6%,#1f958b 28.8%,#23898e 32%,#287d8e 35.2%,#2c728e 38.4%,#30698e 41.6%,#355f8d 44.8%,#39568c 48%,#3d4e8a 51.2%,#404688 54.4%,#433e85 57.6%,#453781 60.8%,#46307e 64%,#472a7a 67.2%,#482576 70.4%,#482071 73.6%,#481b6d 76.8%,#481769 80%,#471365 83.2%,#470e61 86.4%,#460a5d 89.6%,#46075a 92.8%,#450457 96%,#440154 99.2%,#440154 100%)"></i><i style="background:linear-gradient(90deg,#d8e219 0%,#d8e219 0.2%,#d8e219 0.4%,#d8e219 0.6%,#d8e219 0.8%,#d8e219 1.2%,#d8e219 1.6%,#d5e21a 2%,#d5e21a 2.4%,#d2e21b 3.2%,#d0e11c 4%,#cae11f 4.8%,#c5e021 5.6%,#bddf26 6.8%,#b2dd2d 8%,#a2da37 9.6%,#81d34d 12.8%,#5ec962 16%,#3fbc73 19.2%,#29af7f 22.4%,#1fa187 25.6%,#20938c 28.8%,#24878e 32%,#297b8e 35.2%,#2d718e 38.4%,#31678e 41.6%,#365d8d 44.8%,#3a548c 48%,#3e4c8a 51.2%,#414487 54.4%,#433d84 57.6%,#453581 60.8%,#472f7d 64%,#482979 67.2%,#482475 70.4%,#481f70 73.6%,#481a6c 76.8%,#481668 80%,#471164 83.2%,#470e61 86.4%,#460a5d 89.6%,#46075a 92.8%,#450457 96%,#440154 99.2%,#440154 100%)"></i><i style="background:linear-gradient(90deg,#dae319 0%,#dae319 0.2%,#dae319 0.4%,#dae319 0.6%,#dae319 0.8%,#d8e219 1.2%,#d8e219 1.6%,#d8e219 2%,#d5e21a 2.4%,#d2e21b 3.2%,#d0e11c 4%,#cae11f 4.8%,#c5e021 5.6%,#bddf26 6.8%,#b2dd2d 8%,#a2da37 9.6%,#7fd34e 12.8%,#5cc863 16%,#3dbc74 19.2%,#27ad81 22.4%,#1fa088 25.6%,#20928c 28.8%,#25858e 32%,#29798e 35.2%,#2e6f8e 38.4%,#32658e 41.6%,#375b8d 44.8%,#3b528b 48%,#3e4989 51.2%,#414287 54.4%,#443a83 57.6%,#463480 60.8%,#472e7c 64%,#482878 67.2%,#482374 70.4%,#481d6f 73.6%,#481a6c 76.8%,#481668 80%,#471164 83.2%,#470d60 86.4%,#460a5d 89.6%,#46075a 92.8%,#450457 96%,#440154 99.2%,#440154 100%)"></i><i style="background:linear-gradient(90deg,#dae319 0%,#dae319 0.2%,#dae319 0.4%,#dae319 0.6%,#dae319 0.8%,#dae319 1.2%,#dae319 1.6%,#dae319 2%,#d8e219 2.4%,#d5e21a 3.2%,#d2e21b 4%,#cde11d 4.8%,#c8e020 5.6%,#bddf26 6.8%,#b2dd2d 8%,#a2da37 9.6%,#7fd34e 12.8%,#5ac864 16%,#3aba76 19.2%,#25ac82 22.4%,#1f9e89 25.6%,#21908d 28.8%,#26828e 32%,#2a778e 35.2%,#2e6d8e 38.4%,#33638d 41.6%,#375a8c 44.8%,#3c508b 48%,#3f4889 51.2%,#424086 54.4%,#443983 57.6%,#46337f 60.8%,#472d7b 64%,#482677 67.2%,#482173 70.4%,#481d6f 73.6%,#48186a 76.8%,#481467 80%,#471063 83.2%,#470d60 86.4%,#460a5d 89.6%,#450559 92.8%,#440256 96%,#440154 99.2%,#440154 100%)"></i><i style="background:linear-gradient(90deg,#dde318 0%,#dde318 0.2%,#dde318 0.4%,#dde318 0.6%,#dde318 0.8%,#dde318 1.2%,#dde318 1.6%,#dae319 2%,#dae319 2.4%,#d8e219 3.2%,#d2e21b 4%,#cde11d 4.8%,#c8e020 5.6%,#bddf26 6.8%,#b2dd2d 8%,#a2da37 9.6%,#7cd250 12.8%,#58c765 16%,#38b977 19.2%,#24aa83 22.4%,#1e9c89 25.6%,#218e8d 28.8%,#26818e 32%,#2b758e 35.2%,#2f6b8e 38.4%,#34618d 41.6%,#38588c 44.8%,#3c4f8a 48%,#404688 51.2%,#423f85 54.4%,#453882 57.6%,#46307e 60.8%,#472c7a 64%,#482576 67.2%,#482071 70.4%,#481c6e 73.6%,#48186a 76.8%,#481467 80%,#471063 83.2%,#470d60 86.4%,#46085c 89.6%,#450559 92.8%,#440256 96%,#440154 99.2%,#440154 100%)"></i><i style="background:linear-gradient(90deg,#dfe318 0%,#dfe318 0.2%,#dfe318 0.4%,#dfe318 0.6%,#dfe318 0.8%,#dde318 1.2%,#dde318 1.6%,#dde318 2%,#dae319 2.4%,#d8e219 3.2%,#d2e21b 4%,#d0e11c 4.8%,#c8e020 5.6%,#c0df25 6.8%,#b2dd2d 8%,#a2da37 9.6%,#7ad151 12.8%,#54c568 16%,#35b779 19.2%,#22a884 22.4%,#1f9a8a 25.6%,#228c8d 28.8%,#277f8e 32%,#2c738e 35.2%,#30698e 38.4%,#355f8d 41.6%,#39558c 44.8%,#3d4d8a 48%,#404588 51.2%,#433d84 54.4%,#453581 57.6%,#472f7d 60.8%,#472a7a 64%,#482475 67.2%,#482071 70.4%,#481b6d 73.6%,#481769 76.8%,#471365 80%,#471063 83.2%,#460b5e 86.4%,#46085c 89.6%,#450559 92.8%,#440256 96%,#440154 99.2%,#440154 100%)"></i><i style="background:linear-gradient(90deg,#dfe318 0%,#dfe318 0.2%,#dfe318 0.4%,#dfe318 0.6%,#dfe318 0.8%,#dfe318 1.2%,#dfe318 1.6%,#dde318 2%,#dde318 2.4%,#dae319 3.2%,#d5e21a 4%,#d0e11c 4.8%,#cae11f 5.6%,#c0df25 6.8%,#b2dd2d 8%,#a0da39 9.6%,#77d153 12.8%,#52c569 16%,#34b679 19.2%,#21a685 22.4%,#1f978b 25.6%,#238a8d 28.8%,#287d8e 32%,#2c718e 35.2%,#31678e 38.4%,#365d8d 41.6%,#3a538b 44.8%,#3e4a89 48%,#414287 51.2%,#443b84 54.4%,#463480 57.6%,#472e7c 60.8%,#482979 64%,#482475 67.2%,#481f70 70.4%,#481b6d 73.6%,#481769 76.8%,#471365 80%,#470e61 83.2%,#460b5e 86.4%,#46085c 89.6%,#450559 92.8%,#440256 96%,#440154 99.2%,#440154 100%)"></i><i style="background:linear-gradient(90deg,#e2e418 0%,#e2e418 0.2%,#e2e418 0.4%,#e2e418 0.6%,#e2e418 0.8%,#e2e418 1.2%,#dfe318 1.6%,#dfe318 2%,#dde318 2.4%,#dae319 3.2%,#d5e21a 4%,#d0e11c 4.8%,#cae11f 5.6%,#c0df25 6.8%,#b2dd2d 8%,#a0da39 9.6%,#75d054 12.8%,#50c46a 16%,#31b57b 19.2%,#20a486 22.4%,#1f958b 25.6%,#24878e 28.8%,#297b8e 32%,#2d708e 35.2%,#32658e 38.4%,#375b8d 41.6%,#3b518b 44.8%,#3f4889 48%,#424186 51.2%,#443983 54.4%,#46337f 57.6%,#472d7b 60.8%,#482878 64%,#482374 67.2%,#481d6f 70.4%,#481a6c 73.6%,#481668 76.8%,#471164 80%,#470e61 83.2%,#460b5e 86.4%,#46085c 89.6%,#450559 92.8%,#440256 96%,#440154 99.2%,#440154 100%)"></i><i style="background:linear-gradient(90deg,#e2e418 0%,#e2e418 0.2%,#e2e418 0.4%,#e2e418 0.6%,#e2e418 0.8%,#e2e418 1.2%,#e2e418 1.6%,#dfe318 2%,#dfe318 2.4%,#dae319 3.2%,#d8e219 4%,#d0e11c 4.8%,#cae11f 5.6%,#c0df25 6.8%,#b2dd2d 8%,#9dd93b 9.6%,#73d056 12.8%,#4cc26c 16%,#2eb37c 19.2%,#1fa287 22.4%,#20938c 25.6%,#25858e 28.8%,#29798e 32%,#2e6d8e 35.2%,#33638d 38.4%,#38598c 41.6%,#3c4f8a 44.8%,#3f4788 48%,#423f85 51.2%,#453882 54.4%,#46327e 57.6%,#472c7a 60.8%,#482677 64%,#482173 67.2%,#481c6e 70.4%,#48186a 73.6%,#481467 76.8%,#471164 80%,#470e61 83.2%,#460a5d 86.4%,#46085c 89.6%,#450559 92.8%,#440256 96%,#440154 99.2%,#440154 100%)"></i><i style="background:linear-gradient(90deg,#e5e419 0%,#e5e419 0.2%,#e5e419 0.4%,#e5e419 0.6%,#e5e419 0.8%,#e5e419 1.2%,#e2e418 1.6%,#e2e418 2%,#dfe318 2.4%,#dde318 3.2%,#d8e219 4%,#d2e21b 4.8%,#cae11f 5.6%,#c0df25 6.8%,#b0dd2f 8%,#9dd93b 9.6%,#70cf57 12.8%,#4ac16d 16%,#2cb17e 19.2%,#1fa188 22.4%,#20928c 25.6%,#25838e 28.8%,#2a768e 32%,#2f6b8e 35.2%,#34618d 38.4%,#39568c 41.6%,#3d4e8a 44.8%,#404588 48%,#433e85 51.2%,#453781 54.4%,#46307e 57.6%,#472a7a 60.8%,#482576 64%,#482071 67.2%,#481c6e 70.4%,#48186a 73.6%,#481467 76.8%,#471063 80%,#470d60 83.2%,#460a5d 86.4%,#46075a 89.6%,#450559 92.8%,#440256 96%,#440154 99.2%,#440154 100%)"></i><i style="background:linear-gradient(90deg,#e5e419 0%,#e5e419 0.2%,#e5e419 0.4%,#e5e419 0.6%,#e5e419 0.8%,#e5e419 1.2%,#e5e419 1.6%,#e2e418 2%,#e2e418 2.4%,#dde318 3.2%,#d8e219 4%,#d2e21b 4.8%,#cae11f 5.6%,#bddf26 6.8%,#b0dd2f 8%,#9bd93c 9.6%,#6ece58 12.8%,#46c06f 16%,#29af7f 19.2%,#1f9f88 22.4%,#218f8d 25.6%,#26818e 28.8%,#2b748e 32%,#30698e 35.2%,#355e8d 38.4%,#3a548c 41.6%,#3e4c8a 44.8%,#414487 48%,#443b84 51.2%,#463480 54.4%,#472e7c 57.6%,#482979 60.8%,#482475 64%,#481f70 67.2%,#481b6d 70.4%,#481769 73.6%,#471365 76.8%,#471063 80%,#470d60 83.2%,#460a5d 86.4%,#46075a 89.6%,#450457 92.8%,#440256 96%,#440154 99.2%,#440154 100%)"></i><i style="background:linear-gradient(90deg,#e7e419 0%,#e7e419 0.2%,#e7e419 0.4%,#e7e419 0.6%,#e7e419 0.8%,#e7e419 1.2%,#e5e419 1.6%,#e5e419 2%,#e2e418 2.4%,#dde318 3.2%,#d8e219 4%,#d2e21b 4.8%,#cae11f 5.6%,#bddf26 6.8%,#b0dd2f 8%,#98d83e 9.6%,#6ccd5a 12.8%,#42be71 16%,#27ad81 19.2%,#1e9d89 22.4%,#228d8d 25.6%,#277f8e 28.8%,#2c728e 32%,#31678e 35.2%,#365c8d 38.4%,#3b528b 41.6%,#3e4989 44.8%,#424186 48%,#443a83 51.2%,#46337f 54.4%,#472d7b 57.6%,#482878 60.8%,#482374 64%,#481d6f 67.2%,#481a6c 70.4%,#481668 73.6%,#471365 76.8%,#471063 80%,#470d60 83.2%,#460a5d 86.4%,#46075a 89.6%,#450457 92.8%,#440256 96%,#440154 99.2%,#440154 100%)"></i><i style="background:linear-gradient(90deg,#e7e419 0%,#e7e419 0.2%,#e7e419 0.4%,#e7e419 0.6%,#e7e419 0.8%,#e7e419 1.2%,#e7e419 1.6%,#e5e419 2%,#e2e418 2.4%,#dfe318 3.2%,#dae319 4%,#d2e21b 4.8%,#cae11f 5.6%,#bddf26 6.8%,#addc30 8%,#98d83e 9.6%,#69cd5b 12.8%,#40bd72 16%,#25ac82 19.2%,#1e9b8a 22.4%,#228b8d 25.6%,#287d8e 28.8%,#2d718e 32%,#32658e 35.2%,#375a8c 38.4%,#3c508b 41.6%,#3f4788 44.8%,#423f85 48%,#453882 51.2%,#46327e 54.4%,#472c7a 57.6%,#482677 60.8%,#482173 64%,#481d6f 67.2%,#481a6c 70.4%,#481668 73.6%,#471164 76.8%,#470e61 80%,#460b5e 83.2%,#46085c 86.4%,#46075a 89.6%,#450457 92.8%,#440256 96%,#440154 99.2%,#440154 100%)"></i><i style="background:linear-gradient(90deg,#eae51a 0%,#eae51a 0.2%,#eae51a 0.4%,#eae51a 0.6%,#eae51a 0.8%,#e7e419 1.2%,#e7e419 1.6%,#e5e419 2%,#e5e419 2.4%,#dfe318 3.2%,#dae319 4%,#d2e21b 4.8%,#cae11f 5.6%,#bddf26 6.8%,#addc30 8%,#95d840 9.6%,#65cb5e 12.8%,#3dbc74 16%,#24aa83 19.2%,#1f988b 22.4%,#23888e 25.6%,#297a8e 28.8%,#2e6e8e 32%,#33638d 35.2%,#38588c 38.4%,#3c4f8a 41.6%,#404688 44.8%,#433e85 48%,#453781 51.2%,#46307e 54.4%,#472a7a 57.6%,#482576 60.8%,#482071 64%,#481c6e 67.2%,#48186a 70.4%,#481467 73.6%,#471164 76.8%,#470e61 80%,#460b5e 83.2%,#46085c 86.4%,#46075a 89.6%,#450457 92.8%,#440256 96%,#440154 99.2%,#440154 100%)"></i><i style="background:linear-gradient(90deg,#eae51a 0%,#eae51a 0.2%,#eae51a 0.4%,#eae51a 0.6%,#eae51a 0.8%,#eae51a 1.2%,#e7e419 1.6%,#e7e419 2%,#e5e419 2.4%,#dfe318 3.2%,#dae319 4%,#d2e21b 4.8%,#cae11f 5.6%,#bade28 6.8%,#aadc32 8%,#93d741 9.6%,#63cb5f 12.8%,#3aba76 16%,#22a884 19.2%,#1f968b 22.4%,#24868e 25.6%,#2a788e 28.8%,#2f6c8e 32%,#34618d 35.2%,#39558c 38.4%,#3d4d8a 41.6%,#414487 44.8%,#443b84 48%,#453581 51.2%,#472e7c 54.4%,#482979 57.6%,#482475 60.8%,#481f70 64%,#481b6d 67.2%,#481769 70.4%,#481467 73.6%,#471164 76.8%,#470d60 80%,#460b5e 83.2%,#46085c 86.4%,#450559 89.6%,#450457 92.8%,#440256 96%,#440154 99.2%,#440154 100%)"></i><i style="background:linear-gradient(90deg,#ece51b 0%,#ece51b 0.2%,#ece51b 0.4%,#ece51b 0.6%,#eae51a 0.8%,#eae51a 1.2%,#eae51a 1.6%,#e7e419 2%,#e5e419 2.4%,#dfe318 3.2%,#dae319 4%,#d2e21b 4.8%,#cae11f 5.6%,#bade28 6.8%,#aadc32 8%,#90d743 9.6%,#5ec962 12.8%,#37b878 16%,#21a585 19.2%,#1f948c 22.4%,#25848e 25.6%,#2a768e 28.8%,#306a8e 32%,#355e8d 35.2%,#3a548c 38.4%,#3e4a89 41.6%,#424186 44.8%,#443a83 48%,#46337f 51.2%,#472d7b 54.4%,#482878 57.6%,#482374 60.8%,#481f70 64%,#481a6c 67.2%,#481769 70.4%,#471365 73.6%,#471063 76.8%,#470d60 80%,#460a5d 83.2%,#46085c 86.4%,#450559 89.6%,#450457 92.8%,#440256 96%,#440154 99.2%,#440154 100%)"></i><i style="background:linear-gradient(90deg,#ece51b 0%,#ece51b 0.2%,#ece51b 0.4%,#ece51b 0.6%,#ece51b 0.8%,#ece51b 1.2%,#eae51a 1.6%,#e7e419 2%,#e7e419 2.4%,#e2e418 3.2%,#dae319 4%,#d2e21b 4.8%,#cae11f 5.6%,#bade28 6.8%,#a8db34 8%,#8ed645 9.6%,#5cc863 12.8%,#34b679 16%,#20a386 19.2%,#20928c 22.4%,#26828e 25.6%,#2c738e 28.8%,#31688e 32%,#365c8d 35.2%,#3b528b 38.4%,#3f4889 41.6%,#424086 44.8%,#443983 48%,#46327e 51.2%,#472c7a 54.4%,#482677 57.6%,#482173 60.8%,#481d6f 64%,#481a6c 67.2%,#481668 70.4%,#471365 73.6%,#471063 76.8%,#470d60 80%,#460a5d 83.2%,#46085c 86.4%,#450559 89.6%,#450457 92.8%,#440256 96%,#440154 99.2%,#440154 100%)"></i><i style="background:linear-gradient(90deg,#ece51b 0%,#ece51b 0.2%,#ece51b 0.4%,#ece51b 0.6%,#ece51b 0.8%,#ece51b 1.2%,#eae51a 1.6%,#eae51a 2%,#e7e419 2.4%,#e2e418 3.2%,#dae319 4%,#d2e21b 4.8%,#c8e020 5.6%,#b8de29 6.8%,#a5db36 8%,#8bd646 9.6%,#58c765 12.8%,#31b57b 16%,#1fa187 19.2%,#21908d 22.4%,#27808e 25.6%,#2c718e 28.8%,#32658e 32%,#375a8c 35.2%,#3c508b 38.4%,#404688 41.6%,#433e85 44.8%,#453781 48%,#46307e 51.2%,#472a7a 54.4%,#482576 57.6%,#482071 60.8%,#481c6e 64%,#48186a 67.2%,#481668 70.4%,#471164 73.6%,#470e61 76.8%,#460b5e 80%,#460a5d 83.2%,#46075a 86.4%,#450559 89.6%,#450457 92.8%,#440256 96%,#440154 99.2%,#440154 100%)"></i><i style="background:linear-gradient(90deg,#efe51c 0%,#efe51c 0.2%,#efe51c 0.4%,#efe51c 0.6%,#efe51c 0.8%,#ece51b 1.2%,#ece51b 1.6%,#eae51a 2%,#e7e419 2.4%,#e2e418 3.2%,#dae319 4%,#d2e21b 4.8%,#c8e020 5.6%,#b8de29 6.8%,#a5db36 8%,#89d548 9.6%,#54c568 12.8%,#2eb37c 16%,#1fa088 19.2%,#228d8d 22.4%,#287d8e 25.6%,#2d708e 28.8%,#33638d 32%,#38588c 35.2%,#3d4e8a 38.4%,#404588 41.6%,#433d84 44.8%,#453581 48%,#472e7c 51.2%,#482979 54.4%,#482475 57.6%,#481f70 60.8%,#481b6d 64%,#48186a 67.2%,#481467 70.4%,#471164 73.6%,#470e61 76.8%,#460b5e 80%,#460a5d 83.2%,#46075a 86.4%,#450559 89.6%,#450457 92.8%,#440256 96%,#440154 99.2%,#440154 100%)"></i><i style="background:linear-gradient(90deg,#efe51c 0%,#efe51c 0.2%,#efe51c 0.4%,#efe51c 0.6%,#efe51c 0.8%,#efe51c 1.2%,#ece51b 1.6%,#eae51a 2%,#e7e419 2.4%,#e2e418 3.2%,#dae319 4%,#d2e21b 4.8%,#c8e020 5.6%,#b5de2b 6.8%,#a2da37 8%,#86d549 9.6%,#52c569 12.8%,#2cb17e 16%,#1e9d89 19.2%,#228b8d 22.4%,#297b8e 25.6%,#2e6d8e 28.8%,#34618d 32%,#39558c 35.2%,#3e4c8a 38.4%,#414287 41.6%,#443a83 44.8%,#46337f 48%,#472d7b 51.2%,#482878 54.4%,#482374 57.6%,#481f70 60.8%,#481b6d 64%,#481769 67.2%,#481467 70.4%,#471063 73.6%,#470e61 76.8%,#460b5e 80%,#46085c 83.2%,#46075a 86.4%,#450559 89.6%,#450457 92.8%,#440256 96%,#440154 99.2%,#440154 100%)"></i><i style="background:linear-gradient(90deg,#efe51c 0%,#efe51c 0.2%,#efe51c 0.4%,#efe51c 0.6%,#efe51c 0.8%,#efe51c 1.2%,#ece51b 1.6%,#eae51a 2%,#eae51a 2.4%,#e2e418 3.2%,#dae319 4%,#d2e21b 4.8%,#c8e020 5.6%,#b5de2b 6.8%,#a0da39 8%,#84d44b 9.6%,#4ec36b 12.8%,#28ae80 16%,#1e9b8a 19.2%,#23888e 22.4%,#29798e 25.6%,#2f6b8e 28.8%,#355f8d 32%,#3a538b 35.2%,#3e4989 38.4%,#424086 41.6%,#443983 44.8%,#46327e 48%,#472c7a 51.2%,#482677 54.4%,#482173 57.6%,#481d6f 60.8%,#481a6c 64%,#481668 67.2%,#471365 70.4%,#471063 73.6%,#470d60 76.8%,#460b5e 80%,#46085c 83.2%,#46075a 86.4%,#450559 89.6%,#440256 92.8%,#440154 96%,#440154 99.2%,#440154 100%)"></i><i style="background:linear-gradient(90deg,#f1e51d 0%,#f1e51d 0.2%,#f1e51d 0.4%,#f1e51d 0.6%,#efe51c 0.8%,#efe51c 1.2%,#ece51b 1.6%,#ece51b 2%,#eae51a 2.4%,#e2e418 3.2%,#dae319 4%,#d0e11c 4.8%,#c5e021 5.6%,#b2dd2d 6.8%,#9dd93b 8%,#7fd34e 9.6%,#4ac16d 12.8%,#26ad81 16%,#1f988b 19.2%,#24868e 22.4%,#2a768e 25.6%,#30698e 28.8%,#365d8d 32%,#3b518b 35.2%,#3f4788 38.4%,#423f85 41.6%,#453781 44.8%,#46307e 48%,#472a7a 51.2%,#482576 54.4%,#482071 57.6%,#481c6e 60.8%,#48186a 64%,#481668 67.2%,#471365 70.4%,#471063 73.6%,#470d60 76.8%,#460a5d 80%,#46085c 83.2%,#46075a 86.4%,#450457 89.6%,#440256 92.8%,#440154 96%,#440154 99.2%,#440154 100%)"></i><i style="background:linear-gradient(90deg,#f1e51d 0%,#f1e51d 0.2%,#f1e51d 0.4%,#f1e51d 0.6%,#f1e51d 0.8%,#efe51c 1.2%,#efe51c 1.6%,#ece51b 2%,#eae51a 2.4%,#e2e418 3.2%,#dae319 4%,#d0e11c 4.8%,#c5e021 5.6%,#b0dd2f 6.8%,#9bd93c 8%,#7cd250 9.6%,#46c06f 12.8%,#25ab82 16%,#1f968b 19.2%,#25838e 22.4%,#2b748e 25.6%,#31678e 28.8%,#375b8d 32%,#3c4f8a 35.2%,#404688 38.4%,#433d84 41.6%,#453581 44.8%,#472f7d 48%,#482979 51.2%,#482475 54.4%,#481f70 57.6%,#481b6d 60.8%,#48186a 64%,#481467 67.2%,#471164 70.4%,#470e61 73.6%,#460b5e 76.8%,#460a5d 80%,#46085c 83.2%,#450559 86.4%,#450457 89.6%,#440256 92.8%,#440154 96%,#440154 99.2%,#440154 100%)"></i><i style="background:linear-gradient(90deg,#f1e51d 0%,#f1e51d 0.2%,#f1e51d 0.4%,#f1e51d 0.6%,#f1e51d 0.8%,#f1e51d 1.2%,#efe51c 1.6%,#ece51b 2%,#eae51a 2.4%,#e2e418 3.2%,#dae319 4%,#d0e11c 4.8%,#c2df23 5.6%,#b0dd2f 6.8%,#98d83e 8%,#7ad151 9.6%,#42be71 12.8%,#23a983 16%,#20938c 19.2%,#26828e 22.4%,#2c718e 25.6%,#32648e 28.8%,#38588c 32%,#3d4d8a 35.2%,#414487 38.4%,#443b84 41.6%,#463480 44.8%,#472d7b 48%,#482878 51.2%,#482374 54.4%,#481f70 57.6%,#481b6d 60.8%,#481769 64%,#481467 67.2%,#471164 70.4%,#470e61 73.6%,#460b5e 76.8%,#460a5d 80%,#46075a 83.2%,#450559 86.4%,#450457 89.6%,#440256 92.8%,#440154 96%,#440154 99.2%,#440154 100%)"></i><i style="background:linear-gradient(90deg,#f4e61e 0%,#f4e61e 0.2%,#f4e61e 0.4%,#f1e51d 0.6%,#f1e51d 0.8%,#f1e51d 1.2%,#efe51c 1.6%,#ece51b 2%,#eae51a 2.4%,#e2e418 3.2%,#dae319 4%,#d0e11c 4.8%,#c2df23 5.6%,#addc30 6.8%,#95d840 8%,#75d054 9.6%,#3fbc73 12.8%,#21a685 16%,#20928c 19.2%,#277f8e 22.4%,#2d708e 25.6%,#33628d 28.8%,#39558c 32%,#3e4c8a 35.2%,#424186 38.4%,#443983 41.6%,#46327e 44.8%,#472c7a 48%,#482677 51.2%,#482173 54.4%,#481d6f 57.6%,#481a6c 60.8%,#481668 64%,#471365 67.2%,#471063 70.4%,#470d60 73.6%,#460b5e 76.8%,#46085c 80%,#46075a 83.2%,#450559 86.4%,#450457 89.6%,#440256 92.8%,#440154 96%,#440154 99.2%,#440154 100%)"></i><i style="background:linear-gradient(90deg,#f4e61e 0%,#f4e61e 0.2%,#f4e61e 0.4%,#f4e61e 0.6%,#f4e61e 0.8%,#f1e51d 1.2%,#efe51c 1.6%,#ece51b 2%,#eae51a 2.4%,#e2e418 3.2%,#dae319 4%,#cde11d 4.8%,#c0df25 5.6%,#aadc32 6.8%,#93d741 8%,#73d056 9.6%,#3bbb75 12.8%,#20a486 16%,#218f8d 19.2%,#287d8e 22.4%,#2e6e8e 25.6%,#34608d 28.8%,#3a538b 32%,#3e4989 35.2%,#424086 38.4%,#453882 41.6%,#46307e 44.8%,#472a7a 48%,#482576 51.2%,#482071 54.4%,#481c6e 57.6%,#48186a 60.8%,#481668 64%,#471365 67.2%,#471063 70.4%,#470d60 73.6%,#460b5e 76.8%,#46085c 80%,#46075a 83.2%,#450559 86.4%,#450457 89.6%,#440256 92.8%,#440154 96%,#440154 99.2%,#440154 100%)"></i><i style="background:linear-gradient(90deg,#f4e61e 0%,#f4e61e 0.2%,#f4e61e 0.4%,#f4e61e 0.6%,#f4e61e 0.8%,#f1e51d 1.2%,#f1e51d 1.6%,#efe51c 2%,#eae51a 2.4%,#e2e418 3.2%,#d8e219 4%,#cde11d 4.8%,#c0df25 5.6%,#a8db34 6.8%,#90d743 8%,#6ece58 9.6%,#38b977 12.8%,#1fa187 16%,#228d8d 19.2%,#297a8e 22.4%,#2f6b8e 25.6%,#355e8d 28.8%,#3b518b 32%,#3f4788 35.2%,#433e85 38.4%,#453581 41.6%,#472f7d 44.8%,#482979 48%,#482475 51.2%,#481f70 54.4%,#481b6d 57.6%,#48186a 60.8%,#481467 64%,#471164 67.2%,#470e61 70.4%,#470d60 73.6%,#460a5d 76.8%,#46085c 80%,#46075a 83.2%,#450559 86.4%,#450457 89.6%,#440256 92.8%,#440154 96%,#440154 99.2%,#440154 100%)"></i><i style="background:linear-gradient(90deg,#f4e61e 0%,#f4e61e 0.2%,#f4e61e 0.4%,#f4e61e 0.6%,#f4e61e 0.8%,#f1e51d 1.2%,#f1e51d 1.6%,#efe51c 2%,#eae51a 2.4%,#e2e418 3.2%,#d8e219 4%,#cae11f 4.8%,#bddf26 5.6%,#a5db36 6.8%,#8bd646 8%,#6ccd5a 9.6%,#35b779 12.8%,#1fa088 16%,#238a8d 19.2%,#2a788e 22.4%,#30698e 25.6%,#375b8d 28.8%,#3c4f8a 32%,#404588 35.2%,#443b84 38.4%,#463480 41.6%,#472d7b 44.8%,#482878 48%,#482374 51.2%,#481d6f 54.4%,#481a6c 57.6%,#481769 60.8%,#481467 64%,#471164 67.2%,#470e61 70.4%,#460b5e 73.6%,#460a5d 76.8%,#46085c 80%,#46075a 83.2%,#450559 86.4%,#450457 89.6%,#440256 92.8%,#440154 96%,#440154 99.2%,#440154 100%)"></i><i style="background:linear-gradient(90deg,#f6e620 0%,#f6e620 0.2%,#f6e620 0.4%,#f4e61e 0.6%,#f4e61e 0.8%,#f4e61e 1.2%,#f1e51d 1.6%,#efe51c 2%,#eae51a 2.4%,#e2e418 3.2%,#d8e219 4%,#cae11f 4.8%,#bade28 5.6%,#a2da37 6.8%,#89d548 8%,#67cc5c 9.6%,#32b67a 12.8%,#1e9d89 16%,#23888e 19.2%,#2b758e 22.4%,#31678e 25.6%,#38598c 28.8%,#3d4d8a 32%,#414287 35.2%,#443a83 38.4%,#46337f 41.6%,#472c7a 44.8%,#482677 48%,#482173 51.2%,#481d6f 54.4%,#481a6c 57.6%,#481668 60.8%,#471365 64%,#471063 67.2%,#470e61 70.4%,#460b5e 73.6%,#460a5d 76.8%,#46085c 80%,#450559 83.2%,#450559 86.4%,#450457 89.6%,#440256 92.8%,#440154 96%,#440154 99.2%,#440154 100%)"></i><i style="background:linear-gradient(90deg,#f6e620 0%,#f6e620 0.2%,#f6e620 0.4%,#f6e620 0.6%,#f4e61e 0.8%,#f4e61e 1.2%,#f1e51d 1.6%,#efe51c 2%,#eae51a 2.4%,#e2e418 3.2%,#d8e219 4%,#c8e020 4.8%,#bade28 5.6%,#a0da39 6.8%,#86d549 8%,#63cb5f 9.6%,#2eb37c 12.8%,#1e9b8a 16%,#25858e 19.2%,#2c738e 22.4%,#32648e 25.6%,#39568c 28.8%,#3e4c8a 32%,#424186 35.2%,#453882 38.4%,#46307e 41.6%,#472a7a 44.8%,#482576 48%,#482071 51.2%,#481c6e 54.4%,#48186a 57.6%,#481668 60.8%,#471365 64%,#471063 67.2%,#470d60 70.4%,#460b5e 73.6%,#46085c 76.8%,#46075a 80%,#450559 83.2%,#450457 86.4%,#450457 89.6%,#440256 92.8%,#440154 96%,#440154 99.2%,#440154 100%)"></i><i style="background:linear-gradient(90deg,#f6e620 0%,#f6e620 0.2%,#f6e620 0.4%,#f6e620 0.6%,#f6e620 0.8%,#f4e61e 1.2%,#f1e51d 1.6%,#efe51c 2%,#eae51a 2.4%,#e2e418 3.2%,#d5e21a 4%,#c8e020 4.8%,#b8de29 5.6%,#9dd93b 6.8%,#81d34d 8%,#5ec962 9.6%,#2cb17e 12.8%,#1f988b 16%,#26828e 19.2%,#2d718e 22.4%,#33628d 25.6%,#3a548c 28.8%,#3e4989 32%,#423f85 35.2%,#453781 38.4%,#472f7d 41.6%,#482979 44.8%,#482475 48%,#481f70 51.2%,#481b6d 54.4%,#481769 57.6%,#481467 60.8%,#471164 64%,#470e61 67.2%,#470d60 70.4%,#460a5d 73.6%,#46085c 76.8%,#46075a 80%,#450559 83.2%,#450457 86.4%,#440256 89.6%,#440256 92.8%,#440154 96%,#440154 99.2%,#440154 100%)"></i><i style="background:linear-gradient(90deg,#f6e620 0%,#f6e620 0.2%,#f6e620 0.4%,#f6e620 0.6%,#f6e620 0.8%,#f4e61e 1.2%,#f1e51d 1.6%,#efe51c 2%,#eae51a 2.4%,#e2e418 3.2%,#d5e21a 4%,#c5e021 4.8%,#b5de2b 5.6%,#9bd93c 6.8%,#7fd34e 8%,#5cc863 9.6%,#29af7f 12.8%,#1f968b 16%,#26818e 19.2%,#2e6f8e 22.4%,#34608d 25.6%,#3b528b 28.8%,#3f4788 32%,#433d84 35.2%,#463480 38.4%,#472e7c 41.6%,#482878 44.8%,#482374 48%,#481d6f 51.2%,#481a6c 54.4%,#481769 57.6%,#481467 60.8%,#471164 64%,#470e61 67.2%,#460b5e 70.4%,#460a5d 73.6%,#46085c 76.8%,#46075a 80%,#450559 83.2%,#450457 86.4%,#440256 89.6%,#440256 92.8%,#440154 96%,#440154 99.2%,#440154 100%)"></i><i style="background:linear-gradient(90deg,#f6e620 0%,#f6e620 0.2%,#f6e620 0.4%,#f6e620 0.6%,#f6e620 0.8%,#f4e61e 1.2%,#f1e51d 1.6%,#efe51c 2%,#eae51a 2.4%,#dfe318 3.2%,#d5e21a 4%,#c5e021 4.8%,#b2dd2d 5.6%,#98d83e 6.8%,#7ad151 8%,#58c765 9.6%,#26ad81 12.8%,#20938c 16%,#277e8e 19.2%,#2e6d8e 22.4%,#365d8d 25.6%,#3c508b 28.8%,#404588 32%,#443b84 35.2%,#46337f 38.4%,#472c7a 41.6%,#482677 44.8%,#482173 48%,#481c6e 51.2%,#481a6c 54.4%,#481668 57.6%,#471365 60.8%,#471063 64%,#470e61 67.2%,#460b5e 70.4%,#460a5d 73.6%,#46085c 76.8%,#46075a 80%,#450559 83.2%,#450457 86.4%,#440256 89.6%,#440256 92.8%,#440154 96%,#440154 99.2%,#440154 100%)"></i><i style="background:linear-gradient(90deg,#f8e621 0%,#f8e621 0.2%,#f8e621 0.4%,#f6e620 0.6%,#f6e620 0.8%,#f4e61e 1.2%,#f1e51d 1.6%,#efe51c 2%,#eae51a 2.4%,#dfe318 3.2%,#d2e21b 4%,#c2df23 4.8%,#b0dd2f 5.6%,#93d741 6.8%,#77d153 8%,#54c568 9.6%,#25ab82 12.8%,#21918c 16%,#287c8e 19.2%,#306a8e 22.4%,#375b8d 25.6%,#3d4e8a 28.8%,#414287 32%,#443983 35.2%,#46327e 38.4%,#472a7a 41.6%,#482576 44.8%,#482071 48%,#481c6e 51.2%,#48186a 54.4%,#481668 57.6%,#471365 60.8%,#471063 64%,#470d60 67.2%,#460b5e 70.4%,#460a5d 73.6%,#46085c 76.8%,#46075a 80%,#450559 83.2%,#450457 86.4%,#440256 89.6%,#440256 92.8%,#440154 96%,#440154 99.2%,#440154 100%)"></i><i style="background:linear-gradient(90deg,#f8e621 0%,#f8e621 0.2%,#f8e621 0.4%,#f8e621 0.6%,#f6e620 0.8%,#f6e620 1.2%,#f1e51d 1.6%,#efe51c 2%,#eae51a 2.4%,#dfe318 3.2%,#d2e21b 4%,#c0df25 4.8%,#addc30 5.6%,#90d743 6.8%,#73d056 8%,#50c46a 9.6%,#22a884 12.8%,#218f8d 16%,#29798e 19.2%,#31688e 22.4%,#38598c 25.6%,#3e4c8a 28.8%,#424186 32%,#453882 35.2%,#472f7d 38.4%,#482979 41.6%,#482475 44.8%,#481f70 48%,#481b6d 51.2%,#481769 54.4%,#481467 57.6%,#471164 60.8%,#470e61 64%,#470d60 67.2%,#460b5e 70.4%,#46085c 73.6%,#46075a 76.8%,#450559 80%,#450559 83.2%,#450457 86.4%,#440256 89.6%,#440256 92.8%,#440154 96%,#440154 99.2%,#440154 100%)"></i><i style="background:linear-gradient(90deg,#f8e621 0%,#f8e621 0.2%,#f8e621 0.4%,#f8e621 0.6%,#f6e620 0.8%,#f6e620 1.2%,#f1e51d 1.6%,#efe51c 2%,#eae51a 2.4%,#dfe318 3.2%,#d0e11c 4%,#c0df25 4.8%,#aadc32 5.6%,#8ed645 6.8%,#6ece58 8%,#4cc26c 9.6%,#21a685 12.8%,#228c8d 16%,#2a778e 19.2%,#32658e 22.4%,#39568c 25.6%,#3e4989 28.8%,#423f85 32%,#453581 35.2%,#472e7c 38.4%,#482878 41.6%,#482374 44.8%,#481d6f 48%,#481a6c 51.2%,#481769 54.4%,#471365 57.6%,#471164 60.8%,#470e61 64%,#460b5e 67.2%,#460a5d 70.4%,#46085c 73.6%,#46075a 76.8%,#450559 80%,#450457 83.2%,#450457 86.4%,#440256 89.6%,#440256 92.8%,#440154 96%,#440154 99.2%,#440154 100%)"></i><i style="background:linear-gradient(90deg,#f8e621 0%,#f8e621 0.2%,#f8e621 0.4%,#f8e621 0.6%,#f8e621 0.8%,#f6e620 1.2%,#f4e61e 1.6%,#efe51c 2%,#eae51a 2.4%,#dde318 3.2%,#d0e11c 4%,#bddf26 4.8%,#a8db34 5.6%,#89d548 6.8%,#6ccd5a 8%,#48c16e 9.6%,#20a386 12.8%,#238a8d 16%,#2b748e 19.2%,#33638d 22.4%,#3a548c 25.6%,#3f4788 28.8%,#433d84 32%,#463480 35.2%,#472d7b 38.4%,#482677 41.6%,#482173 44.8%,#481c6e 48%,#481a6c 51.2%,#481668 54.4%,#471365 57.6%,#471063 60.8%,#470e61 64%,#460b5e 67.2%,#460a5d 70.4%,#46085c 73.6%,#46075a 76.8%,#450559 80%,#450457 83.2%,#450457 86.4%,#440256 89.6%,#440154 92.8%,#440154 96%,#440154 99.2%,#440154 100%)"></i><i style="background:linear-gradient(90deg,#f8e621 0%,#f8e621 0.2%,#f8e621 0.4%,#f8e621 0.6%,#f8e621 0.8%,#f6e620 1.2%,#f4e61e 1.6%,#efe51c 2%,#eae51a 2.4%,#dde318 3.2%,#cde11d 4%,#bade28 4.8%,#a5db36 5.6%,#86d549 6.8%,#67cc5c 8%,#42be71 9.6%,#1fa187 12.8%,#24878e 16%,#2c728e 19.2%,#34618d 22.4%,#3b528b 25.6%,#404688 28.8%,#443b84 32%,#46337f 35.2%,#472c7a 38.4%,#482576 41.6%,#482071 44.8%,#481c6e 48%,#48186a 51.2%,#481467 54.4%,#471164 57.6%,#471063 60.8%,#470d60 64%,#460b5e 67.2%,#460a5d 70.4%,#46085c 73.6%,#46075a 76.8%,#450559 80%,#450457 83.2%,#450457 86.4%,#440256 89.6%,#440154 92.8%,#440154 96%,#440154 99.2%,#440154 100%)"></i><i style="background:linear-gradient(90deg,#f8e621 0%,#f8e621 0.2%,#f8e621 0.4%,#f8e621 0.6%,#f8e621 0.8%,#f6e620 1.2%,#f4e61e 1.6%,#efe51c 2%,#eae51a 2.4%,#dde318 3.2%,#cae11f 4%,#b8de29 4.8%,#a2da37 5.6%,#81d34d 6.8%,#63cb5f 8%,#3fbc73 9.6%,#1f9f88 12.8%,#25848e 16%,#2d708e 19.2%,#355f8d 22.4%,#3c508b 25.6%,#414487 28.8%,#443983 32%,#46307e 35.2%,#472a7a 38.4%,#482475 41.6%,#481f70 44.8%,#481b6d 48%,#481769 51.2%,#481467 54.4%,#471164 57.6%,#470e61 60.8%,#470d60 64%,#460b5e 67.2%,#46085c 70.4%,#46075a 73.6%,#46075a 76.8%,#450559 80%,#450457 83.2%,#440256 86.4%,#440256 89.6%,#440154 92.8%,#440154 96%,#440154 99.2%,#440154 100%)"></i><i style="background:linear-gradient(90deg,#fbe723 0%,#fbe723 0.2%,#f8e621 0.4%,#f8e621 0.6%,#f8e621 0.8%,#f6e620 1.2%,#f4e61e 1.6%,#efe51c 2%,#eae51a 2.4%,#dae319 3.2%,#cae11f 4%,#b5de2b 4.8%,#a0da39 5.6%,#7fd34e 6.8%,#5ec962 8%,#3bbb75 9.6%,#1e9c89 12.8%,#26828e 16%,#2e6e8e 19.2%,#365c8d 22.4%,#3d4e8a 25.6%,#424186 28.8%,#453882 32%,#472f7d 35.2%,#482878 38.4%,#482374 41.6%,#481d6f 44.8%,#481a6c 48%,#481769 51.2%,#471365 54.4%,#471063 57.6%,#470e61 60.8%,#460b5e 64%,#460a5d 67.2%,#46085c 70.4%,#46075a 73.6%,#450559 76.8%,#450559 80%,#450457 83.2%,#440256 86.4%,#440256 89.6%,#440154 92.8%,#440154 96%,#440154 99.2%,#440154 100%)"></i><i style="background:linear-gradient(90deg,#fbe723 0%,#fbe723 0.2%,#fbe723 0.4%,#f8e621 0.6%,#f8e621 0.8%,#f6e620 1.2%,#f4e61e 1.6%,#efe51c 2%,#eae51a 2.4%,#dae319 3.2%,#c8e020 4%,#b2dd2d 4.8%,#9dd93b 5.6%,#7ad151 6.8%,#5ac864 8%,#38b977 9.6%,#1f9a8a 12.8%,#27808e 16%,#2f6b8e 19.2%,#375a8c 22.4%,#3e4c8a 25.6%,#423f85 28.8%,#453581 32%,#472e7c 35.2%,#482677 38.4%,#482173 41.6%,#481c6e 44.8%,#48186a 48%,#481668 51.2%,#471365 54.4%,#471063 57.6%,#470d60 60.8%,#460b5e 64%,#460a5d 67.2%,#46085c 70.4%,#46075a 73.6%,#450559 76.8%,#450559 80%,#450457 83.2%,#440256 86.4%,#440256 89.6%,#440154 92.8%,#440154 96%,#440154 99.2%,#440154 100%)"></i><i style="background:linear-gradient(90deg,#fbe723 0%,#fbe723 0.2%,#fbe723 0.4%,#f8e621 0.6%,#f8e621 0.8%,#f6e620 1.2%,#f4e61e 1.6%,#efe51c 2%,#e7e419 2.4%,#dae319 3.2%,#c5e021 4%,#b0dd2f 4.8%,#9bd93c 5.6%,#77d153 6.8%,#56c667 8%,#34b679 9.6%,#1f978b 12.8%,#287d8e 16%,#30698e 19.2%,#38588c 22.4%,#3e4989 25.6%,#433e85 28.8%,#463480 32%,#472c7a 35.2%,#482576 38.4%,#482071 41.6%,#481c6e 44.8%,#48186a 48%,#481467 51.2%,#471164 54.4%,#471063 57.6%,#470d60 60.8%,#460b5e 64%,#460a5d 67.2%,#46085c 70.4%,#46075a 73.6%,#450559 76.8%,#450457 80%,#450457 83.2%,#440256 86.4%,#440256 89.6%,#440154 92.8%,#440154 96%,#440154 99.2%,#440154 100%)"></i><i style="background:linear-gradient(90deg,#fbe723 0%,#fbe723 0.2%,#fbe723 0.4%,#fbe723 0.6%,#f8e621 0.8%,#f6e620 1.2%,#f4e61e 1.6%,#efe51c 2%,#e7e419 2.4%,#d8e219 3.2%,#c5e021 4%,#addc30 4.8%,#95d840 5.6%,#73d056 6.8%,#52c569 8%,#31b57b 9.6%,#1f948c 12.8%,#297b8e 16%,#31668e 19.2%,#39558c 22.4%,#3f4788 25.6%,#443b84 28.8%,#46327e 32%,#472a7a 35.2%,#482475 38.4%,#481f70 41.6%,#481b6d 44.8%,#481769 48%,#481467 51.2%,#471164 54.4%,#470e61 57.6%,#470d60 60.8%,#460a5d 64%,#46085c 67.2%,#46075a 70.4%,#46075a 73.6%,#450559 76.8%,#450457 80%,#450457 83.2%,#440256 86.4%,#440256 89.6%,#440154 92.8%,#440154 96%,#440154 99.2%,#440154 100%)"></i><i style="background:linear-gradient(90deg,#fbe723 0%,#fbe723 0.2%,#fbe723 0.4%,#fbe723 0.6%,#f8e621 0.8%,#f6e620 1.2%,#f4e61e 1.6%,#ece51b 2%,#e7e419 2.4%,#d8e219 3.2%,#c2df23 4%,#aadc32 4.8%,#93d741 5.6%,#6ece58 6.8%,#4ec36b 8%,#2db27d 9.6%,#20928c 12.8%,#2a788e 16%,#32648e 19.2%,#3a538b 22.4%,#404588 25.6%,#443a83 28.8%,#46307e 32%,#482979 35.2%,#482374 38.4%,#481d6f 41.6%,#481a6c 44.8%,#481668 48%,#471365 51.2%,#471063 54.4%,#470e61 57.6%,#460b5e 60.8%,#460a5d 64%,#46085c 67.2%,#46075a 70.4%,#450559 73.6%,#450559 76.8%,#450457 80%,#450457 83.2%,#440256 86.4%,#440256 89.6%,#440154 92.8%,#440154 96%,#440154 99.2%,#440154 100%)"></i><i style="background:linear-gradient(90deg,#fbe723 0%,#fbe723 0.2%,#fbe723 0.4%,#fbe723 0.6%,#f8e621 0.8%,#f6e620 1.2%,#f1e51d 1.6%,#ece51b 2%,#e7e419 2.4%,#d5e21a 3.2%,#c0df25 4%,#a8db34 4.8%,#90d743 5.6%,#69cd5b 6.8%,#4ac16d 8%,#2ab07f 9.6%,#21908d 12.8%,#2a768e 16%,#33628d 19.2%,#3b518b 22.4%,#414287 25.6%,#453882 28.8%,#472f7d 32%,#482878 35.2%,#482173 38.4%,#481d6f 41.6%,#48186a 44.8%,#481668 48%,#471365 51.2%,#471063 54.4%,#470d60 57.6%,#460b5e 60.8%,#460a5d 64%,#46085c 67.2%,#46075a 70.4%,#450559 73.6%,#450559 76.8%,#450457 80%,#440256 83.2%,#440256 86.4%,#440256 89.6%,#440154 92.8%,#440154 96%,#440154 99.2%,#440154 100%)"></i><i style="background:linear-gradient(90deg,#fbe723 0%,#fbe723 0.2%,#fbe723 0.4%,#fbe723 0.6%,#f8e621 0.8%,#f6e620 1.2%,#f1e51d 1.6%,#ece51b 2%,#e5e419 2.4%,#d5e21a 3.2%,#bddf26 4%,#a5db36 4.8%,#8bd646 5.6%,#65cb5e 6.8%,#46c06f 8%,#28ae80 9.6%,#228d8d 12.8%,#2c738e 16%,#355f8d 19.2%,#3c4f8a 22.4%,#424186 25.6%,#453781 28.8%,#472d7b 32%,#482677 35.2%,#482071 38.4%,#481c6e 41.6%,#48186a 44.8%,#481467 48%,#471164 51.2%,#470e61 54.4%,#470d60 57.6%,#460b5e 60.8%,#460a5d 64%,#46085c 67.2%,#46075a 70.4%,#450559 73.6%,#450457 76.8%,#450457 80%,#440256 83.2%,#440256 86.4%,#440256 89.6%,#440154 92.8%,#440154 96%,#440154 99.2%,#440154 100%)"></i><i style="background:linear-gradient(90deg,#fbe723 0%,#fbe723 0.2%,#fbe723 0.4%,#fbe723 0.6%,#f8e621 0.8%,#f6e620 1.2%,#f1e51d 1.6%,#ece51b 2%,#e5e419 2.4%,#d2e21b 3.2%,#bade28 4%,#a2da37 4.8%,#89d548 5.6%,#60ca60 6.8%,#40bd72 8%,#25ac82 9.6%,#228b8d 12.8%,#2d718e 16%,#365d8d 19.2%,#3d4d8a 22.4%,#423f85 25.6%,#463480 28.8%,#472c7a 32%,#482576 35.2%,#481f70 38.4%,#481b6d 41.6%,#481769 44.8%,#481467 48%,#471164 51.2%,#470e61 54.4%,#470d60 57.6%,#460a5d 60.8%,#46085c 64%,#46075a 67.2%,#46075a 70.4%,#450559 73.6%,#450457 76.8%,#450457 80%,#440256 83.2%,#440256 86.4%,#440154 89.6%,#440154 92.8%,#440154 96%,#440154 99.2%,#440154 100%)"></i><i style="background:linear-gradient(90deg,#fbe723 0%,#fbe723 0.2%,#fbe723 0.4%,#fbe723 0.6%,#fbe723 0.8%,#f6e620 1.2%,#f1e51d 1.6%,#ece51b 2%,#e5e419 2.4%,#d0e11c 3.2%,#b8de29 4%,#a0da39 4.8%,#84d44b 5.6%,#5cc863 6.8%,#3dbc74 8%,#23a983 9.6%,#23888e 12.8%,#2e6f8e 16%,#375b8d 19.2%,#3e4a89 22.4%,#433d84 25.6%,#46337f 28.8%,#472a7a 32%,#482475 35.2%,#481f70 38.4%,#481a6c 41.6%,#481668 44.8%,#471365 48%,#471063 51.2%,#470e61 54.4%,#460b5e 57.6%,#460a5d 60.8%,#46085c 64%,#46075a 67.2%,#450559 70.4%,#450559 73.6%,#450457 76.8%,#450457 80%,#440256 83.2%,#440256 86.4%,#440154 89.6%,#440154 92.8%,#440154 96%,#440154 99.2%,#440154 100%)"></i><i style="background:linear-gradient(90deg,#fde725 0%,#fbe723 0.2%,#fbe723 0.4%,#fbe723 0.6%,#fbe723 0.8%,#f6e620 1.2%,#f1e51d 1.6%,#ece51b 2%,#e2e418 2.4%,#d0e11c 3.2%,#b8de29 4%,#9bd93c 4.8%,#7fd34e 5.6%,#58c765 6.8%,#3aba76 8%,#22a785 9.6%,#25858e 12.8%,#2f6c8e 16%,#38598c 19.2%,#3f4889 22.4%,#443b84 25.6%,#46307e 28.8%,#482979 32%,#482374 35.2%,#481d6f 38.4%,#48186a 41.6%,#481668 44.8%,#471365 48%,#471063 51.2%,#470d60 54.4%,#460b5e 57.6%,#460a5d 60.8%,#46085c 64%,#46075a 67.2%,#450559 70.4%,#450559 73.6%,#450457 76.8%,#450457 80%,#440256 83.2%,#440256 86.4%,#440154 89.6%,#440154 92.8%,#440154 96%,#440154 99.2%,#440154 100%)"></i><i style="background:linear-gradient(90deg,#fde725 0%,#fde725 0.2%,#fbe723 0.4%,#fbe723 0.6%,#fbe723 0.8%,#f6e620 1.2%,#f1e51d 1.6%,#eae51a 2%,#e2e418 2.4%,#cde11d 3.2%,#b2dd2d 4%,#98d83e 4.8%,#7cd250 5.6%,#54c568 6.8%,#35b779 8%,#20a486 9.6%,#25838e 12.8%,#306a8e 16%,#39558c 19.2%,#404688 22.4%,#443983 25.6%,#472f7d 28.8%,#482878 32%,#482173 35.2%,#481c6e 38.4%,#48186a 41.6%,#481467 44.8%,#471164 48%,#470e61 51.2%,#470d60 54.4%,#460b5e 57.6%,#460a5d 60.8%,#46085c 64%,#46075a 67.2%,#450559 70.4%,#450559 73.6%,#450457 76.8%,#450457 80%,#440256 83.2%,#440256 86.4%,#440154 89.6%,#440154 92.8%,#440154 96%,#440154 99.2%,#440154 100%)"></i><i style="background:linear-gradient(90deg,#fde725 0%,#fde725 0.2%,#fde725 0.4%,#fbe723 0.6%,#fbe723 0.8%,#f6e620 1.2%,#f1e51d 1.6%,#eae51a 2%,#e2e418 2.4%,#cae11f 3.2%,#b0dd2f 4%,#93d741 4.8%,#77d153 5.6%,#50c46a 6.8%,#32b67a 8%,#1fa287 9.6%,#26818e 12.8%,#31688e 16%,#3a538b 19.2%,#414487 22.4%,#453882 25.6%,#472e7c 28.8%,#482677 32%,#482071 35.2%,#481b6d 38.4%,#481769 41.6%,#481467 44.8%,#471164 48%,#470e61 51.2%,#470d60 54.4%,#460a5d 57.6%,#46085c 60.8%,#46075a 64%,#46075a 67.2%,#450559 70.4%,#450457 73.6%,#450457 76.8%,#440256 80%,#440256 83.2%,#440256 86.4%,#440154 89.6%,#440154 92.8%,#440154 96%,#440154 99.2%,#440154 100%)"></i><i style="background:linear-gradient(90deg,#fde725 0%,#fde725 0.2%,#fde725 0.4%,#fbe723 0.6%,#fbe723 0.8%,#f6e620 1.2%,#f1e51d 1.6%,#eae51a 2%,#dfe318 2.4%,#cae11f 3.2%,#addc30 4%,#90d743 4.8%,#73d056 5.6%,#4cc26c 6.8%,#2fb47c 8%,#1fa088 9.6%,#277e8e 12.8%,#32658e 16%,#3b518b 19.2%,#424186 22.4%,#453581 25.6%,#472c7a 28.8%,#482576 32%,#481f70 35.2%,#481a6c 38.4%,#481769 41.6%,#471365 44.8%,#471063 48%,#470e61 51.2%,#460b5e 54.4%,#460a5d 57.6%,#46085c 60.8%,#46075a 64%,#450559 67.2%,#450559 70.4%,#450457 73.6%,#450457 76.8%,#440256 80%,#440256 83.2%,#440256 86.4%,#440154 89.6%,#440154 92.8%,#440154 96%,#440154 99.2%,#440154 100%)"></i><i style="background:linear-gradient(90deg,#fde725 0%,#fde725 0.2%,#fde725 0.4%,#fbe723 0.6%,#fbe723 0.8%,#f6e620 1.2%,#f1e51d 1.6%,#eae51a 2%,#dfe318 2.4%,#c8e020 3.2%,#aadc32 4%,#8ed645 4.8%,#6ece58 5.6%,#48c16e 6.8%,#2cb17e 8%,#1e9d89 9.6%,#287c8e 12.8%,#33638d 16%,#3c4f8a 19.2%,#424086 22.4%,#463480 25.6%,#472a7a 28.8%,#482475 32%,#481d6f 35.2%,#481a6c 38.4%,#481668 41.6%,#471365 44.8%,#471063 48%,#470d60 51.2%,#460b5e 54.4%,#460a5d 57.6%,#46085c 60.8%,#46075a 64%,#450559 67.2%,#450559 70.4%,#450457 73.6%,#450457 76.8%,#440256 80%,#440256 83.2%,#440256 86.4%,#440154 89.6%,#440154 92.8%,#440154 96%,#440154 99.2%,#440154 100%)"></i><i style="background:linear-gradient(90deg,#fde725 0%,#fde725 0.2%,#fde725 0.4%,#fbe723 0.6%,#fbe723 0.8%,#f6e620 1.2%,#efe51c 1.6%,#e7e419 2%,#dde318 2.4%,#c5e021 3.2%,#a8db34 4%,#89d548 4.8%,#69cd5b 5.6%,#44bf70 6.8%,#29af7f 8%,#1e9b8a 9.6%,#29798e 12.8%,#34608d 16%,#3d4d8a 19.2%,#433e85 22.4%,#46327e 25.6%,#482979 28.8%,#482374 32%,#481c6e 35.2%,#48186a 38.4%,#481467 41.6%,#471164 44.8%,#470e61 48%,#470d60 51.2%,#460b5e 54.4%,#460a5d 57.6%,#46085c 60.8%,#46075a 64%,#450559 67.2%,#450559 70.4%,#450457 73.6%,#450457 76.8%,#440256 80%,#440256 83.2%,#440256 86.4%,#440154 89.6%,#440154 92.8%,#440154 96%,#440154 99.2%,#440154 100%)"></i><i style="background:linear-gradient(90deg,#fde725 0%,#fde725 0.2%,#fde725 0.4%,#fbe723 0.6%,#fbe723 0.8%,#f6e620 1.2%,#efe51c 1.6%,#e7e419 2%,#dde318 2.4%,#c2df23 3.2%,#a5db36 4%,#84d44b 4.8%,#67cc5c 5.6%,#3fbc73 6.8%,#26ad81 8%,#1f988b 9.6%,#2a768e 12.8%,#355e8d 16%,#3e4a89 19.2%,#443b84 22.4%,#46307e 25.6%,#482878 28.8%,#482173 32%,#481c6e 35.2%,#481769 38.4%,#481467 41.6%,#471164 44.8%,#470e61 48%,#460b5e 51.2%,#460a5d 54.4%,#46085c 57.6%,#46075a 60.8%,#46075a 64%,#450559 67.2%,#450457 70.4%,#450457 73.6%,#450457 76.8%,#440256 80%,#440256 83.2%,#440154 86.4%,#440154 89.6%,#440154 92.8%,#440154 96%,#440154 99.2%,#440154 100%)"></i><i style="background:linear-gradient(90deg,#fde725 0%,#fde725 0.2%,#fde725 0.4%,#fbe723 0.6%,#fbe723 0.8%,#f6e620 1.2%,#efe51c 1.6%,#e7e419 2%,#dae319 2.4%,#c0df25 3.2%,#a0da39 4%,#81d34d 4.8%,#63cb5f 5.6%,#3bbb75 6.8%,#24aa83 8%,#1f958b 9.6%,#2b748e 12.8%,#365c8d 16%,#3f4889 19.2%,#443a83 22.4%,#472f7d 25.6%,#482677 28.8%,#482071 32%,#481b6d 35.2%,#481769 38.4%,#471365 41.6%,#471063 44.8%,#470e61 48%,#460b5e 51.2%,#460a5d 54.4%,#46085c 57.6%,#46075a 60.8%,#450559 64%,#450559 67.2%,#450457 70.4%,#450457 73.6%,#440256 76.8%,#440256 80%,#440256 83.2%,#440154 86.4%,#440154 89.6%,#440154 92.8%,#440154 96%,#440154 99.2%,#440154 100%)"></i><i style="background:linear-gradient(90deg,#fde725 0%,#fde725 0.2%,#fde725 0.4%,#fbe723 0.6%,#fbe723 0.8%,#f6e620 1.2%,#efe51c 1.6%,#e5e419 2%,#dae319 2.4%,#bddf26 3.2%,#9dd93b 4%,#7cd250 4.8%,#5ec962 5.6%,#38b977 6.8%,#22a884 8%,#20928c 9.6%,#2c718e 12.8%,#375a8c 16%,#404688 19.2%,#453882 22.4%,#472d7b 25.6%,#482576 28.8%,#481f70 32%,#481a6c 35.2%,#481668 38.4%,#471365 41.6%,#471063 44.8%,#470d60 48%,#460b5e 51.2%,#460a5d 54.4%,#46085c 57.6%,#46075a 60.8%,#450559 64%,#450559 67.2%,#450457 70.4%,#450457 73.6%,#440256 76.8%,#440256 80%,#440256 83.2%,#440154 86.4%,#440154 89.6%,#440154 92.8%,#440154 96%,#440154 99.2%,#440154 100%)"></i><i style="background:linear-gradient(90deg,#fde725 0%,#fde725 0.2%,#fde725 0.4%,#fbe723 0.6%,#fbe723 0.8%,#f6e620 1.2%,#efe51c 1.6%,#e5e419 2%,#d8e219 2.4%,#bade28 3.2%,#9bd93c 4%,#77d153 4.8%,#58c765 5.6%,#34b679 6.8%,#21a585 8%,#21918c 9.6%,#2d708e 12.8%,#39568c 16%,#404588 19.2%,#453781 22.4%,#472c7a 25.6%,#482475 28.8%,#481d6f 32%,#48186a 35.2%,#481467 38.4%,#471164 41.6%,#470e61 44.8%,#470d60 48%,#460a5d 51.2%,#46085c 54.4%,#46085c 57.6%,#46075a 60.8%,#450559 64%,#450559 67.2%,#450457 70.4%,#450457 73.6%,#440256 76.8%,#440256 80%,#440256 83.2%,#440154 86.4%,#440154 89.6%,#440154 92.8%,#440154 96%,#440154 99.2%,#440154 100%)"></i><i style="background:linear-gradient(90deg,#fde725 0%,#fde725 0.2%,#fde725 0.4%,#fbe723 0.6%,#fbe723 0.8%,#f6e620 1.2%,#ece51b 1.6%,#e2e418 2%,#d8e219 2.4%,#b8de29 3.2%,#95d840 4%,#75d054 4.8%,#54c568 5.6%,#31b57b 6.8%,#20a386 8%,#218e8d 9.6%,#2e6d8e 12.8%,#3a548c 16%,#414287 19.2%,#463480 22.4%,#472a7a 25.6%,#482374 28.8%,#481c6e 32%,#48186a 35.2%,#481467 38.4%,#471164 41.6%,#470e61 44.8%,#460b5e 48%,#460a5d 51.2%,#46085c 54.4%,#46075a 57.6%,#46075a 60.8%,#450559 64%,#450457 67.2%,#450457 70.4%,#450457 73.6%,#440256 76.8%,#440256 80%,#440256 83.2%,#440154 86.4%,#440154 89.6%,#440154 92.8%,#440154 96%,#440154 99.2%,#440154 100%)"></i><i style="background:linear-gradient(90deg,#fde725 0%,#fde725 0.2%,#fde725 0.4%,#fde725 0.6%,#fbe723 0.8%,#f4e61e 1.2%,#ece51b 1.6%,#e2e418 2%,#d5e21a 2.4%,#b5de2b 3.2%,#93d741 4%,#70cf57 4.8%,#50c46a 5.6%,#2db27d 6.8%,#1fa188 8%,#228b8d 9.6%,#2f6b8e 12.8%,#3b528b 16%,#424086 19.2%,#46337f 22.4%,#482979 25.6%,#482173 28.8%,#481b6d 32%,#481769 35.2%,#471365 38.4%,#471063 41.6%,#470d60 44.8%,#460b5e 48%,#460a5d 51.2%,#46085c 54.4%,#46075a 57.6%,#450559 60.8%,#450559 64%,#450457 67.2%,#450457 70.4%,#440256 73.6%,#440256 76.8%,#440256 80%,#440256 83.2%,#440154 86.4%,#440154 89.6%,#440154 92.8%,#440154 96%,#440154 99.2%,#440154 100%)"></i><i style="background:linear-gradient(90deg,#fde725 0%,#fde725 0.2%,#fde725 0.4%,#fde725 0.6%,#fbe723 0.8%,#f4e61e 1.2%,#ece51b 1.6%,#e2e418 2%,#d2e21b 2.4%,#b2dd2d 3.2%,#8ed645 4%,#6ccd5a 4.8%,#4cc26c 5.6%,#2ab07f 6.8%,#1f9e89 8%,#23888e 9.6%,#31688e 12.8%,#3c508b 16%,#433e85 19.2%,#46307e 22.4%,#482878 25.6%,#482071 28.8%,#481b6d 32%,#481668 35.2%,#471365 38.4%,#471063 41.6%,#470d60 44.8%,#460b5e 48%,#460a5d 51.2%,#46085c 54.4%,#46075a 57.6%,#450559 60.8%,#450559 64%,#450457 67.2%,#450457 70.4%,#440256 73.6%,#440256 76.8%,#440256 80%,#440154 83.2%,#440154 86.4%,#440154 89.6%,#440154 92.8%,#440154 96%,#440154 99.2%,#440154 100%)"></i><i style="background:linear-gradient(90deg,#fde725 0%,#fde725 0.2%,#fde725 0.4%,#fde725 0.6%,#fbe723 0.8%,#f4e61e 1.2%,#ece51b 1.6%,#dfe318 2%,#d2e21b 2.4%,#b0dd2f 3.2%,#8bd646 4%,#67cc5c 4.8%,#48c16e 5.6%,#27ad81 6.8%,#1e9b8a 8%,#24868e 9.6%,#31668e 12.8%,#3d4e8a 16%,#433d84 19.2%,#472f7d 22.4%,#482677 25.6%,#481f70 28.8%,#481a6c 32%,#481668 35.2%,#471164 38.4%,#470e61 41.6%,#470d60 44.8%,#460a5d 48%,#46085c 51.2%,#46075a 54.4%,#46075a 57.6%,#450559 60.8%,#450559 64%,#450457 67.2%,#450457 70.4%,#440256 73.6%,#440256 76.8%,#440256 80%,#440154 83.2%,#440154 86.4%,#440154 89.6%,#440154 92.8%,#440154 96%,#440154 99.2%,#440154 100%)"></i><i style="background:linear-gradient(90deg,#fde725 0%,#fde725 0.2%,#fde725 0.4%,#fde725 0.6%,#fbe723 0.8%,#f4e61e 1.2%,#eae51a 1.6%,#dfe318 2%,#d0e11c 2.4%,#addc30 3.2%,#86d549 4%,#63cb5f 4.8%,#42be71 5.6%,#25ac82 6.8%,#1f998a 8%,#25838e 9.6%,#33638d 12.8%,#3e4c8a 16%,#443a83 19.2%,#472e7c 22.4%,#482475 25.6%,#481d6f 28.8%,#48186a 32%,#481467 35.2%,#471164 38.4%,#470e61 41.6%,#460b5e 44.8%,#460a5d 48%,#46085c 51.2%,#46075a 54.4%,#46075a 57.6%,#450559 60.8%,#450457 64%,#450457 67.2%,#450457 70.4%,#440256 73.6%,#440256 76.8%,#440256 80%,#440154 83.2%,#440154 86.4%,#440154 89.6%,#440154 92.8%,#440154 96%,#440154 99.2%,#440154 100%)"></i><i style="background:linear-gradient(90deg,#fde725 0%,#fde725 0.2%,#fde725 0.4%,#fde725 0.6%,#fbe723 0.8%,#f4e61e 1.2%,#eae51a 1.6%,#dde318 2%,#cde11d 2.4%,#aadc32 3.2%,#84d44b 4%,#5ec962 4.8%,#3fbc73 5.6%,#23a983 6.8%,#1f968b 8%,#26818e 9.6%,#34618d 12.8%,#3e4989 16%,#453882 19.2%,#472c7a 22.4%,#482374 25.6%,#481c6e 28.8%,#481769 32%,#481467 35.2%,#471063 38.4%,#470d60 41.6%,#460b5e 44.8%,#460a5d 48%,#46085c 51.2%,#46075a 54.4%,#450559 57.6%,#450559 60.8%,#450457 64%,#450457 67.2%,#440256 70.4%,#440256 73.6%,#440256 76.8%,#440256 80%,#440154 83.2%,#440154 86.4%,#440154 89.6%,#440154 92.8%,#440154 96%,#440154 99.2%,#440154 100%)"></i><i style="background:linear-gradient(90deg,#440256 0%,#440256 0.2%,#fde725 0.4%,#fde725 0.6%,#fbe723 0.8%,#f4e61e 1.2%,#eae51a 1.6%,#dde318 2%,#cde11d 2.4%,#a8db34 3.2%,#7fd34e 4%,#5ac864 4.8%,#3bbb75 5.6%,#21a685 6.8%,#20938c 8%,#277f8e 9.6%,#355f8d 12.8%,#3f4788 16%,#453781 19.2%,#472a7a 22.4%,#482173 25.6%,#481c6e 28.8%,#481769 32%,#471365 35.2%,#471063 38.4%,#470d60 41.6%,#460b5e 44.8%,#460a5d 48%,#46085c 51.2%,#46075a 54.4%,#450559 57.6%,#450559 60.8%,#450457 64%,#450457 67.2%,#440256 70.4%,#440256 73.6%,#440256 76.8%,#440256 80%,#440154 83.2%,#440154 86.4%,#440154 89.6%,#440154 92.8%,#440154 96%,#440154 99.2%,#440154 100%)"></i><i style="background:linear-gradient(90deg,#440256 0%,#440256 0.2%,#fde725 0.4%,#fde725 0.6%,#fbe723 0.8%,#f4e61e 1.2%,#e7e419 1.6%,#dae319 2%,#cae11f 2.4%,#a2da37 3.2%,#7ad151 4%,#56c667 4.8%,#37b878 5.6%,#20a486 6.8%,#21918c 8%,#287c8e 9.6%,#365c8d 12.8%,#404588 16%,#463480 19.2%,#482979 22.4%,#482173 25.6%,#481b6d 28.8%,#481668 32%,#471365 35.2%,#470e61 38.4%,#470d60 41.6%,#460a5d 44.8%,#46085c 48%,#46075a 51.2%,#46075a 54.4%,#450559 57.6%,#450559 60.8%,#450457 64%,#450457 67.2%,#440256 70.4%,#440256 73.6%,#440256 76.8%,#440154 80%,#440154 83.2%,#440154 86.4%,#440154 89.6%,#440154 92.8%,#440154 96%,#440154 99.2%,#440154 100%)"></i><i style="background:linear-gradient(90deg,#440256 0%,#440256 0.2%,#fde725 0.4%,#fde725 0.6%,#f8e621 0.8%,#f1e51d 1.2%,#e7e419 1.6%,#d8e219 2%,#c8e020 2.4%,#a0da39 3.2%,#75d054 4%,#50c46a 4.8%,#34b679 5.6%,#1fa187 6.8%,#218f8d 8%,#29798e 9.6%,#375a8c 12.8%,#414287 16%,#46337f 19.2%,#482878 22.4%,#482071 25.6%,#481a6c 28.8%,#481668 32%,#471164 35.2%,#470e61 38.4%,#460b5e 41.6%,#460a5d 44.8%,#46085c 48%,#46075a 51.2%,#450559 54.4%,#450559 57.6%,#450457 60.8%,#450457 64%,#450457 67.2%,#440256 70.4%,#440256 73.6%,#440256 76.8%,#440154 80%,#440154 83.2%,#440154 86.4%,#440154 89.6%,#440154 92.8%,#440154 96%,#440154 99.2%,#440154 100%)"></i><i style="background:linear-gradient(90deg,#440256 0%,#440256 0.2%,#fde725 0.4%,#fde725 0.6%,#f8e621 0.8%,#f1e51d 1.2%,#e7e419 1.6%,#d8e219 2%,#c5e021 2.4%,#9bd93c 3.2%,#70cf57 4%,#4cc26c 4.8%,#2fb47c 5.6%,#1f9f88 6.8%,#228c8d 8%,#2a778e 9.6%,#38588c 12.8%,#424186 16%,#46327e 19.2%,#482677 22.4%,#481f70 25.6%,#48186a 28.8%,#481467 32%,#471164 35.2%,#470e61 38.4%,#460b5e 41.6%,#460a5d 44.8%,#46085c 48%,#46075a 51.2%,#450559 54.4%,#450559 57.6%,#450457 60.8%,#450457 64%,#440256 67.2%,#440256 70.4%,#440256 73.6%,#440256 76.8%,#440154 80%,#440154 83.2%,#440154 86.4%,#440154 89.6%,#440154 92.8%,#440154 96%,#440154 99.2%,#440154 100%)"></i><i style="background:linear-gradient(90deg,#440256 0%,#440256 0.2%,#fde725 0.4%,#fde725 0.6%,#f8e621 0.8%,#f1e51d 1.2%,#e5e419 1.6%,#d5e21a 2%,#c2df23 2.4%,#98d83e 3.2%,#6ece58 4%,#48c16e 4.8%,#2db27d 5.6%,#1e9c89 6.8%,#23898e 8%,#2b748e 9.6%,#39558c 12.8%,#423f85 16%,#472f7d 19.2%,#482576 22.4%,#481d6f 25.6%,#48186a 28.8%,#471365 32%,#471063 35.2%,#470d60 38.4%,#460b5e 41.6%,#460a5d 44.8%,#46085c 48%,#46075a 51.2%,#450559 54.4%,#450559 57.6%,#450457 60.8%,#450457 64%,#440256 67.2%,#440256 70.4%,#440256 73.6%,#440256 76.8%,#440154 80%,#440154 83.2%,#440154 86.4%,#440154 89.6%,#440154 92.8%,#440154 96%,#440154 99.2%,#440154 100%)"></i><i style="background:linear-gradient(90deg,#440256 0%,#440256 0.2%,#fde725 0.4%,#fde725 0.6%,#f8e621 0.8%,#f1e51d 1.2%,#e5e419 1.6%,#d2e21b 2%,#c0df25 2.4%,#95d840 3.2%,#69cd5b 4%,#44bf70 4.8%,#29af7f 5.6%,#1f9a8a 6.8%,#24868e 8%,#2c718e 9.6%,#3b528b 12.8%,#433d84 16%,#472e7c 19.2%,#482475 22.4%,#481c6e 25.6%,#481769 28.8%,#471365 32%,#471063 35.2%,#470d60 38.4%,#460a5d 41.6%,#46085c 44.8%,#46075a 48%,#46075a 51.2%,#450559 54.4%,#450457 57.6%,#450457 60.8%,#450457 64%,#440256 67.2%,#440256 70.4%,#440256 73.6%,#440256 76.8%,#440154 80%,#440154 83.2%,#440154 86.4%,#440154 89.6%,#440154 92.8%,#440154 96%,#440154 99.2%,#440154 100%)"></i><i style="background:linear-gradient(90deg,#440256 0%,#440256 0.2%,#fde725 0.4%,#fbe723 0.6%,#f8e621 0.8%,#efe51c 1.2%,#e2e418 1.6%,#d2e21b 2%,#bddf26 2.4%,#90d743 3.2%,#65cb5e 4%,#3fbc73 4.8%,#27ad81 5.6%,#1f978b 6.8%,#25848e 8%,#2d708e 9.6%,#3c508b 12.8%,#443b84 16%,#472d7b 19.2%,#482374 22.4%,#481b6d 25.6%,#481668 28.8%,#471164 32%,#470e61 35.2%,#460b5e 38.4%,#460a5d 41.6%,#46085c 44.8%,#46075a 48%,#450559 51.2%,#450559 54.4%,#450457 57.6%,#450457 60.8%,#450457 64%,#440256 67.2%,#440256 70.4%,#440256 73.6%,#440154 76.8%,#440154 80%,#440154 83.2%,#440154 86.4%,#440154 89.6%,#440154 92.8%,#440154 96%,#440154 99.2%,#440154 100%)"></i><i style="background:linear-gradient(90deg,#440256 0%,#440256 0.2%,#fde725 0.4%,#fbe723 0.6%,#f8e621 0.8%,#efe51c 1.2%,#e2e418 1.6%,#d0e11c 2%,#bade28 2.4%,#8bd646 3.2%,#60ca60 4%,#3bbb75 4.8%,#25ab82 5.6%,#1f948c 6.8%,#26828e 8%,#2e6d8e 9.6%,#3d4e8a 12.8%,#443983 16%,#472a7a 19.2%,#482173 22.4%,#481a6c 25.6%,#481668 28.8%,#471164 32%,#470e61 35.2%,#460b5e 38.4%,#460a5d 41.6%,#46085c 44.8%,#46075a 48%,#450559 51.2%,#450559 54.4%,#450457 57.6%,#450457 60.8%,#440256 64%,#440256 67.2%,#440256 70.4%,#440256 73.6%,#440154 76.8%,#440154 80%,#440154 83.2%,#440154 86.4%,#440154 89.6%,#440154 92.8%,#440154 96%,#440154 99.2%,#440154 100%)"></i><i style="background:linear-gradient(90deg,#440256 0%,#440256 0.2%,#fde725 0.4%,#fbe723 0.6%,#f8e621 0.8%,#efe51c 1.2%,#dfe318 1.6%,#cde11d 2%,#b8de29 2.4%,#89d548 3.2%,#5ac864 4%,#37b878 4.8%,#22a884 5.6%,#20928c 6.8%,#277f8e 8%,#2f6b8e 9.6%,#3e4c8a 12.8%,#453781 16%,#482979 19.2%,#482071 22.4%,#481a6c 25.6%,#481467 28.8%,#471063 32%,#470d60 35.2%,#460b5e 38.4%,#460a5d 41.6%,#46085c 44.8%,#46075a 48%,#450559 51.2%,#450559 54.4%,#450457 57.6%,#450457 60.8%,#440256 64%,#440256 67.2%,#440256 70.4%,#440256 73.6%,#440154 76.8%,#440154 80%,#440154 83.2%,#440154 86.4%,#440154 89.6%,#440154 92.8%,#440154 96%,#440154 99.2%,#440154 100%)"></i><i style="background:linear-gradient(90deg,#440256 0%,#440256 0.2%,#fde725 0.4%,#fbe723 0.6%,#f8e621 0.8%,#efe51c 1.2%,#dfe318 1.6%,#cae11f 2%,#b5de2b 2.4%,#84d44b 3.2%,#56c667 4%,#34b679 4.8%,#21a685 5.6%,#21908d 6.8%,#287d8e 8%,#31688e 9.6%,#3e4989 12.8%,#453581 16%,#482878 19.2%,#481f70 22.4%,#48186a 25.6%,#481467 28.8%,#471063 32%,#470d60 35.2%,#460a5d 38.4%,#46085c 41.6%,#46075a 44.8%,#46075a 48%,#450559 51.2%,#450457 54.4%,#450457 57.6%,#450457 60.8%,#440256 64%,#440256 67.2%,#440256 70.4%,#440256 73.6%,#440154 76.8%,#440154 80%,#440154 83.2%,#440154 86.4%,#440154 89.6%,#440154 92.8%,#440154 96%,#440154 99.2%,#440154 100%)"></i><i style="background:linear-gradient(90deg,#440256 0%,#440256 0.2%,#fde725 0.4%,#fbe723 0.6%,#f8e621 0.8%,#ece51b 1.2%,#dde318 1.6%,#cae11f 2%,#b2dd2d 2.4%,#7fd34e 3.2%,#52c569 4%,#2fb47c 4.8%,#20a386 5.6%,#228d8d 6.8%,#297a8e 8%,#31668e 9.6%,#3f4788 12.8%,#463480 16%,#482677 19.2%,#481d6f 22.4%,#481769 25.6%,#471365 28.8%,#471063 32%,#470d60 35.2%,#460a5d 38.4%,#46085c 41.6%,#46075a 44.8%,#450559 48%,#450559 51.2%,#450457 54.4%,#450457 57.6%,#450457 60.8%,#440256 64%,#440256 67.2%,#440256 70.4%,#440154 73.6%,#440154 76.8%,#440154 80%,#440154 83.2%,#440154 86.4%,#440154 89.6%,#440154 92.8%,#440154 96%,#440154 99.2%,#440154 100%)"></i><i style="background:linear-gradient(90deg,#440256 0%,#440256 0.2%,#fde725 0.4%,#fbe723 0.6%,#f8e621 0.8%,#ece51b 1.2%,#dde318 1.6%,#c8e020 2%,#b0dd2f 2.4%,#7cd250 3.2%,#4ec36b 4%,#2db27d 4.8%,#1fa188 5.6%,#238a8d 6.8%,#2a778e 8%,#33638d 9.6%,#404688 12.8%,#46327e 16%,#482576 19.2%,#481c6e 22.4%,#481769 25.6%,#471164 28.8%,#470e61 32%,#460b5e 35.2%,#460a5d 38.4%,#46085c 41.6%,#46075a 44.8%,#450559 48%,#450559 51.2%,#450457 54.4%,#450457 57.6%,#440256 60.8%,#440256 64%,#440256 67.2%,#440256 70.4%,#440154 73.6%,#440154 76.8%,#440154 80%,#440154 83.2%,#440154 86.4%,#440154 89.6%,#440154 92.8%,#440154 96%,#440154 99.2%,#440154 100%)"></i><i style="background:linear-gradient(90deg,#440256 0%,#440256 0.2%,#fde725 0.4%,#fbe723 0.6%,#f8e621 0.8%,#ece51b 1.2%,#dae319 1.6%,#c5e021 2%,#aadc32 2.4%,#77d153 3.2%,#4ac16d 4%,#29af7f 4.8%,#1f9f88 5.6%,#24878e 6.8%,#2b758e 8%,#34618d 9.6%,#414487 12.8%,#46307e 16%,#482475 19.2%,#481b6d 22.4%,#481668 25.6%,#471164 28.8%,#470e61 32%,#460b5e 35.2%,#460a5d 38.4%,#46085c 41.6%,#46075a 44.8%,#450559 48%,#450559 51.2%,#450457 54.4%,#450457 57.6%,#440256 60.8%,#440256 64%,#440256 67.2%,#440256 70.4%,#440154 73.6%,#440154 76.8%,#440154 80%,#440154 83.2%,#440154 86.4%,#440154 89.6%,#440154 92.8%,#440154 96%,#440154 99.2%,#440154 100%)"></i><i style="background:linear-gradient(90deg,#440256 0%,#440256 0.2%,#fde725 0.4%,#fbe723 0.6%,#f6e620 0.8%,#eae51a 1.2%,#d8e219 1.6%,#c2df23 2%,#a8db34 2.4%,#73d056 3.2%,#44bf70 4%,#27ad81 4.8%,#1e9c89 5.6%,#25858e 6.8%,#2c728e 8%,#355f8d 9.6%,#424186 12.8%,#472e7c 16%,#482374 19.2%,#481b6d 22.4%,#481467 25.6%,#471063 28.8%,#470d60 32%,#460b5e 35.2%,#46085c 38.4%,#46075a 41.6%,#46075a 44.8%,#450559 48%,#450457 51.2%,#450457 54.4%,#450457 57.6%,#440256 60.8%,#440256 64%,#440256 67.2%,#440256 70.4%,#440154 73.6%,#440154 76.8%,#440154 80%,#440154 83.2%,#440154 86.4%,#440154 89.6%,#440154 92.8%,#440154 96%,#440154 99.2%,#440154 100%)"></i><i style="background:linear-gradient(90deg,#440256 0%,#440256 0.2%,#fde725 0.4%,#fbe723 0.6%,#f6e620 0.8%,#eae51a 1.2%,#d8e219 1.6%,#c0df25 2%,#a5db36 2.4%,#6ece58 3.2%,#40bd72 4%,#25ab82 4.8%,#1f998a 5.6%,#26828e 6.8%,#2d708e 8%,#365c8d 9.6%,#423f85 12.8%,#472d7b 16%,#482173 19.2%,#481a6c 22.4%,#481467 25.6%,#471063 28.8%,#470d60 32%,#460a5d 35.2%,#46085c 38.4%,#46075a 41.6%,#450559 44.8%,#450559 48%,#450457 51.2%,#450457 54.4%,#440256 57.6%,#440256 60.8%,#440256 64%,#440256 67.2%,#440154 70.4%,#440154 73.6%,#440154 76.8%,#440154 80%,#440154 83.2%,#440154 86.4%,#440154 89.6%,#440154 92.8%,#440154 96%,#440154 99.2%,#440154 100%)"></i><i style="background:linear-gradient(90deg,#440256 0%,#440256 0.2%,#fde725 0.4%,#fbe723 0.6%,#f6e620 0.8%,#eae51a 1.2%,#d5e21a 1.6%,#bddf26 2%,#a2da37 2.4%,#69cd5b 3.2%,#3dbc74 4%,#22a884 4.8%,#1f968b 5.6%,#27808e 6.8%,#2e6e8e 8%,#375a8c 9.6%,#433d84 12.8%,#472c7a 16%,#482071 19.2%,#48186a 22.4%,#471365 25.6%,#471063 28.8%,#470d60 32%,#460a5d 35.2%,#46085c 38.4%,#46075a 41.6%,#450559 44.8%,#450559 48%,#450457 51.2%,#450457 54.4%,#440256 57.6%,#440256 60.8%,#440256 64%,#440256 67.2%,#440154 70.4%,#440154 73.6%,#440154 76.8%,#440154 80%,#440154 83.2%,#440154 86.4%,#440154 89.6%,#440154 92.8%,#440154 96%,#440154 99.2%,#440154 100%)"></i><i style="background:linear-gradient(90deg,#440256 0%,#440256 0.2%,#fde725 0.4%,#fbe723 0.6%,#f6e620 0.8%,#e7e419 1.2%,#d2e21b 1.6%,#bade28 2%,#9dd93b 2.4%,#65cb5e 3.2%,#38b977 4%,#21a685 4.8%,#1f948c 5.6%,#287d8e 6.8%,#2f6b8e 8%,#38588c 9.6%,#443b84 12.8%,#472a7a 16%,#481f70 19.2%,#48186a 22.4%,#471365 25.6%,#470e61 28.8%,#460b5e 32%,#460a5d 35.2%,#46085c 38.4%,#46075a 41.6%,#450559 44.8%,#450457 48%,#450457 51.2%,#450457 54.4%,#440256 57.6%,#440256 60.8%,#440256 64%,#440256 67.2%,#440154 70.4%,#440154 73.6%,#440154 76.8%,#440154 80%,#440154 83.2%,#440154 86.4%,#440154 89.6%,#440154 92.8%,#440154 96%,#440154 99.2%,#440154 100%)"></i><i style="background:linear-gradient(90deg,#440256 0%,#440256 0.2%,#fde725 0.4%,#fbe723 0.6%,#f6e620 0.8%,#e7e419 1.2%,#d2e21b 1.6%,#b8de29 2%,#9bd93c 2.4%,#60ca60 3.2%,#35b779 4%,#20a386 4.8%,#20928c 5.6%,#297b8e 6.8%,#30698e 8%,#39558c 9.6%,#443983 12.8%,#482979 16%,#481d6f 19.2%,#481769 22.4%,#471164 25.6%,#470e61 28.8%,#460b5e 32%,#46085c 35.2%,#46075a 38.4%,#46075a 41.6%,#450559 44.8%,#450457 48%,#450457 51.2%,#450457 54.4%,#440256 57.6%,#440256 60.8%,#440256 64%,#440256 67.2%,#440154 70.4%,#440154 73.6%,#440154 76.8%,#440154 80%,#440154 83.2%,#440154 86.4%,#440154 89.6%,#440154 92.8%,#440154 96%,#440154 99.2%,#440154 100%)"></i><i style="background:linear-gradient(90deg,#440256 0%,#440256 0.2%,#fde725 0.4%,#fbe723 0.6%,#f6e620 0.8%,#e5e419 1.2%,#d0e11c 1.6%,#b5de2b 2%,#95d840 2.4%,#5cc863 3.2%,#31b57b 4%,#1fa188 4.8%,#218f8d 5.6%,#2a788e 6.8%,#31668e 8%,#3b528b 9.6%,#453882 12.8%,#482677 16%,#481c6e 19.2%,#481668 22.4%,#471164 25.6%,#470d60 28.8%,#460b5e 32%,#46085c 35.2%,#46075a 38.4%,#450559 41.6%,#450559 44.8%,#450457 48%,#450457 51.2%,#440256 54.4%,#440256 57.6%,#440256 60.8%,#440256 64%,#440154 67.2%,#440154 70.4%,#440154 73.6%,#440154 76.8%,#440154 80%,#440154 83.2%,#440154 86.4%,#440154 89.6%,#440154 92.8%,#440154 96%,#440154 99.2%,#440154 100%)"></i><i style="background:linear-gradient(90deg,#440256 0%,#440256 0.2%,#fde725 0.4%,#fbe723 0.6%,#f6e620 0.8%,#e5e419 1.2%,#cde11d 1.6%,#b0dd2f 2%,#93d741 2.4%,#58c765 3.2%,#2eb37c 4%,#1f9f88 4.8%,#228c8d 5.6%,#2b758e 6.8%,#32648e 8%,#3c508b 9.6%,#453581 12.8%,#482576 16%,#481c6e 19.2%,#481668 22.4%,#471063 25.6%,#470d60 28.8%,#460a5d 32%,#46085c 35.2%,#46075a 38.4%,#450559 41.6%,#450559 44.8%,#450457 48%,#450457 51.2%,#440256 54.4%,#440256 57.6%,#440256 60.8%,#440256 64%,#440154 67.2%,#440154 70.4%,#440154 73.6%,#440154 76.8%,#440154 80%,#440154 83.2%,#440154 86.4%,#440154 89.6%,#440154 92.8%,#440154 96%,#440154 99.2%,#440154 100%)"></i><i style="background:linear-gradient(90deg,#440256 0%,#440256 0.2%,#fde725 0.4%,#fbe723 0.6%,#f4e61e 0.8%,#e2e418 1.2%,#cae11f 1.6%,#addc30 2%,#8ed645 2.4%,#54c568 3.2%,#2ab07f 4%,#1e9c89 4.8%,#238a8d 5.6%,#2c738e 6.8%,#34618d 8%,#3d4e8a 9.6%,#463480 12.8%,#482475 16%,#481b6d 19.2%,#481467 22.4%,#471063 25.6%,#470d60 28.8%,#460a5d 32%,#46085c 35.2%,#46075a 38.4%,#450559 41.6%,#450457 44.8%,#450457 48%,#450457 51.2%,#440256 54.4%,#440256 57.6%,#440256 60.8%,#440256 64%,#440154 67.2%,#440154 70.4%,#440154 73.6%,#440154 76.8%,#440154 80%,#440154 83.2%,#440154 86.4%,#440154 89.6%,#440154 92.8%,#440154 96%,#440154 99.2%,#440154 100%)"></i><i style="background:linear-gradient(90deg,#440256 0%,#440256 0.2%,#fde725 0.4%,#fbe723 0.6%,#f4e61e 0.8%,#e2e418 1.2%,#c8e020 1.6%,#aadc32 2%,#89d548 2.4%,#4ec36b 3.2%,#27ad81 4%,#1f998a 4.8%,#24878e 5.6%,#2d718e 6.8%,#355f8d 8%,#3e4c8a 9.6%,#46327e 12.8%,#482374 16%,#481a6c 19.2%,#471365 22.4%,#470e61 25.6%,#460b5e 28.8%,#460a5d 32%,#46085c 35.2%,#46075a 38.4%,#450559 41.6%,#450457 44.8%,#450457 48%,#450457 51.2%,#440256 54.4%,#440256 57.6%,#440256 60.8%,#440256 64%,#440154 67.2%,#440154 70.4%,#440154 73.6%,#440154 76.8%,#440154 80%,#440154 83.2%,#440154 86.4%,#440154 89.6%,#440154 92.8%,#440154 96%,#440154 99.2%,#440154 100%)"></i><i style="background:linear-gradient(90deg,#440256 0%,#440256 0.2%,#fde725 0.4%,#fbe723 0.6%,#f4e61e 0.8%,#dfe318 1.2%,#c5e021 1.6%,#a8db34 2%,#86d549 2.4%,#4ac16d 3.2%,#25ac82 4%,#1f968b 4.8%,#25848e 5.6%,#2e6f8e 6.8%,#365d8d 8%,#3e4989 9.6%,#46307e 12.8%,#482173 16%,#48186a 19.2%,#471365 22.4%,#470e61 25.6%,#460b5e 28.8%,#46085c 32%,#46075a 35.2%,#450559 38.4%,#450559 41.6%,#450457 44.8%,#450457 48%,#440256 51.2%,#440256 54.4%,#440256 57.6%,#440256 60.8%,#440154 64%,#440154 67.2%,#440154 70.4%,#440154 73.6%,#440154 76.8%,#440154 80%,#440154 83.2%,#440154 86.4%,#440154 89.6%,#440154 92.8%,#440154 96%,#440154 99.2%,#440154 100%)"></i><i style="background:linear-gradient(90deg,#440256 0%,#440256 0.2%,#fde725 0.4%,#f8e621 0.6%,#f4e61e 0.8%,#dfe318 1.2%,#c5e021 1.6%,#a2da37 2%,#81d34d 2.4%,#46c06f 3.2%,#23a983 4%,#1f948c 4.8%,#26828e 5.6%,#2f6c8e 6.8%,#375a8c 8%,#3f4788 9.6%,#472f7d 12.8%,#482071 16%,#48186a 19.2%,#471164 22.4%,#470e61 25.6%,#460b5e 28.8%,#46085c 32%,#46075a 35.2%,#450559 38.4%,#450559 41.6%,#450457 44.8%,#450457 48%,#440256 51.2%,#440256 54.4%,#440256 57.6%,#440256 60.8%,#440154 64%,#440154 67.2%,#440154 70.4%,#440154 73.6%,#440154 76.8%,#440154 80%,#440154 83.2%,#440154 86.4%,#440154 89.6%,#440154 92.8%,#440154 96%,#440154 99.2%,#440154 100%)"></i><i style="background:linear-gradient(90deg,#440256 0%,#440256 0.2%,#fde725 0.4%,#f8e621 0.6%,#f1e51d 0.8%,#dde318 1.2%,#c2df23 1.6%,#a0da39 2%,#7cd250 2.4%,#42be71 3.2%,#22a785 4%,#20928c 4.8%,#27808e 5.6%,#306a8e 6.8%,#38588c 8%,#404588 9.6%,#472d7b 12.8%,#481f70 16%,#481769 19.2%,#471164 22.4%,#470d60 25.6%,#460a5d 28.8%,#46085c 32%,#46075a 35.2%,#450559 38.4%,#450457 41.6%,#450457 44.8%,#450457 48%,#440256 51.2%,#440256 54.4%,#440256 57.6%,#440256 60.8%,#440154 64%,#440154 67.2%,#440154 70.4%,#440154 73.6%,#440154 76.8%,#440154 80%,#440154 83.2%,#440154 86.4%,#440154 89.6%,#440154 92.8%,#440154 96%,#440154 99.2%,#440154 100%)"></i><i style="background:linear-gradient(90deg,#440256 0%,#440256 0.2%,#fde725 0.4%,#f8e621 0.6%,#f1e51d 0.8%,#dde318 1.2%,#c0df25 1.6%,#9dd93b 2%,#7ad151 2.4%,#3dbc74 3.2%,#20a486 4%,#218f8d 4.8%,#287d8e 5.6%,#31678e 6.8%,#39558c 8%,#414487 9.6%,#472c7a 12.8%,#481f70 16%,#481668 19.2%,#471063 22.4%,#470d60 25.6%,#460a5d 28.8%,#46085c 32%,#46075a 35.2%,#450559 38.4%,#450457 41.6%,#450457 44.8%,#440256 48%,#440256 51.2%,#440256 54.4%,#440256 57.6%,#440256 60.8%,#440154 64%,#440154 67.2%,#440154 70.4%,#440154 73.6%,#440154 76.8%,#440154 80%,#440154 83.2%,#440154 86.4%,#440154 89.6%,#440154 92.8%,#440154 96%,#440154 99.2%,#440154 100%)"></i><i style="background:linear-gradient(90deg,#440256 0%,#440256 0.2%,#fde725 0.4%,#f8e621 0.6%,#f1e51d 0.8%,#dae319 1.2%,#bddf26 1.6%,#98d83e 2%,#75d054 2.4%,#3aba76 3.2%,#1fa187 4%,#228c8d 4.8%,#297a8e 5.6%,#32658e 6.8%,#3a538b 8%,#424186 9.6%,#472a7a 12.8%,#481d6f 16%,#481668 19.2%,#471063 22.4%,#460b5e 25.6%,#460a5d 28.8%,#46075a 32%,#46075a 35.2%,#450559 38.4%,#450457 41.6%,#450457 44.8%,#440256 48%,#440256 51.2%,#440256 54.4%,#440256 57.6%,#440154 60.8%,#440154 64%,#440154 67.2%,#440154 70.4%,#440154 73.6%,#440154 76.8%,#440154 80%,#440154 83.2%,#440154 86.4%,#440154 89.6%,#440154 92.8%,#440154 96%,#440154 99.2%,#440154 100%)"></i><i style="background:linear-gradient(90deg,#440256 0%,#440256 0.2%,#fde725 0.4%,#f8e621 0.6%,#f1e51d 0.8%,#d8e219 1.2%,#b8de29 1.6%,#95d840 2%,#70cf57 2.4%,#35b779 3.2%,#1f9f88 4%,#23898e 4.8%,#2a778e 5.6%,#33628d 6.8%,#3b518b 8%,#423f85 9.6%,#482979 12.8%,#481c6e 16%,#481467 19.2%,#471063 22.4%,#460b5e 25.6%,#46085c 28.8%,#46075a 32%,#450559 35.2%,#450559 38.4%,#450457 41.6%,#450457 44.8%,#440256 48%,#440256 51.2%,#440256 54.4%,#440256 57.6%,#440154 60.8%,#440154 64%,#440154 67.2%,#440154 70.4%,#440154 73.6%,#440154 76.8%,#440154 80%,#440154 83.2%,#440154 86.4%,#440154 89.6%,#440154 92.8%,#440154 96%,#440154 99.2%,#440154 100%)"></i><i style="background:linear-gradient(90deg,#440256 0%,#440256 0.2%,#fde725 0.4%,#f8e621 0.6%,#efe51c 0.8%,#d8e219 1.2%,#b5de2b 1.6%,#90d743 2%,#6ccd5a 2.4%,#32b67a 3.2%,#1e9d89 4%,#24878e 4.8%,#2b758e 5.6%,#34608d 6.8%,#3c4f8a 8%,#433d84 9.6%,#482878 12.8%,#481b6d 16%,#481467 19.2%,#470e61 22.4%,#460b5e 25.6%,#46085c 28.8%,#46075a 32%,#450559 35.2%,#450559 38.4%,#450457 41.6%,#450457 44.8%,#440256 48%,#440256 51.2%,#440256 54.4%,#440256 57.6%,#440154 60.8%,#440154 64%,#440154 67.2%,#440154 70.4%,#440154 73.6%,#440154 76.8%,#440154 80%,#440154 83.2%,#440154 86.4%,#440154 89.6%,#440154 92.8%,#440154 96%,#440154 99.2%,#440154 100%)"></i><i style="background:linear-gradient(90deg,#440256 0%,#440256 0.2%,#fde725 0.4%,#f8e621 0.6%,#efe51c 0.8%,#d5e21a 1.2%,#b2dd2d 1.6%,#8bd646 2%,#67cc5c 2.4%,#2eb37c 3.2%,#1f9a8a 4%,#25848e 4.8%,#2c728e 5.6%,#365d8d 6.8%,#3d4d8a 8%,#443b84 9.6%,#482576 12.8%,#481a6c 16%,#471365 19.2%,#470e61 22.4%,#460a5d 25.6%,#46085c 28.8%,#46075a 32%,#450559 35.2%,#450457 38.4%,#450457 41.6%,#440256 44.8%,#440256 48%,#440256 51.2%,#440256 54.4%,#440256 57.6%,#440154 60.8%,#440154 64%,#440154 67.2%,#440154 70.4%,#440154 73.6%,#440154 76.8%,#440154 80%,#440154 83.2%,#440154 86.4%,#440154 89.6%,#440154 92.8%,#440154 96%,#440154 99.2%,#440154 100%)"></i><i style="background:linear-gradient(90deg,#440256 0%,#440256 0.2%,#fde725 0.4%,#f6e620 0.6%,#efe51c 0.8%,#d2e21b 1.2%,#b0dd2f 1.6%,#89d548 2%,#63cb5f 2.4%,#2cb17e 3.2%,#1f978b 4%,#26828e 4.8%,#2d718e 5.6%,#375b8d 6.8%,#3e4a89 8%,#443983 9.6%,#482475 12.8%,#481a6c 16%,#471164 19.2%,#470d60 22.4%,#460a5d 25.6%,#46085c 28.8%,#46075a 32%,#450559 35.2%,#450457 38.4%,#450457 41.6%,#440256 44.8%,#440256 48%,#440256 51.2%,#440256 54.4%,#440154 57.6%,#440154 60.8%,#440154 64%,#440154 67.2%,#440154 70.4%,#440154 73.6%,#440154 76.8%,#440154 80%,#440154 83.2%,#440154 86.4%,#440154 89.6%,#440154 92.8%,#440154 96%,#440154 99.2%,#440154 100%)"></i><i style="background:linear-gradient(90deg,#440256 0%,#440256 0.2%,#fde725 0.4%,#f6e620 0.6%,#ece51b 0.8%,#d2e21b 1.2%,#addc30 1.6%,#84d44b 2%,#5ec962 2.4%,#28ae80 3.2%,#1f948c 4%,#277f8e 4.8%,#2e6e8e 5.6%,#38598c 6.8%,#3f4889 8%,#453882 9.6%,#482374 12.8%,#48186a 16%,#471164 19.2%,#470d60 22.4%,#460a5d 25.6%,#46075a 28.8%,#450559 32%,#450559 35.2%,#450457 38.4%,#450457 41.6%,#440256 44.8%,#440256 48%,#440256 51.2%,#440256 54.4%,#440154 57.6%,#440154 60.8%,#440154 64%,#440154 67.2%,#440154 70.4%,#440154 73.6%,#440154 76.8%,#440154 80%,#440154 83.2%,#440154 86.4%,#440154 89.6%,#440154 92.8%,#440154 96%,#440154 99.2%,#440154 100%)"></i><i style="background:linear-gradient(90deg,#440256 0%,#440256 0.2%,#fde725 0.4%,#f6e620 0.6%,#ece51b 0.8%,#d0e11c 1.2%,#a8db34 1.6%,#7fd34e 2%,#58c765 2.4%,#25ac82 3.2%,#20928c 4%,#287d8e 4.8%,#2f6b8e 5.6%,#39568c 6.8%,#404688 8%,#453581 9.6%,#482173 12.8%,#481769 16%,#471063 19.2%,#470d60 22.4%,#460a5d 25.6%,#46075a 28.8%,#450559 32%,#450559 35.2%,#450457 38.4%,#450457 41.6%,#440256 44.8%,#440256 48%,#440256 51.2%,#440256 54.4%,#440154 57.6%,#440154 60.8%,#440154 64%,#440154 67.2%,#440154 70.4%,#440154 73.6%,#440154 76.8%,#440154 80%,#440154 83.2%,#440154 86.4%,#440154 89.6%,#440154 92.8%,#440154 96%,#440154 99.2%,#440154 100%)"></i><i style="background:linear-gradient(90deg,#440256 0%,#440256 0.2%,#fde725 0.4%,#f6e620 0.6%,#ece51b 0.8%,#cde11d 1.2%,#a5db36 1.6%,#7ad151 2%,#54c568 2.4%,#24aa83 3.2%,#21908d 4%,#297a8e 4.8%,#30698e 5.6%,#3a538b 6.8%,#414487 8%,#463480 9.6%,#482071 12.8%,#481769 16%,#471063 19.2%,#460b5e 22.4%,#46085c 25.6%,#46075a 28.8%,#450559 32%,#450457 35.2%,#450457 38.4%,#440256 41.6%,#440256 44.8%,#440256 48%,#440256 51.2%,#440154 54.4%,#440154 57.6%,#440154 60.8%,#440154 64%,#440154 67.2%,#440154 70.4%,#440154 73.6%,#440154 76.8%,#440154 80%,#440154 83.2%,#440154 86.4%,#440154 89.6%,#440154 92.8%,#440154 96%,#440154 99.2%,#440154 100%)"></i><i style="background:linear-gradient(90deg,#440256 0%,#440256 0.2%,#fde725 0.4%,#f6e620 0.6%,#eae51a 0.8%,#cae11f 1.2%,#a2da37 1.6%,#77d153 2%,#50c46a 2.4%,#22a785 3.2%,#228d8d 4%,#2a778e 4.8%,#31668e 5.6%,#3b518b 6.8%,#424186 8%,#46327e 9.6%,#481f70 12.8%,#481668 16%,#471063 19.2%,#460b5e 22.4%,#46085c 25.6%,#46075a 28.8%,#450559 32%,#450457 35.2%,#450457 38.4%,#440256 41.6%,#440256 44.8%,#440256 48%,#440256 51.2%,#440154 54.4%,#440154 57.6%,#440154 60.8%,#440154 64%,#440154 67.2%,#440154 70.4%,#440154 73.6%,#440154 76.8%,#440154 80%,#440154 83.2%,#440154 86.4%,#440154 89.6%,#440154 92.8%,#440154 96%,#440154 99.2%,#440154 100%)"></i><i style="background:linear-gradient(90deg,#440256 0%,#440256 0.2%,#fde725 0.4%,#f6e620 0.6%,#eae51a 0.8%,#c8e020 1.2%,#9dd93b 1.6%,#73d056 2%,#4cc26c 2.4%,#20a486 3.2%,#238a8d 4%,#2b758e 4.8%,#32648e 5.6%,#3c4f8a 6.8%,#423f85 8%,#46307e 9.6%,#481f70 12.8%,#481467 16%,#470e61 19.2%,#460b5e 22.4%,#46085c 25.6%,#46075a 28.8%,#450559 32%,#450457 35.2%,#450457 38.4%,#440256 41.6%,#440256 44.8%,#440256 48%,#440256 51.2%,#440154 54.4%,#440154 57.6%,#440154 60.8%,#440154 64%,#440154 67.2%,#440154 70.4%,#440154 73.6%,#440154 76.8%,#440154 80%,#440154 83.2%,#440154 86.4%,#440154 89.6%,#440154 92.8%,#440154 96%,#440154 99.2%,#440154 100%)"></i><i style="background:linear-gradient(90deg,#440256 0%,#440256 0.2%,#fde725 0.4%,#f4e61e 0.6%,#eae51a 0.8%,#c5e021 1.2%,#9bd93c 1.6%,#6ece58 2%,#46c06f 2.4%,#1fa287 3.2%,#24878e 4%,#2c728e 4.8%,#33628d 5.6%,#3d4d8a 6.8%,#433e85 8%,#472f7d 9.6%,#481d6f 12.8%,#481467 16%,#470e61 19.2%,#460a5d 22.4%,#46085c 25.6%,#450559 28.8%,#450559 32%,#450457 35.2%,#450457 38.4%,#440256 41.6%,#440256 44.8%,#440256 48%,#440256 51.2%,#440154 54.4%,#440154 57.6%,#440154 60.8%,#440154 64%,#440154 67.2%,#440154 70.4%,#440154 73.6%,#440154 76.8%,#440154 80%,#440154 83.2%,#440154 86.4%,#440154 89.6%,#440154 92.8%,#440154 96%,#440154 99.2%,#440154 100%)"></i><i style="background:linear-gradient(90deg,#440256 0%,#440256 0.2%,#fde725 0.4%,#f4e61e 0.6%,#e7e419 0.8%,#c2df23 1.2%,#95d840 1.6%,#69cd5b 2%,#42be71 2.4%,#1fa088 3.2%,#25858e 4%,#2d708e 4.8%,#355f8d 5.6%,#3e4a89 6.8%,#443b84 8%,#472d7b 9.6%,#481c6e 12.8%,#471365 16%,#470d60 19.2%,#460a5d 22.4%,#46075a 25.6%,#450559 28.8%,#450559 32%,#450457 35.2%,#450457 38.4%,#440256 41.6%,#440256 44.8%,#440256 48%,#440154 51.2%,#440154 54.4%,#440154 57.6%,#440154 60.8%,#440154 64%,#440154 67.2%,#440154 70.4%,#440154 73.6%,#440154 76.8%,#440154 80%,#440154 83.2%,#440154 86.4%,#440154 89.6%,#440154 92.8%,#440154 96%,#440154 99.2%,#440154 100%)"></i><i style="background:linear-gradient(90deg,#440256 0%,#440256 0.2%,#fbe723 0.4%,#f4e61e 0.6%,#e7e419 0.8%,#c2df23 1.2%,#93d741 1.6%,#65cb5e 2%,#3fbc73 2.4%,#1e9d89 3.2%,#26828e 4%,#2e6e8e 4.8%,#365d8d 5.6%,#3f4889 6.8%,#443983 8%,#472c7a 9.6%,#481b6d 12.8%,#471365 16%,#470d60 19.2%,#460a5d 22.4%,#46075a 25.6%,#450559 28.8%,#450457 32%,#450457 35.2%,#440256 38.4%,#440256 41.6%,#440256 44.8%,#440256 48%,#440154 51.2%,#440154 54.4%,#440154 57.6%,#440154 60.8%,#440154 64%,#440154 67.2%,#440154 70.4%,#440154 73.6%,#440154 76.8%,#440154 80%,#440154 83.2%,#440154 86.4%,#440154 89.6%,#440154 92.8%,#440154 96%,#440154 99.2%,#440154 100%)"></i><i style="background:linear-gradient(90deg,#440256 0%,#440256 0.2%,#fbe723 0.4%,#f4e61e 0.6%,#e5e419 0.8%,#c0df25 1.2%,#8ed645 1.6%,#60ca60 2%,#3aba76 2.4%,#1f9a8a 3.2%,#27808e 4%,#2f6b8e 4.8%,#375b8d 5.6%,#404688 6.8%,#453882 8%,#472a7a 9.6%,#481a6c 12.8%,#471164 16%,#470d60 19.2%,#46085c 22.4%,#46075a 25.6%,#450559 28.8%,#450457 32%,#450457 35.2%,#440256 38.4%,#440256 41.6%,#440256 44.8%,#440256 48%,#440154 51.2%,#440154 54.4%,#440154 57.6%,#440154 60.8%,#440154 64%,#440154 67.2%,#440154 70.4%,#440154 73.6%,#440154 76.8%,#440154 80%,#440154 83.2%,#440154 86.4%,#440154 89.6%,#440154 92.8%,#440154 96%,#440154 99.2%,#440154 100%)"></i><i style="background:linear-gradient(90deg,#440256 0%,#440256 0.2%,#fbe723 0.4%,#f1e51d 0.6%,#e5e419 0.8%,#bade28 1.2%,#8bd646 1.6%,#5cc863 2%,#37b878 2.4%,#1f988b 3.2%,#287d8e 4%,#30698e 4.8%,#38588c 5.6%,#404588 6.8%,#453581 8%,#482979 9.6%,#481a6c 12.8%,#471164 16%,#460b5e 19.2%,#46085c 22.4%,#46075a 25.6%,#450559 28.8%,#450457 32%,#450457 35.2%,#440256 38.4%,#440256 41.6%,#440256 44.8%,#440256 48%,#440154 51.2%,#440154 54.4%,#440154 57.6%,#440154 60.8%,#440154 64%,#440154 67.2%,#440154 70.4%,#440154 73.6%,#440154 76.8%,#440154 80%,#440154 83.2%,#440154 86.4%,#440154 89.6%,#440154 92.8%,#440154 96%,#440154 99.2%,#440154 100%)"></i><i style="background:linear-gradient(90deg,#440256 0%,#440256 0.2%,#fbe723 0.4%,#f1e51d 0.6%,#e2e418 0.8%,#b8de29 1.2%,#86d549 1.6%,#56c667 2%,#32b67a 2.4%,#1f958b 3.2%,#297b8e 4%,#31668e 4.8%,#39558c 5.6%,#414287 6.8%,#463480 8%,#482677 9.6%,#48186a 12.8%,#471063 16%,#460b5e 19.2%,#46085c 22.4%,#46075a 25.6%,#450559 28.8%,#450457 32%,#450457 35.2%,#440256 38.4%,#440256 41.6%,#440256 44.8%,#440154 48%,#440154 51.2%,#440154 54.4%,#440154 57.6%,#440154 60.8%,#440154 64%,#440154 67.2%,#440154 70.4%,#440154 73.6%,#440154 76.8%,#440154 80%,#440154 83.2%,#440154 86.4%,#440154 89.6%,#440154 92.8%,#440154 96%,#440154 99.2%,#440154 100%)"></i><i style="background:linear-gradient(90deg,#440256 0%,#440256 0.2%,#fbe723 0.4%,#f1e51d 0.6%,#e2e418 0.8%,#b5de2b 1.2%,#81d34d 1.6%,#52c569 2%,#2fb47c 2.4%,#20928c 3.2%,#2a788e 4%,#32648e 4.8%,#3a538b 5.6%,#424086 6.8%,#46327e 8%,#482576 9.6%,#481769 12.8%,#471063 16%,#460b5e 19.2%,#46085c 22.4%,#450559 25.6%,#450559 28.8%,#450457 32%,#440256 35.2%,#440256 38.4%,#440256 41.6%,#440256 44.8%,#440154 48%,#440154 51.2%,#440154 54.4%,#440154 57.6%,#440154 60.8%,#440154 64%,#440154 67.2%,#440154 70.4%,#440154 73.6%,#440154 76.8%,#440154 80%,#440154 83.2%,#440154 86.4%,#440154 89.6%,#440154 92.8%,#440154 96%,#440154 99.2%,#440154 100%)"></i><i style="background:linear-gradient(90deg,#440256 0%,#440256 0.2%,#fbe723 0.4%,#f1e51d 0.6%,#dfe318 0.8%,#b2dd2d 1.2%,#7cd250 1.6%,#4ec36b 2%,#2cb17e 2.4%,#21908d 3.2%,#2b758e 4%,#34618d 4.8%,#3b518b 5.6%,#433e85 6.8%,#46307e 8%,#482475 9.6%,#481769 12.8%,#470e61 16%,#460a5d 19.2%,#46075a 22.4%,#450559 25.6%,#450457 28.8%,#450457 32%,#440256 35.2%,#440256 38.4%,#440256 41.6%,#440256 44.8%,#440154 48%,#440154 51.2%,#440154 54.4%,#440154 57.6%,#440154 60.8%,#440154 64%,#440154 67.2%,#440154 70.4%,#440154 73.6%,#440154 76.8%,#440154 80%,#440154 83.2%,#440154 86.4%,#440154 89.6%,#440154 92.8%,#440154 96%,#440154 99.2%,#440154 100%)"></i><i style="background:linear-gradient(90deg,#440256 0%,#440256 0.2%,#fbe723 0.4%,#efe51c 0.6%,#dfe318 0.8%,#b0dd2f 1.2%,#7ad151 1.6%,#4ac16d 2%,#29af7f 2.4%,#228d8d 3.2%,#2c738e 4%,#355f8d 4.8%,#3c4f8a 5.6%,#433d84 6.8%,#472f7d 8%,#482374 9.6%,#481668 12.8%,#470e61 16%,#460a5d 19.2%,#46075a 22.4%,#450559 25.6%,#450457 28.8%,#450457 32%,#440256 35.2%,#440256 38.4%,#440256 41.6%,#440256 44.8%,#440154 48%,#440154 51.2%,#440154 54.4%,#440154 57.6%,#440154 60.8%,#440154 64%,#440154 67.2%,#440154 70.4%,#440154 73.6%,#440154 76.8%,#440154 80%,#440154 83.2%,#440154 86.4%,#440154 89.6%,#440154 92.8%,#440154 96%,#440154 99.2%,#440154 100%)"></i><i style="background:linear-gradient(90deg,#440256 0%,#440256 0.2%,#fbe723 0.4%,#efe51c 0.6%,#dde318 0.8%,#addc30 1.2%,#75d054 1.6%,#44bf70 2%,#26ad81 2.4%,#228b8d 3.2%,#2d718e 4%,#365d8d 4.8%,#3d4d8a 5.6%,#443a83 6.8%,#472d7b 8%,#482173 9.6%,#481467 12.8%,#470d60 16%,#460a5d 19.2%,#46075a 22.4%,#450559 25.6%,#450457 28.8%,#450457 32%,#440256 35.2%,#440256 38.4%,#440256 41.6%,#440154 44.8%,#440154 48%,#440154 51.2%,#440154 54.4%,#440154 57.6%,#440154 60.8%,#440154 64%,#440154 67.2%,#440154 70.4%,#440154 73.6%,#440154 76.8%,#440154 80%,#440154 83.2%,#440154 86.4%,#440154 89.6%,#440154 92.8%,#440154 96%,#440154 99.2%,#440154 100%)"></i><i style="background:linear-gradient(90deg,#440256 0%,#440256 0.2%,#fbe723 0.4%,#efe51c 0.6%,#dae319 0.8%,#a8db34 1.2%,#70cf57 1.6%,#40bd72 2%,#24aa83 2.4%,#23888e 3.2%,#2e6e8e 4%,#375a8c 4.8%,#3e4a89 5.6%,#453882 6.8%,#472c7a 8%,#482071 9.6%,#481467 12.8%,#470d60 16%,#46085c 19.2%,#46075a 22.4%,#450559 25.6%,#450457 28.8%,#450457 32%,#440256 35.2%,#440256 38.4%,#440256 41.6%,#440154 44.8%,#440154 48%,#440154 51.2%,#440154 54.4%,#440154 57.6%,#440154 60.8%,#440154 64%,#440154 67.2%,#440154 70.4%,#440154 73.6%,#440154 76.8%,#440154 80%,#440154 83.2%,#440154 86.4%,#440154 89.6%,#440154 92.8%,#440154 96%,#440154 99.2%,#440154 100%)"></i><i style="background:linear-gradient(90deg,#440256 0%,#440256 0.2%,#fbe723 0.4%,#ece51b 0.6%,#dae319 0.8%,#a5db36 1.2%,#6ccd5a 1.6%,#3bbb75 2%,#22a884 2.4%,#25858e 3.2%,#2f6c8e 4%,#38588c 4.8%,#3f4889 5.6%,#453781 6.8%,#472a7a 8%,#481f70 9.6%,#471365 12.8%,#470d60 16%,#46085c 19.2%,#46075a 22.4%,#450559 25.6%,#450457 28.8%,#440256 32%,#440256 35.2%,#440256 38.4%,#440256 41.6%,#440154 44.8%,#440154 48%,#440154 51.2%,#440154 54.4%,#440154 57.6%,#440154 60.8%,#440154 64%,#440154 67.2%,#440154 70.4%,#440154 73.6%,#440154 76.8%,#440154 80%,#440154 83.2%,#440154 86.4%,#440154 89.6%,#440154 92.8%,#440154 96%,#440154 99.2%,#440154 100%)"></i><i style="background:linear-gradient(90deg,#440256 0%,#440256 0.2%,#f8e621 0.4%,#ece51b 0.6%,#d8e219 0.8%,#a2da37 1.2%,#67cc5c 1.6%,#38b977 2%,#21a585 2.4%,#26828e 3.2%,#30698e 4%,#39558c 4.8%,#404688 5.6%,#463480 6.8%,#482979 8%,#481f70 9.6%,#471365 12.8%,#460b5e 16%,#46085c 19.2%,#450559 22.4%,#450457 25.6%,#450457 28.8%,#440256 32%,#440256 35.2%,#440256 38.4%,#440256 41.6%,#440154 44.8%,#440154 48%,#440154 51.2%,#440154 54.4%,#440154 57.6%,#440154 60.8%,#440154 64%,#440154 67.2%,#440154 70.4%,#440154 73.6%,#440154 76.8%,#440154 80%,#440154 83.2%,#440154 86.4%,#440154 89.6%,#440154 92.8%,#440154 96%,#440154 99.2%,#440154 100%)"></i><i style="background:linear-gradient(90deg,#440256 0%,#440256 0.2%,#f8e621 0.4%,#ece51b 0.6%,#d5e21a 0.8%,#9dd93b 1.2%,#63cb5f 1.6%,#35b779 2%,#1fa287 2.4%,#26818e 3.2%,#31678e 4%,#3a538b 4.8%,#414487 5.6%,#46337f 6.8%,#482878 8%,#481d6f 9.6%,#471164 12.8%,#460b5e 16%,#46085c 19.2%,#450559 22.4%,#450457 25.6%,#450457 28.8%,#440256 32%,#440256 35.2%,#440256 38.4%,#440154 41.6%,#440154 44.8%,#440154 48%,#440154 51.2%,#440154 54.4%,#440154 57.6%,#440154 60.8%,#440154 64%,#440154 67.2%,#440154 70.4%,#440154 73.6%,#440154 76.8%,#440154 80%,#440154 83.2%,#440154 86.4%,#440154 89.6%,#440154 92.8%,#440154 96%,#440154 99.2%,#440154 100%)"></i><i style="background:linear-gradient(90deg,#440256 0%,#440256 0.2%,#f8e621 0.4%,#eae51a 0.6%,#d5e21a 0.8%,#9bd93c 1.2%,#5ec962 1.6%,#31b57b 2%,#1fa088 2.4%,#277e8e 3.2%,#32648e 4%,#3b518b 4.8%,#424186 5.6%,#46327e 6.8%,#482677 8%,#481c6e 9.6%,#471164 12.8%,#460b5e 16%,#46075a 19.2%,#450559 22.4%,#450457 25.6%,#450457 28.8%,#440256 32%,#440256 35.2%,#440256 38.4%,#440154 41.6%,#440154 44.8%,#440154 48%,#440154 51.2%,#440154 54.4%,#440154 57.6%,#440154 60.8%,#440154 64%,#440154 67.2%,#440154 70.4%,#440154 73.6%,#440154 76.8%,#440154 80%,#440154 83.2%,#440154 86.4%,#440154 89.6%,#440154 92.8%,#440154 96%,#440154 99.2%,#440154 100%)"></i><i style="background:linear-gradient(90deg,#440256 0%,#440256 0.2%,#f8e621 0.4%,#eae51a 0.6%,#d2e21b 0.8%,#95d840 1.2%,#5ac864 1.6%,#2db27d 2%,#1f9e89 2.4%,#297b8e 3.2%,#33628d 4%,#3c4f8a 4.8%,#423f85 5.6%,#472f7d 6.8%,#482475 8%,#481b6d 9.6%,#471063 12.8%,#460a5d 16%,#46075a 19.2%,#450559 22.4%,#450457 25.6%,#450457 28.8%,#440256 32%,#440256 35.2%,#440256 38.4%,#440154 41.6%,#440154 44.8%,#440154 48%,#440154 51.2%,#440154 54.4%,#440154 57.6%,#440154 60.8%,#440154 64%,#440154 67.2%,#440154 70.4%,#440154 73.6%,#440154 76.8%,#440154 80%,#440154 83.2%,#440154 86.4%,#440154 89.6%,#440154 92.8%,#440154 96%,#440154 99.2%,#440154 100%)"></i><i style="background:linear-gradient(90deg,#440256 0%,#440256 0.2%,#f8e621 0.4%,#e7e419 0.6%,#d0e11c 0.8%,#93d741 1.2%,#54c568 1.6%,#2ab07f 2%,#1e9b8a 2.4%,#2a788e 3.2%,#34608d 4%,#3d4d8a 4.8%,#433e85 5.6%,#472e7c 6.8%,#482374 8%,#481a6c 9.6%,#471063 12.8%,#460a5d 16%,#46075a 19.2%,#450559 22.4%,#450457 25.6%,#440256 28.8%,#440256 32%,#440256 35.2%,#440256 38.4%,#440154 41.6%,#440154 44.8%,#440154 48%,#440154 51.2%,#440154 54.4%,#440154 57.6%,#440154 60.8%,#440154 64%,#440154 67.2%,#440154 70.4%,#440154 73.6%,#440154 76.8%,#440154 80%,#440154 83.2%,#440154 86.4%,#440154 89.6%,#440154 92.8%,#440154 96%,#440154 99.2%,#440154 100%)"></i><i style="background:linear-gradient(90deg,#440256 0%,#440256 0.2%,#f8e621 0.4%,#e7e419 0.6%,#cde11d 0.8%,#8ed645 1.2%,#50c46a 1.6%,#27ad81 2%,#1f988b 2.4%,#2a768e 3.2%,#365d8d 4%,#3e4a89 4.8%,#443b84 5.6%,#472d7b 6.8%,#482173 8%,#481a6c 9.6%,#470e61 12.8%,#460a5d 16%,#46075a 19.2%,#450559 22.4%,#450457 25.6%,#440256 28.8%,#440256 32%,#440256 35.2%,#440154 38.4%,#440154 41.6%,#440154 44.8%,#440154 48%,#440154 51.2%,#440154 54.4%,#440154 57.6%,#440154 60.8%,#440154 64%,#440154 67.2%,#440154 70.4%,#440154 73.6%,#440154 76.8%,#440154 80%,#440154 83.2%,#440154 86.4%,#440154 89.6%,#440154 92.8%,#440154 96%,#440154 99.2%,#440154 100%)"></i><i style="background:linear-gradient(90deg,#440256 0%,#440256 0.2%,#f8e621 0.4%,#e7e419 0.6%,#cde11d 0.8%,#89d548 1.2%,#4cc26c 1.6%,#25ac82 2%,#1f958b 2.4%,#2c738e 3.2%,#375b8d 4%,#3f4889 4.8%,#443a83 5.6%,#472a7a 6.8%,#482173 8%,#48186a 9.6%,#470e61 12.8%,#460a5d 16%,#46075a 19.2%,#450559 22.4%,#450457 25.6%,#440256 28.8%,#440256 32%,#440256 35.2%,#440154 38.4%,#440154 41.6%,#440154 44.8%,#440154 48%,#440154 51.2%,#440154 54.4%,#440154 57.6%,#440154 60.8%,#440154 64%,#440154 67.2%,#440154 70.4%,#440154 73.6%,#440154 76.8%,#440154 80%,#440154 83.2%,#440154 86.4%,#440154 89.6%,#440154 92.8%,#440154 96%,#440154 99.2%,#440154 100%)"></i><i style="background:linear-gradient(90deg,#440256 0%,#440256 0.2%,#f6e620 0.4%,#e5e419 0.6%,#cae11f 0.8%,#86d549 1.2%,#46c06f 1.6%,#23a983 2%,#20938c 2.4%,#2d718e 3.2%,#38598c 4%,#404688 4.8%,#453882 5.6%,#482979 6.8%,#482071 8%,#481769 9.6%,#470e61 12.8%,#46085c 16%,#450559 19.2%,#450457 22.4%,#450457 25.6%,#440256 28.8%,#440256 32%,#440256 35.2%,#440154 38.4%,#440154 41.6%,#440154 44.8%,#440154 48%,#440154 51.2%,#440154 54.4%,#440154 57.6%,#440154 60.8%,#440154 64%,#440154 67.2%,#440154 70.4%,#440154 73.6%,#440154 76.8%,#440154 80%,#440154 83.2%,#440154 86.4%,#440154 89.6%,#440154 92.8%,#440154 96%,#440154 99.2%,#440154 100%)"></i><i style="background:linear-gradient(90deg,#440256 0%,#440256 0.2%,#f6e620 0.4%,#e5e419 0.6%,#c8e020 0.8%,#81d34d 1.2%,#42be71 1.6%,#21a685 2%,#21918c 2.4%,#2e6f8e 3.2%,#39568c 4%,#414487 4.8%,#453581 5.6%,#482878 6.8%,#481f70 8%,#481769 9.6%,#470d60 12.8%,#46085c 16%,#450559 19.2%,#450457 22.4%,#450457 25.6%,#440256 28.8%,#440256 32%,#440256 35.2%,#440154 38.4%,#440154 41.6%,#440154 44.8%,#440154 48%,#440154 51.2%,#440154 54.4%,#440154 57.6%,#440154 60.8%,#440154 64%,#440154 67.2%,#440154 70.4%,#440154 73.6%,#440154 76.8%,#440154 80%,#440154 83.2%,#440154 86.4%,#440154 89.6%,#440154 92.8%,#440154 96%,#440154 99.2%,#440154 100%)"></i><i style="background:linear-gradient(90deg,#440256 0%,#440256 0.2%,#f6e620 0.4%,#e2e418 0.6%,#c5e021 0.8%,#7cd250 1.2%,#3fbc73 1.6%,#20a486 2%,#218e8d 2.4%,#2f6c8e 3.2%,#3a538b 4%,#424186 4.8%,#463480 5.6%,#482677 6.8%,#481d6f 8%,#481668 9.6%,#470d60 12.8%,#46085c 16%,#450559 19.2%,#450457 22.4%,#440256 25.6%,#440256 28.8%,#440256 32%,#440154 35.2%,#440154 38.4%,#440154 41.6%,#440154 44.8%,#440154 48%,#440154 51.2%,#440154 54.4%,#440154 57.6%,#440154 60.8%,#440154 64%,#440154 67.2%,#440154 70.4%,#440154 73.6%,#440154 76.8%,#440154 80%,#440154 83.2%,#440154 86.4%,#440154 89.6%,#440154 92.8%,#440154 96%,#440154 99.2%,#440154 100%)"></i><i style="background:linear-gradient(90deg,#440256 0%,#440256 0.2%,#f6e620 0.4%,#dfe318 0.6%,#c2df23 0.8%,#77d153 1.2%,#3aba76 1.6%,#1fa187 2%,#228b8d 2.4%,#306a8e 3.2%,#3b518b 4%,#423f85 4.8%,#46337f 5.6%,#482576 6.8%,#481c6e 8%,#481467 9.6%,#460b5e 12.8%,#46085c 16%,#450559 19.2%,#450457 22.4%,#440256 25.6%,#440256 28.8%,#440256 32%,#440154 35.2%,#440154 38.4%,#440154 41.6%,#440154 44.8%,#440154 48%,#440154 51.2%,#440154 54.4%,#440154 57.6%,#440154 60.8%,#440154 64%,#440154 67.2%,#440154 70.4%,#440154 73.6%,#440154 76.8%,#440154 80%,#440154 83.2%,#440154 86.4%,#440154 89.6%,#440154 92.8%,#440154 96%,#440154 99.2%,#440154 100%)"></i><i style="background:linear-gradient(90deg,#440256 0%,#440256 0.2%,#f6e620 0.4%,#dfe318 0.6%,#c0df25 0.8%,#73d056 1.2%,#37b878 1.6%,#1f9f88 2%,#23888e 2.4%,#31678e 3.2%,#3c4f8a 4%,#433e85 4.8%,#46307e 5.6%,#482475 6.8%,#481b6d 8%,#481467 9.6%,#460b5e 12.8%,#46075a 16%,#450559 19.2%,#450457 22.4%,#440256 25.6%,#440256 28.8%,#440256 32%,#440154 35.2%,#440154 38.4%,#440154 41.6%,#440154 44.8%,#440154 48%,#440154 51.2%,#440154 54.4%,#440154 57.6%,#440154 60.8%,#440154 64%,#440154 67.2%,#440154 70.4%,#440154 73.6%,#440154 76.8%,#440154 80%,#440154 83.2%,#440154 86.4%,#440154 89.6%,#440154 92.8%,#440154 96%,#440154 99.2%,#440154 100%)"></i><i style="background:linear-gradient(90deg,#440256 0%,#440256 0.2%,#f4e61e 0.4%,#dde318 0.6%,#bddf26 0.8%,#70cf57 1.2%,#32b67a 1.6%,#1e9c89 2%,#24868e 2.4%,#32658e 3.2%,#3d4d8a 4%,#443b84 4.8%,#472f7d 5.6%,#482374 6.8%,#481a6c 8%,#471365 9.6%,#460b5e 12.8%,#46075a 16%,#450559 19.2%,#450457 22.4%,#440256 25.6%,#440256 28.8%,#440256 32%,#440154 35.2%,#440154 38.4%,#440154 41.6%,#440154 44.8%,#440154 48%,#440154 51.2%,#440154 54.4%,#440154 57.6%,#440154 60.8%,#440154 64%,#440154 67.2%,#440154 70.4%,#440154 73.6%,#440154 76.8%,#440154 80%,#440154 83.2%,#440154 86.4%,#440154 89.6%,#440154 92.8%,#440154 96%,#440154 99.2%,#440154 100%)"></i><i style="background:linear-gradient(90deg,#440256 0%,#440256 0.2%,#f4e61e 0.4%,#dde318 0.6%,#bade28 0.8%,#6ccd5a 1.2%,#2fb47c 1.6%,#1f9a8a 2%,#25838e 2.4%,#33628d 3.2%,#3e4a89 4%,#443983 4.8%,#472d7b 5.6%,#482173 6.8%,#481a6c 8%,#471365 9.6%,#460a5d 12.8%,#46075a 16%,#450559 19.2%,#450457 22.4%,#440256 25.6%,#440256 28.8%,#440256 32%,#440154 35.2%,#440154 38.4%,#440154 41.6%,#440154 44.8%,#440154 48%,#440154 51.2%,#440154 54.4%,#440154 57.6%,#440154 60.8%,#440154 64%,#440154 67.2%,#440154 70.4%,#440154 73.6%,#440154 76.8%,#440154 80%,#440154 83.2%,#440154 86.4%,#440154 89.6%,#440154 92.8%,#440154 96%,#440154 99.2%,#440154 100%)"></i><i style="background:linear-gradient(90deg,#440256 0%,#440256 0.2%,#f4e61e 0.4%,#dae319 0.6%,#b8de29 0.8%,#67cc5c 1.2%,#2cb17e 1.6%,#1f978b 2%,#26818e 2.4%,#34608d 3.2%,#3f4889 4%,#453882 4.8%,#472c7a 5.6%,#482071 6.8%,#48186a 8%,#471164 9.6%,#460a5d 12.8%,#46075a 16%,#450457 19.2%,#450457 22.4%,#440256 25.6%,#440256 28.8%,#440154 32%,#440154 35.2%,#440154 38.4%,#440154 41.6%,#440154 44.8%,#440154 48%,#440154 51.2%,#440154 54.4%,#440154 57.6%,#440154 60.8%,#440154 64%,#440154 67.2%,#440154 70.4%,#440154 73.6%,#440154 76.8%,#440154 80%,#440154 83.2%,#440154 86.4%,#440154 89.6%,#440154 92.8%,#440154 96%,#440154 99.2%,#440154 100%)"></i><i style="background:linear-gradient(90deg,#440256 0%,#440256 0.2%,#f4e61e 0.4%,#d8e219 0.6%,#b2dd2d 0.8%,#60ca60 1.2%,#29af7f 1.6%,#1f948c 2%,#277e8e 2.4%,#355e8d 3.2%,#404688 4%,#453581 4.8%,#472a7a 5.6%,#481f70 6.8%,#481769 8%,#471164 9.6%,#460a5d 12.8%,#46075a 16%,#450457 19.2%,#450457 22.4%,#440256 25.6%,#440256 28.8%,#440154 32%,#440154 35.2%,#440154 38.4%,#440154 41.6%,#440154 44.8%,#440154 48%,#440154 51.2%,#440154 54.4%,#440154 57.6%,#440154 60.8%,#440154 64%,#440154 67.2%,#440154 70.4%,#440154 73.6%,#440154 76.8%,#440154 80%,#440154 83.2%,#440154 86.4%,#440154 89.6%,#440154 92.8%,#440154 96%,#440154 99.2%,#440154 100%)"></i><i style="background:linear-gradient(90deg,#440256 0%,#440256 0.2%,#f1e51d 0.4%,#d8e219 0.6%,#b0dd2f 0.8%,#5cc863 1.2%,#26ad81 1.6%,#20928c 2%,#287c8e 2.4%,#375b8d 3.2%,#414487 4%,#463480 4.8%,#482979 5.6%,#481d6f 6.8%,#481769 8%,#471063 9.6%,#460a5d 12.8%,#450559 16%,#450457 19.2%,#440256 22.4%,#440256 25.6%,#440256 28.8%,#440154 32%,#440154 35.2%,#440154 38.4%,#440154 41.6%,#440154 44.8%,#440154 48%,#440154 51.2%,#440154 54.4%,#440154 57.6%,#440154 60.8%,#440154 64%,#440154 67.2%,#440154 70.4%,#440154 73.6%,#440154 76.8%,#440154 80%,#440154 83.2%,#440154 86.4%,#440154 89.6%,#440154 92.8%,#440154 96%,#440154 99.2%,#440154 100%)"></i><i style="background:linear-gradient(90deg,#440256 0%,#440256 0.2%,#f1e51d 0.4%,#d5e21a 0.6%,#addc30 0.8%,#58c765 1.2%,#24aa83 1.6%,#218f8d 2%,#29798e 2.4%,#38598c 3.2%,#414287 4%,#46327e 4.8%,#482878 5.6%,#481c6e 6.8%,#481668 8%,#471063 9.6%,#46085c 12.8%,#450559 16%,#450457 19.2%,#440256 22.4%,#440256 25.6%,#440256 28.8%,#440154 32%,#440154 35.2%,#440154 38.4%,#440154 41.6%,#440154 44.8%,#440154 48%,#440154 51.2%,#440154 54.4%,#440154 57.6%,#440154 60.8%,#440154 64%,#440154 67.2%,#440154 70.4%,#440154 73.6%,#440154 76.8%,#440154 80%,#440154 83.2%,#440154 86.4%,#440154 89.6%,#440154 92.8%,#440154 96%,#440154 99.2%,#440154 100%)"></i><i style="background:linear-gradient(90deg,#440256 0%,#440256 0.2%,#f1e51d 0.4%,#d2e21b 0.6%,#aadc32 0.8%,#54c568 1.2%,#22a884 1.6%,#228d8d 2%,#2a768e 2.4%,#39568c 3.2%,#424086 4%,#46307e 4.8%,#482677 5.6%,#481b6d 6.8%,#481467 8%,#470e61 9.6%,#46085c 12.8%,#450559 16%,#450457 19.2%,#440256 22.4%,#440256 25.6%,#440256 28.8%,#440154 32%,#440154 35.2%,#440154 38.4%,#440154 41.6%,#440154 44.8%,#440154 48%,#440154 51.2%,#440154 54.4%,#440154 57.6%,#440154 60.8%,#440154 64%,#440154 67.2%,#440154 70.4%,#440154 73.6%,#440154 76.8%,#440154 80%,#440154 83.2%,#440154 86.4%,#440154 89.6%,#440154 92.8%,#440154 96%,#440154 99.2%,#440154 100%)"></i><i style="background:linear-gradient(90deg,#440256 0%,#440256 0.2%,#f1e51d 0.4%,#d2e21b 0.6%,#a5db36 0.8%,#50c46a 1.2%,#21a585 1.6%,#238a8d 2%,#2b748e 2.4%,#3a548c 3.2%,#433e85 4%,#472f7d 4.8%,#482576 5.6%,#481b6d 6.8%,#481467 8%,#470e61 9.6%,#46085c 12.8%,#450559 16%,#450457 19.2%,#440256 22.4%,#440256 25.6%,#440154 28.8%,#440154 32%,#440154 35.2%,#440154 38.4%,#440154 41.6%,#440154 44.8%,#440154 48%,#440154 51.2%,#440154 54.4%,#440154 57.6%,#440154 60.8%,#440154 64%,#440154 67.2%,#440154 70.4%,#440154 73.6%,#440154 76.8%,#440154 80%,#440154 83.2%,#440154 86.4%,#440154 89.6%,#440154 92.8%,#440154 96%,#440154 99.2%,#440154 100%)"></i><i style="background:linear-gradient(90deg,#440256 0%,#440256 0.2%,#efe51c 0.4%,#d0e11c 0.6%,#a2da37 0.8%,#4ac16d 1.2%,#1fa287 1.6%,#24878e 2%,#2c718e 2.4%,#3b528b 3.2%,#443b84 4%,#472d7b 4.8%,#482374 5.6%,#481a6c 6.8%,#471365 8%,#470d60 9.6%,#46085c 12.8%,#450559 16%,#450457 19.2%,#440256 22.4%,#440256 25.6%,#440154 28.8%,#440154 32%,#440154 35.2%,#440154 38.4%,#440154 41.6%,#440154 44.8%,#440154 48%,#440154 51.2%,#440154 54.4%,#440154 57.6%,#440154 60.8%,#440154 64%,#440154 67.2%,#440154 70.4%,#440154 73.6%,#440154 76.8%,#440154 80%,#440154 83.2%,#440154 86.4%,#440154 89.6%,#440154 92.8%,#440154 96%,#440154 99.2%,#440154 100%)"></i><i style="background:linear-gradient(90deg,#440256 0%,#440256 0.2%,#efe51c 0.4%,#cde11d 0.6%,#a0da39 0.8%,#46c06f 1.2%,#1fa088 1.6%,#25848e 2%,#2e6f8e 2.4%,#3c4f8a 3.2%,#443a83 4%,#472c7a 4.8%,#482173 5.6%,#48186a 6.8%,#471365 8%,#470d60 9.6%,#46075a 12.8%,#450559 16%,#450457 19.2%,#440256 22.4%,#440256 25.6%,#440154 28.8%,#440154 32%,#440154 35.2%,#440154 38.4%,#440154 41.6%,#440154 44.8%,#440154 48%,#440154 51.2%,#440154 54.4%,#440154 57.6%,#440154 60.8%,#440154 64%,#440154 67.2%,#440154 70.4%,#440154 73.6%,#440154 76.8%,#440154 80%,#440154 83.2%,#440154 86.4%,#440154 89.6%,#440154 92.8%,#440154 96%,#440154 99.2%,#440154 100%)"></i><i style="background:linear-gradient(90deg,#440256 0%,#440256 0.2%,#efe51c 0.4%,#cae11f 0.6%,#9bd93c 0.8%,#42be71 1.2%,#1f9e89 1.6%,#26828e 2%,#2e6d8e 2.4%,#3d4d8a 3.2%,#453882 4%,#472a7a 4.8%,#482173 5.6%,#48186a 6.8%,#471164 8%,#470d60 9.6%,#46075a 12.8%,#450457 16%,#450457 19.2%,#440256 22.4%,#440256 25.6%,#440154 28.8%,#440154 32%,#440154 35.2%,#440154 38.4%,#440154 41.6%,#440154 44.8%,#440154 48%,#440154 51.2%,#440154 54.4%,#440154 57.6%,#440154 60.8%,#440154 64%,#440154 67.2%,#440154 70.4%,#440154 73.6%,#440154 76.8%,#440154 80%,#440154 83.2%,#440154 86.4%,#440154 89.6%,#440154 92.8%,#440154 96%,#440154 99.2%,#440154 100%)"></i><i style="background:linear-gradient(90deg,#440256 0%,#440256 0.2%,#ece51b 0.4%,#c8e020 0.6%,#98d83e 0.8%,#3dbc74 1.2%,#1e9b8a 1.6%,#27808e 2%,#306a8e 2.4%,#3e4a89 3.2%,#453781 4%,#482979 4.8%,#482071 5.6%,#481769 6.8%,#471164 8%,#460b5e 9.6%,#46075a 12.8%,#450457 16%,#440256 19.2%,#440256 22.4%,#440256 25.6%,#440154 28.8%,#440154 32%,#440154 35.2%,#440154 38.4%,#440154 41.6%,#440154 44.8%,#440154 48%,#440154 51.2%,#440154 54.4%,#440154 57.6%,#440154 60.8%,#440154 64%,#440154 67.2%,#440154 70.4%,#440154 73.6%,#440154 76.8%,#440154 80%,#440154 83.2%,#440154 86.4%,#440154 89.6%,#440154 92.8%,#440154 96%,#440154 99.2%,#440154 100%)"></i><i style="background:linear-gradient(90deg,#440256 0%,#440256 0.2%,#ece51b 0.4%,#c5e021 0.6%,#93d741 0.8%,#3aba76 1.2%,#1f988b 1.6%,#287d8e 2%,#31688e 2.4%,#3f4889 3.2%,#463480 4%,#482878 4.8%,#481f70 5.6%,#481668 6.8%,#471063 8%,#460b5e 9.6%,#46075a 12.8%,#450457 16%,#440256 19.2%,#440256 22.4%,#440256 25.6%,#440154 28.8%,#440154 32%,#440154 35.2%,#440154 38.4%,#440154 41.6%,#440154 44.8%,#440154 48%,#440154 51.2%,#440154 54.4%,#440154 57.6%,#440154 60.8%,#440154 64%,#440154 67.2%,#440154 70.4%,#440154 73.6%,#440154 76.8%,#440154 80%,#440154 83.2%,#440154 86.4%,#440154 89.6%,#440154 92.8%,#440154 96%,#440154 99.2%,#440154 100%)"></i><i style="background:linear-gradient(90deg,#440256 0%,#440256 0.2%,#ece51b 0.4%,#c2df23 0.6%,#90d743 0.8%,#35b779 1.2%,#1f958b 1.6%,#297a8e 2%,#32658e 2.4%,#3f4788 3.2%,#46337f 4%,#482677 4.8%,#481d6f 5.6%,#481668 6.8%,#471063 8%,#460b5e 9.6%,#46075a 12.8%,#450457 16%,#440256 19.2%,#440256 22.4%,#440154 25.6%,#440154 28.8%,#440154 32%,#440154 35.2%,#440154 38.4%,#440154 41.6%,#440154 44.8%,#440154 48%,#440154 51.2%,#440154 54.4%,#440154 57.6%,#440154 60.8%,#440154 64%,#440154 67.2%,#440154 70.4%,#440154 73.6%,#440154 76.8%,#440154 80%,#440154 83.2%,#440154 86.4%,#440154 89.6%,#440154 92.8%,#440154 96%,#440154 99.2%,#440154 100%)"></i><i style="background:linear-gradient(90deg,#440256 0%,#440256 0.2%,#eae51a 0.4%,#c0df25 0.6%,#8bd646 0.8%,#32b67a 1.2%,#20938c 1.6%,#2a788e 2%,#33638d 2.4%,#404588 3.2%,#46307e 4%,#482475 4.8%,#481c6e 5.6%,#481467 6.8%,#470e61 8%,#460a5d 9.6%,#450559 12.8%,#450457 16%,#440256 19.2%,#440256 22.4%,#440154 25.6%,#440154 28.8%,#440154 32%,#440154 35.2%,#440154 38.4%,#440154 41.6%,#440154 44.8%,#440154 48%,#440154 51.2%,#440154 54.4%,#440154 57.6%,#440154 60.8%,#440154 64%,#440154 67.2%,#440154 70.4%,#440154 73.6%,#440154 76.8%,#440154 80%,#440154 83.2%,#440154 86.4%,#440154 89.6%,#440154 92.8%,#440154 96%,#440154 99.2%,#440154 100%)"></i><i style="background:linear-gradient(90deg,#440256 0%,#440256 0.2%,#eae51a 0.4%,#bddf26 0.6%,#86d549 0.8%,#2eb37c 1.2%,#21918c 1.6%,#2b758e 2%,#34608d 2.4%,#414287 3.2%,#472f7d 4%,#482374 4.8%,#481b6d 5.6%,#471365 6.8%,#470e61 8%,#460a5d 9.6%,#450559 12.8%,#450457 16%,#440256 19.2%,#440256 22.4%,#440154 25.6%,#440154 28.8%,#440154 32%,#440154 35.2%,#440154 38.4%,#440154 41.6%,#440154 44.8%,#440154 48%,#440154 51.2%,#440154 54.4%,#440154 57.6%,#440154 60.8%,#440154 64%,#440154 67.2%,#440154 70.4%,#440154 73.6%,#440154 76.8%,#440154 80%,#440154 83.2%,#440154 86.4%,#440154 89.6%,#440154 92.8%,#440154 96%,#440154 99.2%,#440154 100%)"></i><i style="background:linear-gradient(90deg,#440256 0%,#440256 0.2%,#e7e419 0.4%,#bade28 0.6%,#84d44b 0.8%,#2cb17e 1.2%,#218e8d 1.6%,#2c728e 2%,#355e8d 2.4%,#424086 3.2%,#472e7c 4%,#482173 4.8%,#481a6c 5.6%,#471365 6.8%,#470e61 8%,#460a5d 9.6%,#450559 12.8%,#450457 16%,#440256 19.2%,#440256 22.4%,#440154 25.6%,#440154 28.8%,#440154 32%,#440154 35.2%,#440154 38.4%,#440154 41.6%,#440154 44.8%,#440154 48%,#440154 51.2%,#440154 54.4%,#440154 57.6%,#440154 60.8%,#440154 64%,#440154 67.2%,#440154 70.4%,#440154 73.6%,#440154 76.8%,#440154 80%,#440154 83.2%,#440154 86.4%,#440154 89.6%,#440154 92.8%,#440154 96%,#440154 99.2%,#440154 100%)"></i><i style="background:linear-gradient(90deg,#440256 0%,#440256 0.2%,#e7e419 0.4%,#b8de29 0.6%,#7fd34e 0.8%,#28ae80 1.2%,#228b8d 1.6%,#2d718e 2%,#365c8d 2.4%,#433e85 3.2%,#472c7a 4%,#482071 4.8%,#481a6c 5.6%,#471164 6.8%,#470d60 8%,#460a5d 9.6%,#450559 12.8%,#450457 16%,#440256 19.2%,#440256 22.4%,#440154 25.6%,#440154 28.8%,#440154 32%,#440154 35.2%,#440154 38.4%,#440154 41.6%,#440154 44.8%,#440154 48%,#440154 51.2%,#440154 54.4%,#440154 57.6%,#440154 60.8%,#440154 64%,#440154 67.2%,#440154 70.4%,#440154 73.6%,#440154 76.8%,#440154 80%,#440154 83.2%,#440154 86.4%,#440154 89.6%,#440154 92.8%,#440154 96%,#440154 99.2%,#440154 100%)"></i><i style="background:linear-gradient(90deg,#440256 0%,#440256 0.2%,#e5e419 0.4%,#b5de2b 0.6%,#7ad151 0.8%,#25ac82 1.2%,#23888e 1.6%,#2e6e8e 2%,#375a8c 2.4%,#433d84 3.2%,#472a7a 4%,#482071 4.8%,#48186a 5.6%,#471164 6.8%,#470d60 8%,#46085c 9.6%,#450559 12.8%,#450457 16%,#440256 19.2%,#440256 22.4%,#440154 25.6%,#440154 28.8%,#440154 32%,#440154 35.2%,#440154 38.4%,#440154 41.6%,#440154 44.8%,#440154 48%,#440154 51.2%,#440154 54.4%,#440154 57.6%,#440154 60.8%,#440154 64%,#440154 67.2%,#440154 70.4%,#440154 73.6%,#440154 76.8%,#440154 80%,#440154 83.2%,#440154 86.4%,#440154 89.6%,#440154 92.8%,#440154 96%,#440154 99.2%,#440154 100%)"></i><i style="background:linear-gradient(90deg,#440256 0%,#fde725 0.2%,#e5e419 0.4%,#b2dd2d 0.6%,#75d054 0.8%,#24aa83 1.2%,#24868e 1.6%,#2f6b8e 2%,#39568c 2.4%,#443a83 3.2%,#482979 4%,#481f70 4.8%,#481769 5.6%,#471063 6.8%,#460b5e 8%,#46085c 9.6%,#450559 12.8%,#440256 16%,#440256 19.2%,#440154 22.4%,#440154 25.6%,#440154 28.8%,#440154 32%,#440154 35.2%,#440154 38.4%,#440154 41.6%,#440154 44.8%,#440154 48%,#440154 51.2%,#440154 54.4%,#440154 57.6%,#440154 60.8%,#440154 64%,#440154 67.2%,#440154 70.4%,#440154 73.6%,#440154 76.8%,#440154 80%,#440154 83.2%,#440154 86.4%,#440154 89.6%,#440154 92.8%,#440154 96%,#440154 99.2%,#440154 100%)"></i><i style="background:linear-gradient(90deg,#440256 0%,#fde725 0.2%,#e2e418 0.4%,#addc30 0.6%,#70cf57 0.8%,#22a785 1.2%,#25838e 1.6%,#30698e 2%,#3a548c 2.4%,#453882 3.2%,#482878 4%,#481d6f 4.8%,#481769 5.6%,#471063 6.8%,#460b5e 8%,#46085c 9.6%,#450457 12.8%,#440256 16%,#440256 19.2%,#440154 22.4%,#440154 25.6%,#440154 28.8%,#440154 32%,#440154 35.2%,#440154 38.4%,#440154 41.6%,#440154 44.8%,#440154 48%,#440154 51.2%,#440154 54.4%,#440154 57.6%,#440154 60.8%,#440154 64%,#440154 67.2%,#440154 70.4%,#440154 73.6%,#440154 76.8%,#440154 80%,#440154 83.2%,#440154 86.4%,#440154 89.6%,#440154 92.8%,#440154 96%,#440154 99.2%,#440154 100%)"></i><i style="background:linear-gradient(90deg,#440256 0%,#fde725 0.2%,#e2e418 0.4%,#aadc32 0.6%,#6ccd5a 0.8%,#20a486 1.2%,#26818e 1.6%,#31668e 2%,#3b528b 2.4%,#453781 3.2%,#482677 4%,#481c6e 4.8%,#481668 5.6%,#470e61 6.8%,#460b5e 8%,#46085c 9.6%,#450457 12.8%,#440256 16%,#440256 19.2%,#440154 22.4%,#440154 25.6%,#440154 28.8%,#440154 32%,#440154 35.2%,#440154 38.4%,#440154 41.6%,#440154 44.8%,#440154 48%,#440154 51.2%,#440154 54.4%,#440154 57.6%,#440154 60.8%,#440154 64%,#440154 67.2%,#440154 70.4%,#440154 73.6%,#440154 76.8%,#440154 80%,#440154 83.2%,#440154 86.4%,#440154 89.6%,#440154 92.8%,#440154 96%,#440154 99.2%,#440154 100%)"></i><i style="background:linear-gradient(90deg,#440256 0%,#fde725 0.2%,#dfe318 0.4%,#a8db34 0.6%,#67cc5c 0.8%,#1fa287 1.2%,#277e8e 1.6%,#32648e 2%,#3c508b 2.4%,#463480 3.2%,#482576 4%,#481b6d 4.8%,#481467 5.6%,#470e61 6.8%,#460a5d 8%,#46075a 9.6%,#450457 12.8%,#440256 16%,#440256 19.2%,#440154 22.4%,#440154 25.6%,#440154 28.8%,#440154 32%,#440154 35.2%,#440154 38.4%,#440154 41.6%,#440154 44.8%,#440154 48%,#440154 51.2%,#440154 54.4%,#440154 57.6%,#440154 60.8%,#440154 64%,#440154 67.2%,#440154 70.4%,#440154 73.6%,#440154 76.8%,#440154 80%,#440154 83.2%,#440154 86.4%,#440154 89.6%,#440154 92.8%,#440154 96%,#440154 99.2%,#440154 100%)"></i><i style="background:linear-gradient(90deg,#440256 0%,#fde725 0.2%,#dfe318 0.4%,#a2da37 0.6%,#63cb5f 0.8%,#1fa088 1.2%,#287c8e 1.6%,#33628d 2%,#3d4e8a 2.4%,#46337f 3.2%,#482475 4%,#481a6c 4.8%,#481467 5.6%,#470e61 6.8%,#460a5d 8%,#46075a 9.6%,#450457 12.8%,#440256 16%,#440256 19.2%,#440154 22.4%,#440154 25.6%,#440154 28.8%,#440154 32%,#440154 35.2%,#440154 38.4%,#440154 41.6%,#440154 44.8%,#440154 48%,#440154 51.2%,#440154 54.4%,#440154 57.6%,#440154 60.8%,#440154 64%,#440154 67.2%,#440154 70.4%,#440154 73.6%,#440154 76.8%,#440154 80%,#440154 83.2%,#440154 86.4%,#440154 89.6%,#440154 92.8%,#440154 96%,#440154 99.2%,#440154 100%)"></i><i style="background:linear-gradient(90deg,#440256 0%,#fde725 0.2%,#dde318 0.4%,#a0da39 0.6%,#5ec962 0.8%,#1e9d89 1.2%,#29798e 1.6%,#355f8d 2%,#3e4c8a 2.4%,#46327e 3.2%,#482374 4%,#481a6c 4.8%,#471365 5.6%,#470d60 6.8%,#460a5d 8%,#46075a 9.6%,#450457 12.8%,#440256 16%,#440256 19.2%,#440154 22.4%,#440154 25.6%,#440154 28.8%,#440154 32%,#440154 35.2%,#440154 38.4%,#440154 41.6%,#440154 44.8%,#440154 48%,#440154 51.2%,#440154 54.4%,#440154 57.6%,#440154 60.8%,#440154 64%,#440154 67.2%,#440154 70.4%,#440154 73.6%,#440154 76.8%,#440154 80%,#440154 83.2%,#440154 86.4%,#440154 89.6%,#440154 92.8%,#440154 96%,#440154 99.2%,#440154 100%)"></i><i style="background:linear-gradient(90deg,#440256 0%,#fde725 0.2%,#dde318 0.4%,#9dd93b 0.6%,#5ac864 0.8%,#1f9a8a 1.2%,#2a768e 1.6%,#365d8d 2%,#3e4989 2.4%,#472f7d 3.2%,#482173 4%,#48186a 4.8%,#471365 5.6%,#470d60 6.8%,#460a5d 8%,#46075a 9.6%,#450457 12.8%,#440256 16%,#440256 19.2%,#440154 22.4%,#440154 25.6%,#440154 28.8%,#440154 32%,#440154 35.2%,#440154 38.4%,#440154 41.6%,#440154 44.8%,#440154 48%,#440154 51.2%,#440154 54.4%,#440154 57.6%,#440154 60.8%,#440154 64%,#440154 67.2%,#440154 70.4%,#440154 73.6%,#440154 76.8%,#440154 80%,#440154 83.2%,#440154 86.4%,#440154 89.6%,#440154 92.8%,#440154 96%,#440154 99.2%,#440154 100%)"></i><i style="background:linear-gradient(90deg,#440256 0%,#fde725 0.2%,#dae319 0.4%,#98d83e 0.6%,#56c667 0.8%,#1f988b 1.2%,#2b748e 1.6%,#375b8d 2%,#3f4788 2.4%,#472e7c 3.2%,#482071 4%,#481769 4.8%,#471164 5.6%,#470d60 6.8%,#46085c 8%,#46075a 9.6%,#450457 12.8%,#440256 16%,#440154 19.2%,#440154 22.4%,#440154 25.6%,#440154 28.8%,#440154 32%,#440154 35.2%,#440154 38.4%,#440154 41.6%,#440154 44.8%,#440154 48%,#440154 51.2%,#440154 54.4%,#440154 57.6%,#440154 60.8%,#440154 64%,#440154 67.2%,#440154 70.4%,#440154 73.6%,#440154 76.8%,#440154 80%,#440154 83.2%,#440154 86.4%,#440154 89.6%,#440154 92.8%,#440154 96%,#440154 99.2%,#440154 100%)"></i><i style="background:linear-gradient(90deg,#440256 0%,#fde725 0.2%,#d8e219 0.4%,#95d840 0.6%,#50c46a 0.8%,#1f958b 1.2%,#2c718e 1.6%,#38588c 2%,#404588 2.4%,#472d7b 3.2%,#481f70 4%,#481769 4.8%,#471164 5.6%,#460b5e 6.8%,#46085c 8%,#450559 9.6%,#450457 12.8%,#440256 16%,#440154 19.2%,#440154 22.4%,#440154 25.6%,#440154 28.8%,#440154 32%,#440154 35.2%,#440154 38.4%,#440154 41.6%,#440154 44.8%,#440154 48%,#440154 51.2%,#440154 54.4%,#440154 57.6%,#440154 60.8%,#440154 64%,#440154 67.2%,#440154 70.4%,#440154 73.6%,#440154 76.8%,#440154 80%,#440154 83.2%,#440154 86.4%,#440154 89.6%,#440154 92.8%,#440154 96%,#440154 99.2%,#440154 100%)"></i><i style="background:linear-gradient(90deg,#440256 0%,#fde725 0.2%,#d8e219 0.4%,#90d743 0.6%,#4cc26c 0.8%,#20928c 1.2%,#2e6f8e 1.6%,#39558c 2%,#414287 2.4%,#472a7a 3.2%,#481d6f 4%,#481668 4.8%,#471063 5.6%,#460b5e 6.8%,#46085c 8%,#450559 9.6%,#450457 12.8%,#440256 16%,#440154 19.2%,#440154 22.4%,#440154 25.6%,#440154 28.8%,#440154 32%,#440154 35.2%,#440154 38.4%,#440154 41.6%,#440154 44.8%,#440154 48%,#440154 51.2%,#440154 54.4%,#440154 57.6%,#440154 60.8%,#440154 64%,#440154 67.2%,#440154 70.4%,#440154 73.6%,#440154 76.8%,#440154 80%,#440154 83.2%,#440154 86.4%,#440154 89.6%,#440154 92.8%,#440154 96%,#440154 99.2%,#440154 100%)"></i><i style="background:linear-gradient(90deg,#440256 0%,#fde725 0.2%,#d5e21a 0.4%,#8bd646 0.6%,#48c16e 0.8%,#21908d 1.2%,#2e6d8e 1.6%,#3a538b 2%,#424086 2.4%,#482979 3.2%,#481c6e 4%,#481467 4.8%,#471063 5.6%,#460b5e 6.8%,#46085c 8%,#450559 9.6%,#440256 12.8%,#440256 16%,#440154 19.2%,#440154 22.4%,#440154 25.6%,#440154 28.8%,#440154 32%,#440154 35.2%,#440154 38.4%,#440154 41.6%,#440154 44.8%,#440154 48%,#440154 51.2%,#440154 54.4%,#440154 57.6%,#440154 60.8%,#440154 64%,#440154 67.2%,#440154 70.4%,#440154 73.6%,#440154 76.8%,#440154 80%,#440154 83.2%,#440154 86.4%,#440154 89.6%,#440154 92.8%,#440154 96%,#440154 99.2%,#440154 100%)"></i><i style="background:linear-gradient(90deg,#440256 0%,#fde725 0.2%,#d2e21b 0.4%,#89d548 0.6%,#42be71 0.8%,#228d8d 1.2%,#306a8e 1.6%,#3b518b 2%,#423f85 2.4%,#482878 3.2%,#481b6d 4%,#481467 4.8%,#470e61 5.6%,#460a5d 6.8%,#46075a 8%,#450559 9.6%,#440256 12.8%,#440256 16%,#440154 19.2%,#440154 22.4%,#440154 25.6%,#440154 28.8%,#440154 32%,#440154 35.2%,#440154 38.4%,#440154 41.6%,#440154 44.8%,#440154 48%,#440154 51.2%,#440154 54.4%,#440154 57.6%,#440154 60.8%,#440154 64%,#440154 67.2%,#440154 70.4%,#440154 73.6%,#440154 76.8%,#440154 80%,#440154 83.2%,#440154 86.4%,#440154 89.6%,#440154 92.8%,#440154 96%,#440154 99.2%,#440154 100%)"></i><i style="background:linear-gradient(90deg,#440256 0%,#fde725 0.2%,#d0e11c 0.4%,#84d44b 0.6%,#3fbc73 0.8%,#228b8d 1.2%,#31688e 1.6%,#3c4f8a 2%,#433d84 2.4%,#482677 3.2%,#481b6d 4%,#471365 4.8%,#470e61 5.6%,#460a5d 6.8%,#46075a 8%,#450559 9.6%,#440256 12.8%,#440256 16%,#440154 19.2%,#440154 22.4%,#440154 25.6%,#440154 28.8%,#440154 32%,#440154 35.2%,#440154 38.4%,#440154 41.6%,#440154 44.8%,#440154 48%,#440154 51.2%,#440154 54.4%,#440154 57.6%,#440154 60.8%,#440154 64%,#440154 67.2%,#440154 70.4%,#440154 73.6%,#440154 76.8%,#440154 80%,#440154 83.2%,#440154 86.4%,#440154 89.6%,#440154 92.8%,#440154 96%,#440154 99.2%,#440154 100%)"></i><i style="background:linear-gradient(90deg,#440256 0%,#fde725 0.2%,#cde11d 0.4%,#7fd34e 0.6%,#3bbb75 0.8%,#23888e 1.2%,#32658e 1.6%,#3d4d8a 2%,#443a83 2.4%,#482576 3.2%,#481a6c 4%,#471365 4.8%,#470e61 5.6%,#460a5d 6.8%,#46075a 8%,#450559 9.6%,#440256 12.8%,#440256 16%,#440154 19.2%,#440154 22.4%,#440154 25.6%,#440154 28.8%,#440154 32%,#440154 35.2%,#440154 38.4%,#440154 41.6%,#440154 44.8%,#440154 48%,#440154 51.2%,#440154 54.4%,#440154 57.6%,#440154 60.8%,#440154 64%,#440154 67.2%,#440154 70.4%,#440154 73.6%,#440154 76.8%,#440154 80%,#440154 83.2%,#440154 86.4%,#440154 89.6%,#440154 92.8%,#440154 96%,#440154 99.2%,#440154 100%)"></i><i style="background:linear-gradient(90deg,#440256 0%,#fde725 0.2%,#cde11d 0.4%,#7ad151 0.6%,#37b878 0.8%,#25858e 1.2%,#33638d 1.6%,#3e4a89 2%,#443983 2.4%,#482475 3.2%,#48186a 4%,#471164 4.8%,#470d60 5.6%,#46085c 6.8%,#46075a 8%,#450457 9.6%,#440256 12.8%,#440256 16%,#440154 19.2%,#440154 22.4%,#440154 25.6%,#440154 28.8%,#440154 32%,#440154 35.2%,#440154 38.4%,#440154 41.6%,#440154 44.8%,#440154 48%,#440154 51.2%,#440154 54.4%,#440154 57.6%,#440154 60.8%,#440154 64%,#440154 67.2%,#440154 70.4%,#440154 73.6%,#440154 76.8%,#440154 80%,#440154 83.2%,#440154 86.4%,#440154 89.6%,#440154 92.8%,#440154 96%,#440154 99.2%,#440154 100%)"></i><i style="background:linear-gradient(90deg,#440256 0%,#fde725 0.2%,#cae11f 0.4%,#77d153 0.6%,#34b679 0.8%,#26828e 1.2%,#34608d 1.6%,#3f4889 2%,#453781 2.4%,#482374 3.2%,#481769 4%,#471164 4.8%,#470d60 5.6%,#46085c 6.8%,#46075a 8%,#450457 9.6%,#440256 12.8%,#440154 16%,#440154 19.2%,#440154 22.4%,#440154 25.6%,#440154 28.8%,#440154 32%,#440154 35.2%,#440154 38.4%,#440154 41.6%,#440154 44.8%,#440154 48%,#440154 51.2%,#440154 54.4%,#440154 57.6%,#440154 60.8%,#440154 64%,#440154 67.2%,#440154 70.4%,#440154 73.6%,#440154 76.8%,#440154 80%,#440154 83.2%,#440154 86.4%,#440154 89.6%,#440154 92.8%,#440154 96%,#440154 99.2%,#440154 100%)"></i><i style="background:linear-gradient(90deg,#440256 0%,#fbe723 0.2%,#c8e020 0.4%,#73d056 0.6%,#2fb47c 0.8%,#26818e 1.2%,#355e8d 1.6%,#404688 2%,#453581 2.4%,#482173 3.2%,#481769 4%,#471063 4.8%,#460b5e 5.6%,#46085c 6.8%,#450559 8%,#450457 9.6%,#440256 12.8%,#440154 16%,#440154 19.2%,#440154 22.4%,#440154 25.6%,#440154 28.8%,#440154 32%,#440154 35.2%,#440154 38.4%,#440154 41.6%,#440154 44.8%,#440154 48%,#440154 51.2%,#440154 54.4%,#440154 57.6%,#440154 60.8%,#440154 64%,#440154 67.2%,#440154 70.4%,#440154 73.6%,#440154 76.8%,#440154 80%,#440154 83.2%,#440154 86.4%,#440154 89.6%,#440154 92.8%,#440154 96%,#440154 99.2%,#440154 100%)"></i><i style="background:linear-gradient(90deg,#440256 0%,#fbe723 0.2%,#c5e021 0.4%,#6ece58 0.6%,#2db27d 0.8%,#277e8e 1.2%,#365c8d 1.6%,#414487 2%,#46337f 2.4%,#482071 3.2%,#481668 4%,#471063 4.8%,#460b5e 5.6%,#46085c 6.8%,#450559 8%,#450457 9.6%,#440256 12.8%,#440154 16%,#440154 19.2%,#440154 22.4%,#440154 25.6%,#440154 28.8%,#440154 32%,#440154 35.2%,#440154 38.4%,#440154 41.6%,#440154 44.8%,#440154 48%,#440154 51.2%,#440154 54.4%,#440154 57.6%,#440154 60.8%,#440154 64%,#440154 67.2%,#440154 70.4%,#440154 73.6%,#440154 76.8%,#440154 80%,#440154 83.2%,#440154 86.4%,#440154 89.6%,#440154 92.8%,#440154 96%,#440154 99.2%,#440154 100%)"></i><i style="background:linear-gradient(90deg,#440256 0%,#fbe723 0.2%,#c2df23 0.4%,#69cd5b 0.6%,#29af7f 0.8%,#297b8e 1.2%,#38598c 1.6%,#424186 2%,#46327e 2.4%,#481f70 3.2%,#481668 4%,#470e61 4.8%,#460b5e 5.6%,#46075a 6.8%,#450559 8%,#450457 9.6%,#440256 12.8%,#440154 16%,#440154 19.2%,#440154 22.4%,#440154 25.6%,#440154 28.8%,#440154 32%,#440154 35.2%,#440154 38.4%,#440154 41.6%,#440154 44.8%,#440154 48%,#440154 51.2%,#440154 54.4%,#440154 57.6%,#440154 60.8%,#440154 64%,#440154 67.2%,#440154 70.4%,#440154 73.6%,#440154 76.8%,#440154 80%,#440154 83.2%,#440154 86.4%,#440154 89.6%,#440154 92.8%,#440154 96%,#440154 99.2%,#440154 100%)"></i><i style="background:linear-gradient(90deg,#440256 0%,#fbe723 0.2%,#c0df25 0.4%,#65cb5e 0.6%,#26ad81 0.8%,#2a788e 1.2%,#39568c 1.6%,#424086 2%,#472f7d 2.4%,#481d6f 3.2%,#481467 4%,#470e61 4.8%,#460a5d 5.6%,#46075a 6.8%,#450559 8%,#450457 9.6%,#440256 12.8%,#440154 16%,#440154 19.2%,#440154 22.4%,#440154 25.6%,#440154 28.8%,#440154 32%,#440154 35.2%,#440154 38.4%,#440154 41.6%,#440154 44.8%,#440154 48%,#440154 51.2%,#440154 54.4%,#440154 57.6%,#440154 60.8%,#440154 64%,#440154 67.2%,#440154 70.4%,#440154 73.6%,#440154 76.8%,#440154 80%,#440154 83.2%,#440154 86.4%,#440154 89.6%,#440154 92.8%,#440154 96%,#440154 99.2%,#440154 100%)"></i><i style="background:linear-gradient(90deg,#440256 0%,#fbe723 0.2%,#bddf26 0.4%,#60ca60 0.6%,#25ab82 0.8%,#2a768e 1.2%,#3a548c 1.6%,#433e85 2%,#472e7c 2.4%,#481c6e 3.2%,#471365 4%,#470e61 4.8%,#460a5d 5.6%,#46075a 6.8%,#450559 8%,#450457 9.6%,#440256 12.8%,#440154 16%,#440154 19.2%,#440154 22.4%,#440154 25.6%,#440154 28.8%,#440154 32%,#440154 35.2%,#440154 38.4%,#440154 41.6%,#440154 44.8%,#440154 48%,#440154 51.2%,#440154 54.4%,#440154 57.6%,#440154 60.8%,#440154 64%,#440154 67.2%,#440154 70.4%,#440154 73.6%,#440154 76.8%,#440154 80%,#440154 83.2%,#440154 86.4%,#440154 89.6%,#440154 92.8%,#440154 96%,#440154 99.2%,#440154 100%)"></i><i style="background:linear-gradient(90deg,#440256 0%,#fbe723 0.2%,#bade28 0.4%,#5ac864 0.6%,#22a884 0.8%,#2c738e 1.2%,#3b528b 1.6%,#443b84 2%,#472d7b 2.4%,#481b6d 3.2%,#471365 4%,#470d60 4.8%,#460a5d 5.6%,#46075a 6.8%,#450559 8%,#450457 9.6%,#440256 12.8%,#440154 16%,#440154 19.2%,#440154 22.4%,#440154 25.6%,#440154 28.8%,#440154 32%,#440154 35.2%,#440154 38.4%,#440154 41.6%,#440154 44.8%,#440154 48%,#440154 51.2%,#440154 54.4%,#440154 57.6%,#440154 60.8%,#440154 64%,#440154 67.2%,#440154 70.4%,#440154 73.6%,#440154 76.8%,#440154 80%,#440154 83.2%,#440154 86.4%,#440154 89.6%,#440154 92.8%,#440154 96%,#440154 99.2%,#440154 100%)"></i><i style="background:linear-gradient(90deg,#440256 0%,#fbe723 0.2%,#b8de29 0.4%,#56c667 0.6%,#21a585 0.8%,#2d718e 1.2%,#3c508b 1.6%,#443a83 2%,#472c7a 2.4%,#481b6d 3.2%,#471164 4%,#470d60 4.8%,#460a5d 5.6%,#46075a 6.8%,#450457 8%,#450457 9.6%,#440256 12.8%,#440154 16%,#440154 19.2%,#440154 22.4%,#440154 25.6%,#440154 28.8%,#440154 32%,#440154 35.2%,#440154 38.4%,#440154 41.6%,#440154 44.8%,#440154 48%,#440154 51.2%,#440154 54.4%,#440154 57.6%,#440154 60.8%,#440154 64%,#440154 67.2%,#440154 70.4%,#440154 73.6%,#440154 76.8%,#440154 80%,#440154 83.2%,#440154 86.4%,#440154 89.6%,#440154 92.8%,#440154 96%,#440154 99.2%,#440154 100%)"></i><i style="background:linear-gradient(90deg,#440256 0%,#fbe723 0.2%,#b2dd2d 0.4%,#52c569 0.6%,#20a386 0.8%,#2e6f8e 1.2%,#3d4e8a 1.6%,#453882 2%,#482979 2.4%,#481a6c 3.2%,#471164 4%,#460b5e 4.8%,#46085c 5.6%,#450559 6.8%,#450457 8%,#440256 9.6%,#440256 12.8%,#440154 16%,#440154 19.2%,#440154 22.4%,#440154 25.6%,#440154 28.8%,#440154 32%,#440154 35.2%,#440154 38.4%,#440154 41.6%,#440154 44.8%,#440154 48%,#440154 51.2%,#440154 54.4%,#440154 57.6%,#440154 60.8%,#440154 64%,#440154 67.2%,#440154 70.4%,#440154 73.6%,#440154 76.8%,#440154 80%,#440154 83.2%,#440154 86.4%,#440154 89.6%,#440154 92.8%,#440154 96%,#440154 99.2%,#440154 100%)"></i><i style="background:linear-gradient(90deg,#440256 0%,#fbe723 0.2%,#b0dd2f 0.4%,#4ec36b 0.6%,#1fa188 0.8%,#2f6c8e 1.2%,#3e4c8a 1.6%,#453581 2%,#482878 2.4%,#48186a 3.2%,#471063 4%,#460b5e 4.8%,#46085c 5.6%,#450559 6.8%,#450457 8%,#440256 9.6%,#440256 12.8%,#440154 16%,#440154 19.2%,#440154 22.4%,#440154 25.6%,#440154 28.8%,#440154 32%,#440154 35.2%,#440154 38.4%,#440154 41.6%,#440154 44.8%,#440154 48%,#440154 51.2%,#440154 54.4%,#440154 57.6%,#440154 60.8%,#440154 64%,#440154 67.2%,#440154 70.4%,#440154 73.6%,#440154 76.8%,#440154 80%,#440154 83.2%,#440154 86.4%,#440154 89.6%,#440154 92.8%,#440154 96%,#440154 99.2%,#440154 100%)"></i><i style="background:linear-gradient(90deg,#440256 0%,#f8e621 0.2%,#addc30 0.4%,#48c16e 0.6%,#1f9e89 0.8%,#306a8e 1.2%,#3e4989 1.6%,#463480 2%,#482677 2.4%,#48186a 3.2%,#471063 4%,#460b5e 4.8%,#46085c 5.6%,#450559 6.8%,#450457 8%,#440256 9.6%,#440256 12.8%,#440154 16%,#440154 19.2%,#440154 22.4%,#440154 25.6%,#440154 28.8%,#440154 32%,#440154 35.2%,#440154 38.4%,#440154 41.6%,#440154 44.8%,#440154 48%,#440154 51.2%,#440154 54.4%,#440154 57.6%,#440154 60.8%,#440154 64%,#440154 67.2%,#440154 70.4%,#440154 73.6%,#440154 76.8%,#440154 80%,#440154 83.2%,#440154 86.4%,#440154 89.6%,#440154 92.8%,#440154 96%,#440154 99.2%,#440154 100%)"></i><i style="background:linear-gradient(90deg,#440256 0%,#f8e621 0.2%,#aadc32 0.4%,#44bf70 0.6%,#1e9b8a 0.8%,#31678e 1.2%,#3f4788 1.6%,#46337f 2%,#482576 2.4%,#481769 3.2%,#470e61 4%,#460a5d 4.8%,#46085c 5.6%,#450559 6.8%,#450457 8%,#440256 9.6%,#440154 12.8%,#440154 16%,#440154 19.2%,#440154 22.4%,#440154 25.6%,#440154 28.8%,#440154 32%,#440154 35.2%,#440154 38.4%,#440154 41.6%,#440154 44.8%,#440154 48%,#440154 51.2%,#440154 54.4%,#440154 57.6%,#440154 60.8%,#440154 64%,#440154 67.2%,#440154 70.4%,#440154 73.6%,#440154 76.8%,#440154 80%,#440154 83.2%,#440154 86.4%,#440154 89.6%,#440154 92.8%,#440154 96%,#440154 99.2%,#440154 100%)"></i><i style="background:linear-gradient(90deg,#440256 0%,#f8e621 0.2%,#a5db36 0.4%,#40bd72 0.6%,#1f988b 0.8%,#32658e 1.2%,#404588 1.6%,#46307e 2%,#482475 2.4%,#481668 3.2%,#470e61 4%,#460a5d 4.8%,#46075a 5.6%,#450559 6.8%,#450457 8%,#440256 9.6%,#440154 12.8%,#440154 16%,#440154 19.2%,#440154 22.4%,#440154 25.6%,#440154 28.8%,#440154 32%,#440154 35.2%,#440154 38.4%,#440154 41.6%,#440154 44.8%,#440154 48%,#440154 51.2%,#440154 54.4%,#440154 57.6%,#440154 60.8%,#440154 64%,#440154 67.2%,#440154 70.4%,#440154 73.6%,#440154 76.8%,#440154 80%,#440154 83.2%,#440154 86.4%,#440154 89.6%,#440154 92.8%,#440154 96%,#440154 99.2%,#440154 100%)"></i><i style="background:linear-gradient(90deg,#440256 0%,#f8e621 0.2%,#a2da37 0.4%,#3bbb75 0.6%,#1f968b 0.8%,#33628d 1.2%,#414287 1.6%,#472f7d 2%,#482374 2.4%,#481668 3.2%,#470e61 4%,#460a5d 4.8%,#46075a 5.6%,#450559 6.8%,#450457 8%,#440256 9.6%,#440154 12.8%,#440154 16%,#440154 19.2%,#440154 22.4%,#440154 25.6%,#440154 28.8%,#440154 32%,#440154 35.2%,#440154 38.4%,#440154 41.6%,#440154 44.8%,#440154 48%,#440154 51.2%,#440154 54.4%,#440154 57.6%,#440154 60.8%,#440154 64%,#440154 67.2%,#440154 70.4%,#440154 73.6%,#440154 76.8%,#440154 80%,#440154 83.2%,#440154 86.4%,#440154 89.6%,#440154 92.8%,#440154 96%,#440154 99.2%,#440154 100%)"></i><i style="background:linear-gradient(90deg,#440256 0%,#f8e621 0.2%,#a0da39 0.4%,#38b977 0.6%,#20938c 0.8%,#34608d 1.2%,#424086 1.6%,#472d7b 2%,#482173 2.4%,#481467 3.2%,#470d60 4%,#460a5d 4.8%,#46075a 5.6%,#450559 6.8%,#450457 8%,#440256 9.6%,#440154 12.8%,#440154 16%,#440154 19.2%,#440154 22.4%,#440154 25.6%,#440154 28.8%,#440154 32%,#440154 35.2%,#440154 38.4%,#440154 41.6%,#440154 44.8%,#440154 48%,#440154 51.2%,#440154 54.4%,#440154 57.6%,#440154 60.8%,#440154 64%,#440154 67.2%,#440154 70.4%,#440154 73.6%,#440154 76.8%,#440154 80%,#440154 83.2%,#440154 86.4%,#440154 89.6%,#440154 92.8%,#440154 96%,#440154 99.2%,#440154 100%)"></i><i style="background:linear-gradient(90deg,#440256 0%,#f8e621 0.2%,#9bd93c 0.4%,#34b679 0.6%,#21918c 0.8%,#355e8d 1.2%,#423f85 1.6%,#472c7a 2%,#482071 2.4%,#471365 3.2%,#470d60 4%,#46085c 4.8%,#46075a 5.6%,#450457 6.8%,#450457 8%,#440256 9.6%,#440154 12.8%,#440154 16%,#440154 19.2%,#440154 22.4%,#440154 25.6%,#440154 28.8%,#440154 32%,#440154 35.2%,#440154 38.4%,#440154 41.6%,#440154 44.8%,#440154 48%,#440154 51.2%,#440154 54.4%,#440154 57.6%,#440154 60.8%,#440154 64%,#440154 67.2%,#440154 70.4%,#440154 73.6%,#440154 76.8%,#440154 80%,#440154 83.2%,#440154 86.4%,#440154 89.6%,#440154 92.8%,#440154 96%,#440154 99.2%,#440154 100%)"></i><i style="background:linear-gradient(90deg,#440256 0%,#f6e620 0.2%,#98d83e 0.4%,#31b57b 0.6%,#218e8d 0.8%,#375b8d 1.2%,#433d84 1.6%,#472a7a 2%,#481f70 2.4%,#471365 3.2%,#460b5e 4%,#46085c 4.8%,#46075a 5.6%,#450457 6.8%,#440256 8%,#440256 9.6%,#440154 12.8%,#440154 16%,#440154 19.2%,#440154 22.4%,#440154 25.6%,#440154 28.8%,#440154 32%,#440154 35.2%,#440154 38.4%,#440154 41.6%,#440154 44.8%,#440154 48%,#440154 51.2%,#440154 54.4%,#440154 57.6%,#440154 60.8%,#440154 64%,#440154 67.2%,#440154 70.4%,#440154 73.6%,#440154 76.8%,#440154 80%,#440154 83.2%,#440154 86.4%,#440154 89.6%,#440154 92.8%,#440154 96%,#440154 99.2%,#440154 100%)"></i><i style="background:linear-gradient(90deg,#440256 0%,#f6e620 0.2%,#93d741 0.4%,#2db27d 0.6%,#228c8d 0.8%,#38598c 1.2%,#443a83 1.6%,#482979 2%,#481d6f 2.4%,#471164 3.2%,#460b5e 4%,#46085c 4.8%,#450559 5.6%,#450457 6.8%,#440256 8%,#440256 9.6%,#440154 12.8%,#440154 16%,#440154 19.2%,#440154 22.4%,#440154 25.6%,#440154 28.8%,#440154 32%,#440154 35.2%,#440154 38.4%,#440154 41.6%,#440154 44.8%,#440154 48%,#440154 51.2%,#440154 54.4%,#440154 57.6%,#440154 60.8%,#440154 64%,#440154 67.2%,#440154 70.4%,#440154 73.6%,#440154 76.8%,#440154 80%,#440154 83.2%,#440154 86.4%,#440154 89.6%,#440154 92.8%,#440154 96%,#440154 99.2%,#440154 100%)"></i><i style="background:linear-gradient(90deg,#440256 0%,#f6e620 0.2%,#8ed645 0.4%,#2ab07f 0.6%,#23898e 0.8%,#39568c 1.2%,#443983 1.6%,#482878 2%,#481c6e 2.4%,#471164 3.2%,#460b5e 4%,#46085c 4.8%,#450559 5.6%,#450457 6.8%,#440256 8%,#440256 9.6%,#440154 12.8%,#440154 16%,#440154 19.2%,#440154 22.4%,#440154 25.6%,#440154 28.8%,#440154 32%,#440154 35.2%,#440154 38.4%,#440154 41.6%,#440154 44.8%,#440154 48%,#440154 51.2%,#440154 54.4%,#440154 57.6%,#440154 60.8%,#440154 64%,#440154 67.2%,#440154 70.4%,#440154 73.6%,#440154 76.8%,#440154 80%,#440154 83.2%,#440154 86.4%,#440154 89.6%,#440154 92.8%,#440154 96%,#440154 99.2%,#440154 100%)"></i><i style="background:linear-gradient(90deg,#440256 0%,#f6e620 0.2%,#8bd646 0.4%,#27ad81 0.6%,#24868e 0.8%,#3a548c 1.2%,#453781 1.6%,#482677 2%,#481c6e 2.4%,#471063 3.2%,#460b5e 4%,#46075a 4.8%,#450559 5.6%,#450457 6.8%,#440256 8%,#440256 9.6%,#440154 12.8%,#440154 16%,#440154 19.2%,#440154 22.4%,#440154 25.6%,#440154 28.8%,#440154 32%,#440154 35.2%,#440154 38.4%,#440154 41.6%,#440154 44.8%,#440154 48%,#440154 51.2%,#440154 54.4%,#440154 57.6%,#440154 60.8%,#440154 64%,#440154 67.2%,#440154 70.4%,#440154 73.6%,#440154 76.8%,#440154 80%,#440154 83.2%,#440154 86.4%,#440154 89.6%,#440154 92.8%,#440154 96%,#440154 99.2%,#440154 100%)"></i><i style="background:linear-gradient(90deg,#440256 0%,#f6e620 0.2%,#86d549 0.4%,#25ab82 0.6%,#25838e 0.8%,#3b528b 1.2%,#453581 1.6%,#482475 2%,#481b6d 2.4%,#471063 3.2%,#460a5d 4%,#46075a 4.8%,#450559 5.6%,#450457 6.8%,#440256 8%,#440256 9.6%,#440154 12.8%,#440154 16%,#440154 19.2%,#440154 22.4%,#440154 25.6%,#440154 28.8%,#440154 32%,#440154 35.2%,#440154 38.4%,#440154 41.6%,#440154 44.8%,#440154 48%,#440154 51.2%,#440154 54.4%,#440154 57.6%,#440154 60.8%,#440154 64%,#440154 67.2%,#440154 70.4%,#440154 73.6%,#440154 76.8%,#440154 80%,#440154 83.2%,#440154 86.4%,#440154 89.6%,#440154 92.8%,#440154 96%,#440154 99.2%,#440154 100%)"></i><i style="background:linear-gradient(90deg,#440256 0%,#f4e61e 0.2%,#81d34d 0.4%,#23a983 0.6%,#26818e 0.8%,#3c4f8a 1.2%,#46337f 1.6%,#482374 2%,#481a6c 2.4%,#471063 3.2%,#460a5d 4%,#46075a 4.8%,#450559 5.6%,#450457 6.8%,#440256 8%,#440256 9.6%,#440154 12.8%,#440154 16%,#440154 19.2%,#440154 22.4%,#440154 25.6%,#440154 28.8%,#440154 32%,#440154 35.2%,#440154 38.4%,#440154 41.6%,#440154 44.8%,#440154 48%,#440154 51.2%,#440154 54.4%,#440154 57.6%,#440154 60.8%,#440154 64%,#440154 67.2%,#440154 70.4%,#440154 73.6%,#440154 76.8%,#440154 80%,#440154 83.2%,#440154 86.4%,#440154 89.6%,#440154 92.8%,#440154 96%,#440154 99.2%,#440154 100%)"></i><i style="background:linear-gradient(90deg,#440256 0%,#f4e61e 0.2%,#7fd34e 0.4%,#21a685 0.6%,#277f8e 0.8%,#3d4d8a 1.2%,#46327e 1.6%,#482173 2%,#48186a 2.4%,#470e61 3.2%,#460a5d 4%,#46075a 4.8%,#450559 5.6%,#450457 6.8%,#440256 8%,#440256 9.6%,#440154 12.8%,#440154 16%,#440154 19.2%,#440154 22.4%,#440154 25.6%,#440154 28.8%,#440154 32%,#440154 35.2%,#440154 38.4%,#440154 41.6%,#440154 44.8%,#440154 48%,#440154 51.2%,#440154 54.4%,#440154 57.6%,#440154 60.8%,#440154 64%,#440154 67.2%,#440154 70.4%,#440154 73.6%,#440154 76.8%,#440154 80%,#440154 83.2%,#440154 86.4%,#440154 89.6%,#440154 92.8%,#440154 96%,#440154 99.2%,#440154 100%)"></i><i style="background:linear-gradient(90deg,#440256 0%,#f4e61e 0.2%,#7ad151 0.4%,#20a386 0.6%,#287c8e 0.8%,#3e4a89 1.2%,#472f7d 1.6%,#482173 2%,#48186a 2.4%,#470e61 3.2%,#46085c 4%,#46075a 4.8%,#450457 5.6%,#450457 6.8%,#440256 8%,#440154 9.6%,#440154 12.8%,#440154 16%,#440154 19.2%,#440154 22.4%,#440154 25.6%,#440154 28.8%,#440154 32%,#440154 35.2%,#440154 38.4%,#440154 41.6%,#440154 44.8%,#440154 48%,#440154 51.2%,#440154 54.4%,#440154 57.6%,#440154 60.8%,#440154 64%,#440154 67.2%,#440154 70.4%,#440154 73.6%,#440154 76.8%,#440154 80%,#440154 83.2%,#440154 86.4%,#440154 89.6%,#440154 92.8%,#440154 96%,#440154 99.2%,#440154 100%)"></i><i style="background:linear-gradient(90deg,#440256 0%,#f4e61e 0.2%,#75d054 0.4%,#1fa187 0.6%,#29798e 0.8%,#3f4889 1.2%,#472e7c 1.6%,#482071 2%,#481769 2.4%,#470d60 3.2%,#46085c 4%,#450559 4.8%,#450457 5.6%,#440256 6.8%,#440256 8%,#440154 9.6%,#440154 12.8%,#440154 16%,#440154 19.2%,#440154 22.4%,#440154 25.6%,#440154 28.8%,#440154 32%,#440154 35.2%,#440154 38.4%,#440154 41.6%,#440154 44.8%,#440154 48%,#440154 51.2%,#440154 54.4%,#440154 57.6%,#440154 60.8%,#440154 64%,#440154 67.2%,#440154 70.4%,#440154 73.6%,#440154 76.8%,#440154 80%,#440154 83.2%,#440154 86.4%,#440154 89.6%,#440154 92.8%,#440154 96%,#440154 99.2%,#440154 100%)"></i><i style="background:linear-gradient(90deg,#440256 0%,#f1e51d 0.2%,#70cf57 0.4%,#1f9f88 0.6%,#2a778e 0.8%,#3f4788 1.2%,#472d7b 1.6%,#481f70 2%,#481668 2.4%,#470d60 3.2%,#46085c 4%,#450559 4.8%,#450457 5.6%,#440256 6.8%,#440256 8%,#440154 9.6%,#440154 12.8%,#440154 16%,#440154 19.2%,#440154 22.4%,#440154 25.6%,#440154 28.8%,#440154 32%,#440154 35.2%,#440154 38.4%,#440154 41.6%,#440154 44.8%,#440154 48%,#440154 51.2%,#440154 54.4%,#440154 57.6%,#440154 60.8%,#440154 64%,#440154 67.2%,#440154 70.4%,#440154 73.6%,#440154 76.8%,#440154 80%,#440154 83.2%,#440154 86.4%,#440154 89.6%,#440154 92.8%,#440154 96%,#440154 99.2%,#440154 100%)"></i><i style="background:linear-gradient(90deg,#440256 0%,#f1e51d 0.2%,#6ccd5a 0.4%,#1e9c89 0.6%,#2b748e 0.8%,#404588 1.2%,#472c7a 1.6%,#481d6f 2%,#481668 2.4%,#470d60 3.2%,#46085c 4%,#450559 4.8%,#450457 5.6%,#440256 6.8%,#440256 8%,#440154 9.6%,#440154 12.8%,#440154 16%,#440154 19.2%,#440154 22.4%,#440154 25.6%,#440154 28.8%,#440154 32%,#440154 35.2%,#440154 38.4%,#440154 41.6%,#440154 44.8%,#440154 48%,#440154 51.2%,#440154 54.4%,#440154 57.6%,#440154 60.8%,#440154 64%,#440154 67.2%,#440154 70.4%,#440154 73.6%,#440154 76.8%,#440154 80%,#440154 83.2%,#440154 86.4%,#440154 89.6%,#440154 92.8%,#440154 96%,#440154 99.2%,#440154 100%)"></i><i style="background:linear-gradient(90deg,#440256 0%,#f1e51d 0.2%,#67cc5c 0.4%,#1f998a 0.6%,#2c718e 0.8%,#414287 1.2%,#482979 1.6%,#481c6e 2%,#481467 2.4%,#460b5e 3.2%,#46075a 4%,#450559 4.8%,#450457 5.6%,#440256 6.8%,#440256 8%,#440154 9.6%,#440154 12.8%,#440154 16%,#440154 19.2%,#440154 22.4%,#440154 25.6%,#440154 28.8%,#440154 32%,#440154 35.2%,#440154 38.4%,#440154 41.6%,#440154 44.8%,#440154 48%,#440154 51.2%,#440154 54.4%,#440154 57.6%,#440154 60.8%,#440154 64%,#440154 67.2%,#440154 70.4%,#440154 73.6%,#440154 76.8%,#440154 80%,#440154 83.2%,#440154 86.4%,#440154 89.6%,#440154 92.8%,#440154 96%,#440154 99.2%,#440154 100%)"></i><i style="background:linear-gradient(90deg,#440256 0%,#f1e51d 0.2%,#63cb5f 0.4%,#1f968b 0.6%,#2d708e 0.8%,#424086 1.2%,#482878 1.6%,#481b6d 2%,#481467 2.4%,#460b5e 3.2%,#46075a 4%,#450559 4.8%,#450457 5.6%,#440256 6.8%,#440256 8%,#440154 9.6%,#440154 12.8%,#440154 16%,#440154 19.2%,#440154 22.4%,#440154 25.6%,#440154 28.8%,#440154 32%,#440154 35.2%,#440154 38.4%,#440154 41.6%,#440154 44.8%,#440154 48%,#440154 51.2%,#440154 54.4%,#440154 57.6%,#440154 60.8%,#440154 64%,#440154 67.2%,#440154 70.4%,#440154 73.6%,#440154 76.8%,#440154 80%,#440154 83.2%,#440154 86.4%,#440154 89.6%,#440154 92.8%,#440154 96%,#440154 99.2%,#440154 100%)"></i><i style="background:linear-gradient(90deg,#440256 0%,#efe51c 0.2%,#5ec962 0.4%,#1f948c 0.6%,#2e6d8e 0.8%,#433e85 1.2%,#482677 1.6%,#481a6c 2%,#471365 2.4%,#460b5e 3.2%,#46075a 4%,#450559 4.8%,#450457 5.6%,#440256 6.8%,#440256 8%,#440154 9.6%,#440154 12.8%,#440154 16%,#440154 19.2%,#440154 22.4%,#440154 25.6%,#440154 28.8%,#440154 32%,#440154 35.2%,#440154 38.4%,#440154 41.6%,#440154 44.8%,#440154 48%,#440154 51.2%,#440154 54.4%,#440154 57.6%,#440154 60.8%,#440154 64%,#440154 67.2%,#440154 70.4%,#440154 73.6%,#440154 76.8%,#440154 80%,#440154 83.2%,#440154 86.4%,#440154 89.6%,#440154 92.8%,#440154 96%,#440154 99.2%,#440154 100%)"></i><i style="background:linear-gradient(90deg,#440256 0%,#efe51c 0.2%,#5ac864 0.4%,#20928c 0.6%,#2f6b8e 0.8%,#433d84 1.2%,#482576 1.6%,#481a6c 2%,#471365 2.4%,#460a5d 3.2%,#46075a 4%,#450457 4.8%,#450457 5.6%,#440256 6.8%,#440256 8%,#440154 9.6%,#440154 12.8%,#440154 16%,#440154 19.2%,#440154 22.4%,#440154 25.6%,#440154 28.8%,#440154 32%,#440154 35.2%,#440154 38.4%,#440154 41.6%,#440154 44.8%,#440154 48%,#440154 51.2%,#440154 54.4%,#440154 57.6%,#440154 60.8%,#440154 64%,#440154 67.2%,#440154 70.4%,#440154 73.6%,#440154 76.8%,#440154 80%,#440154 83.2%,#440154 86.4%,#440154 89.6%,#440154 92.8%,#440154 96%,#440154 99.2%,#440154 100%)"></i><i style="background:linear-gradient(90deg,#440256 0%,#efe51c 0.2%,#54c568 0.4%,#218f8d 0.6%,#31688e 0.8%,#443a83 1.2%,#482475 1.6%,#48186a 2%,#471164 2.4%,#460a5d 3.2%,#46075a 4%,#450457 4.8%,#450457 5.6%,#440256 6.8%,#440256 8%,#440154 9.6%,#440154 12.8%,#440154 16%,#440154 19.2%,#440154 22.4%,#440154 25.6%,#440154 28.8%,#440154 32%,#440154 35.2%,#440154 38.4%,#440154 41.6%,#440154 44.8%,#440154 48%,#440154 51.2%,#440154 54.4%,#440154 57.6%,#440154 60.8%,#440154 64%,#440154 67.2%,#440154 70.4%,#440154 73.6%,#440154 76.8%,#440154 80%,#440154 83.2%,#440154 86.4%,#440154 89.6%,#440154 92.8%,#440154 96%,#440154 99.2%,#440154 100%)"></i><i style="background:linear-gradient(90deg,#440256 0%,#ece51b 0.2%,#50c46a 0.4%,#228c8d 0.6%,#31668e 0.8%,#453882 1.2%,#482374 1.6%,#481769 2%,#471164 2.4%,#460a5d 3.2%,#450559 4%,#450457 4.8%,#440256 5.6%,#440256 6.8%,#440154 8%,#440154 9.6%,#440154 12.8%,#440154 16%,#440154 19.2%,#440154 22.4%,#440154 25.6%,#440154 28.8%,#440154 32%,#440154 35.2%,#440154 38.4%,#440154 41.6%,#440154 44.8%,#440154 48%,#440154 51.2%,#440154 54.4%,#440154 57.6%,#440154 60.8%,#440154 64%,#440154 67.2%,#440154 70.4%,#440154 73.6%,#440154 76.8%,#440154 80%,#440154 83.2%,#440154 86.4%,#440154 89.6%,#440154 92.8%,#440154 96%,#440154 99.2%,#440154 100%)"></i><i style="background:linear-gradient(90deg,#440256 0%,#ece51b 0.2%,#4cc26c 0.4%,#23898e 0.6%,#33638d 0.8%,#453781 1.2%,#482173 1.6%,#481769 2%,#471063 2.4%,#46085c 3.2%,#450559 4%,#450457 4.8%,#440256 5.6%,#440256 6.8%,#440154 8%,#440154 9.6%,#440154 12.8%,#440154 16%,#440154 19.2%,#440154 22.4%,#440154 25.6%,#440154 28.8%,#440154 32%,#440154 35.2%,#440154 38.4%,#440154 41.6%,#440154 44.8%,#440154 48%,#440154 51.2%,#440154 54.4%,#440154 57.6%,#440154 60.8%,#440154 64%,#440154 67.2%,#440154 70.4%,#440154 73.6%,#440154 76.8%,#440154 80%,#440154 83.2%,#440154 86.4%,#440154 89.6%,#440154 92.8%,#440154 96%,#440154 99.2%,#440154 100%)"></i><i style="background:linear-gradient(90deg,#440256 0%,#ece51b 0.2%,#48c16e 0.4%,#24878e 0.6%,#34618d 0.8%,#463480 1.2%,#482071 1.6%,#481668 2%,#471063 2.4%,#46085c 3.2%,#450559 4%,#450457 4.8%,#440256 5.6%,#440256 6.8%,#440154 8%,#440154 9.6%,#440154 12.8%,#440154 16%,#440154 19.2%,#440154 22.4%,#440154 25.6%,#440154 28.8%,#440154 32%,#440154 35.2%,#440154 38.4%,#440154 41.6%,#440154 44.8%,#440154 48%,#440154 51.2%,#440154 54.4%,#440154 57.6%,#440154 60.8%,#440154 64%,#440154 67.2%,#440154 70.4%,#440154 73.6%,#440154 76.8%,#440154 80%,#440154 83.2%,#440154 86.4%,#440154 89.6%,#440154 92.8%,#440154 96%,#440154 99.2%,#440154 100%)"></i><i style="background:linear-gradient(90deg,#440256 0%,#eae51a 0.2%,#42be71 0.4%,#25848e 0.6%,#355e8d 0.8%,#46337f 1.2%,#481f70 1.6%,#481467 2%,#470e61 2.4%,#46085c 3.2%,#450559 4%,#450457 4.8%,#440256 5.6%,#440256 6.8%,#440154 8%,#440154 9.6%,#440154 12.8%,#440154 16%,#440154 19.2%,#440154 22.4%,#440154 25.6%,#440154 28.8%,#440154 32%,#440154 35.2%,#440154 38.4%,#440154 41.6%,#440154 44.8%,#440154 48%,#440154 51.2%,#440154 54.4%,#440154 57.6%,#440154 60.8%,#440154 64%,#440154 67.2%,#440154 70.4%,#440154 73.6%,#440154 76.8%,#440154 80%,#440154 83.2%,#440154 86.4%,#440154 89.6%,#440154 92.8%,#440154 96%,#440154 99.2%,#440154 100%)"></i><i style="background:linear-gradient(90deg,#440256 0%,#eae51a 0.2%,#3fbc73 0.4%,#26828e 0.6%,#365c8d 0.8%,#46327e 1.2%,#481d6f 1.6%,#481467 2%,#470e61 2.4%,#46085c 3.2%,#450559 4%,#450457 4.8%,#440256 5.6%,#440256 6.8%,#440154 8%,#440154 9.6%,#440154 12.8%,#440154 16%,#440154 19.2%,#440154 22.4%,#440154 25.6%,#440154 28.8%,#440154 32%,#440154 35.2%,#440154 38.4%,#440154 41.6%,#440154 44.8%,#440154 48%,#440154 51.2%,#440154 54.4%,#440154 57.6%,#440154 60.8%,#440154 64%,#440154 67.2%,#440154 70.4%,#440154 73.6%,#440154 76.8%,#440154 80%,#440154 83.2%,#440154 86.4%,#440154 89.6%,#440154 92.8%,#440154 96%,#440154 99.2%,#440154 100%)"></i><i style="background:linear-gradient(90deg,#440256 0%,#e7e419 0.2%,#3bbb75 0.4%,#27808e 0.6%,#375a8c 0.8%,#472f7d 1.2%,#481d6f 1.6%,#471365 2%,#470d60 2.4%,#46075a 3.2%,#450559 4%,#450457 4.8%,#440256 5.6%,#440256 6.8%,#440154 8%,#440154 9.6%,#440154 12.8%,#440154 16%,#440154 19.2%,#440154 22.4%,#440154 25.6%,#440154 28.8%,#440154 32%,#440154 35.2%,#440154 38.4%,#440154 41.6%,#440154 44.8%,#440154 48%,#440154 51.2%,#440154 54.4%,#440154 57.6%,#440154 60.8%,#440154 64%,#440154 67.2%,#440154 70.4%,#440154 73.6%,#440154 76.8%,#440154 80%,#440154 83.2%,#440154 86.4%,#440154 89.6%,#440154 92.8%,#440154 96%,#440154 99.2%,#440154 100%)"></i></div>
<svg width="350" height="347" viewBox="0 0 350 347" font-family="DejaVu Sans, Liberation Sans, sans-serif">
<defs><linearGradient id="cb" x1="0" y1="0" x2="0" y2="1"><stop offset="0.000" stop-color="#fde725"/><stop offset="0.031" stop-color="#eae51a"/><stop offset="0.062" stop-color="#d8e219"/><stop offset="0.094" stop-color="#c2df23"/><stop offset="0.125" stop-color="#aadc32"/><stop offset="0.156" stop-color="#98d83e"/><stop offset="0.188" stop-color="#84d44b"/><stop offset="0.219" stop-color="#6ece58"/><stop offset="0.250" stop-color="#5ec962"/><stop offset="0.281" stop-color="#4ec36b"/><stop offset="0.312" stop-color="#3dbc74"/><stop offset="0.344" stop-color="#32b67a"/><stop offset="0.375" stop-color="#28ae80"/><stop offset="0.406" stop-color="#21a685"/><stop offset="0.438" stop-color="#1f9f88"/><stop offset="0.469" stop-color="#1f988b"/><stop offset="0.500" stop-color="#21908d"/><stop offset="0.531" stop-color="#23898e"/><stop offset="0.562" stop-color="#26828e"/><stop offset="0.594" stop-color="#29798e"/><stop offset="0.625" stop-color="#2c718e"/><stop offset="0.656" stop-color="#2f6b8e"/><stop offset="0.688" stop-color="#33628d"/><stop offset="0.719" stop-color="#375b8d"/><stop offset="0.750" stop-color="#3b528b"/><stop offset="0.781" stop-color="#3f4889"/><stop offset="0.812" stop-color="#423f85"/><stop offset="0.844" stop-color="#453781"/><stop offset="0.875" stop-color="#472c7a"/><stop offset="0.906" stop-color="#482374"/><stop offset="0.938" stop-color="#48186a"/><stop offset="0.969" stop-color="#460b5e"/><stop offset="1.000" stop-color="#440154"/></linearGradient><clipPath id="cp"><rect x="38.8" y="16.4" width="248.6" height="303.0"/></clipPath></defs>
<path fill="#fff" fill-rule="evenodd" d="M37 15H289V321H37ZM38.80 16.40H287.40V319.40H38.80Z"/>
<g clip-path="url(#cp)">
<path d="M38.8 319.4 L38.8 111.8 L38.8 111.8 L39.0 111.8 L39.2 111.8 L39.4 111.8 L39.6 111.9 L39.8 111.9 L39.9 111.9 L40.1 111.9 L40.3 111.9 L40.5 111.9 L40.7 111.9 L40.9 111.9 L41.1 111.9 L41.3 111.9 L41.5 111.9 L41.7 111.9 L41.9 111.9 L42.1 111.9 L42.2 111.9 L42.4 111.9 L42.6 111.9 L42.8 111.9 L43.0 111.9 L43.2 111.9 L43.4 111.9 L43.6 111.9 L43.8 111.9 L44.0 112.0 L44.2 112.0 L44.4 112.0 L44.5 112.0 L44.7 112.0 L44.9 112.0 L45.1 112.0 L45.3 112.0 L45.5 112.0 L45.7 112.0 L45.9 112.0 L46.1 112.1 L46.3 112.1 L46.5 112.1 L46.6 112.1 L46.8 112.1 L47.0 112.1 L47.2 112.1 L47.4 112.1 L47.6 112.1 L47.8 112.2 L48.0 112.2 L48.2 112.2 L48.4 112.2 L48.6 112.2 L48.8 112.2 L48.9 112.2 L49.1 112.3 L49.3 112.3 L49.5 112.3 L49.7 112.3 L49.9 112.3 L50.1 112.3 L50.3 112.3 L50.5 112.4 L50.7 112.4 L50.9 112.4 L51.1 112.4 L51.2 112.4 L51.4 112.4 L51.6 112.5 L51.8 112.5 L52.0 112.5 L52.2 112.5 L52.4 112.5 L52.6 112.6 L52.8 112.6 L53.0 112.6 L53.2 112.6 L53.3 112.6 L53.5 112.7 L53.7 112.7 L53.9 112.7 L54.1 112.7 L54.3 112.7 L54.5 112.8 L54.7 112.8 L54.9 112.8 L55.1 112.8 L55.3 112.9 L55.5 112.9 L55.6 112.9 L55.8 112.9 L56.0 113.0 L56.2 113.0 L56.4 113.0 L56.6 113.0 L56.8 113.1 L57.0 113.1 L57.2 113.1 L57.4 113.1 L57.6 113.2 L57.8 113.2 L57.9 113.2 L58.1 113.2 L58.3 113.3 L58.5 113.3 L58.7 113.3 L58.9 113.4 L59.1 113.4 L59.3 113.4 L59.5 113.4 L59.7 113.5 L59.9 113.5 L60.0 113.5 L60.2 113.6 L60.4 113.6 L60.6 113.6 L60.8 113.7 L61.0 113.7 L61.2 113.7 L61.4 113.8 L61.6 113.8 L61.8 113.8 L62.0 113.9 L62.2 113.9 L62.3 113.9 L62.5 114.0 L62.7 114.0 L62.9 114.0 L63.1 114.1 L63.3 114.1 L63.5 114.1 L63.7 114.2 L63.9 114.2 L64.1 114.3 L64.3 114.3 L64.5 114.3 L64.6 114.4 L64.8 114.4 L65.0 114.5 L65.2 114.5 L65.4 114.5 L65.6 114.6 L65.8 114.6 L66.0 114.7 L66.2 114.7 L66.4 114.7 L66.6 114.8 L66.7 114.8 L66.9 114.9 L67.1 114.9 L67.3 115.0 L67.5 115.0 L67.7 115.0 L67.9 115.1 L68.1 115.1 L68.3 115.2 L68.5 115.2 L68.7 115.3 L68.9 115.3 L69.0 115.4 L69.2 115.4 L69.4 115.5 L69.6 115.5 L69.8 115.6 L70.0 115.6 L70.2 115.7 L70.4 115.7 L70.6 115.8 L70.8 115.8 L71.0 115.9 L71.2 115.9 L71.3 116.0 L71.5 116.0 L71.7 116.1 L71.9 116.1 L72.1 116.2 L72.3 116.3 L72.5 116.3 L72.7 116.4 L72.9 116.4 L73.1 116.5 L73.3 116.5 L73.4 116.6 L73.6 116.7 L73.8 116.7 L74.0 116.8 L74.2 116.8 L74.4 116.9 L74.6 117.0 L74.8 117.0 L75.0 117.1 L75.2 117.1 L75.4 117.2 L75.6 117.3 L75.7 117.3 L75.9 117.4 L76.1 117.5 L76.3 117.5 L76.5 117.6 L76.7 117.7 L76.9 117.7 L77.1 117.8 L77.3 117.9 L77.5 117.9 L77.7 118.0 L77.9 118.1 L78.0 118.1 L78.2 118.2 L78.4 118.3 L78.6 118.4 L78.8 118.4 L79.0 118.5 L79.2 118.6 L79.4 118.7 L79.6 118.7 L79.8 118.8 L80.0 118.9 L80.2 119.0 L80.3 119.0 L80.5 119.1 L80.7 119.2 L80.9 119.3 L81.1 119.4 L81.3 119.4 L81.5 119.5 L81.7 119.6 L81.9 119.7 L82.1 119.8 L82.3 119.9 L82.4 120.0 L82.6 120.0 L82.8 120.1 L83.0 120.2 L83.2 120.3 L83.4 120.4 L83.6 120.5 L83.8 120.6 L84.0 120.7 L84.2 120.8 L84.4 120.9 L84.6 121.0 L84.7 121.0 L84.9 121.1 L85.1 121.2 L85.3 121.3 L85.5 121.4 L85.7 121.5 L85.9 121.6 L86.1 121.7 L86.3 121.8 L86.5 121.9 L86.7 122.0 L86.9 122.2 L87.0 122.3 L87.2 122.4 L87.4 122.5 L87.6 122.6 L87.8 122.7 L88.0 122.8 L88.2 122.9 L88.4 123.0 L88.6 123.1 L88.8 123.3 L89.0 123.4 L89.1 123.5 L89.3 123.6 L89.5 123.7 L89.7 123.9 L89.9 124.0 L90.1 124.1 L90.3 124.2 L90.5 124.4 L90.7 124.5 L90.9 124.6 L91.1 124.7 L91.3 124.9 L91.4 125.0 L91.6 125.1 L91.8 125.3 L92.0 125.4 L92.2 125.5 L92.4 125.7 L92.6 125.8 L92.8 126.0 L93.0 126.1 L93.2 126.3 L93.4 126.4 L93.6 126.6 L93.7 126.7 L93.9 126.9 L94.1 127.0 L94.3 127.2 L94.5 127.3 L94.7 127.5 L94.9 127.6 L95.1 127.8 L95.3 128.0 L95.5 128.1 L95.7 128.3 L95.8 128.5 L96.0 128.6 L96.2 128.8 L96.4 129.0 L96.6 129.2 L96.8 129.3 L97.0 129.5 L97.2 129.7 L97.4 129.9 L97.6 130.1 L97.8 130.3 L98.0 130.5 L98.1 130.7 L98.3 130.8 L98.5 131.0 L98.7 131.3 L98.9 131.5 L99.1 131.7 L99.3 131.9 L99.5 132.1 L99.7 132.3 L99.9 132.5 L100.1 132.7 L100.3 133.0 L100.4 133.2 L100.6 133.4 L100.8 133.7 L101.0 133.7 L101.2 133.8 L101.4 133.8 L101.6 133.9 L101.8 133.9 L102.0 134.0 L102.2 134.0 L102.4 134.1 L102.5 134.1 L102.7 134.2 L102.9 134.3 L103.1 134.3 L103.3 134.4 L103.5 134.4 L103.7 134.5 L103.9 134.5 L104.1 134.6 L104.3 134.6 L104.5 134.7 L104.7 134.8 L104.8 134.8 L105.0 134.9 L105.2 134.9 L105.4 135.0 L105.6 135.1 L105.8 135.1 L106.0 135.2 L106.2 135.2 L106.4 135.3 L106.6 135.4 L106.8 135.4 L107.0 135.5 L107.1 135.5 L107.3 135.6 L107.5 135.7 L107.7 135.7 L107.9 135.8 L108.1 135.9 L108.3 135.9 L108.5 136.0 L108.7 136.1 L108.9 136.1 L109.1 136.2 L109.2 136.3 L109.4 136.3 L109.6 136.4 L109.8 136.5 L110.0 136.5 L110.2 136.6 L110.4 136.7 L110.6 136.7 L110.8 136.8 L111.0 136.9 L111.2 136.9 L111.4 137.0 L111.5 137.1 L111.7 137.2 L111.9 137.2 L112.1 137.3 L112.3 137.4 L112.5 137.5 L112.7 137.5 L112.9 137.6 L113.1 137.7 L113.3 137.8 L113.5 137.8 L113.7 137.9 L113.8 138.0 L114.0 138.1 L114.2 138.1 L114.4 138.2 L114.6 138.3 L114.8 138.4 L115.0 138.5 L115.2 138.6 L115.4 138.6 L115.6 138.7 L115.8 138.8 L115.9 138.9 L116.1 139.0 L116.3 139.1 L116.5 139.1 L116.7 139.2 L116.9 139.3 L117.1 139.4 L117.3 139.5 L117.5 139.6 L117.7 139.7 L117.9 139.8 L118.1 139.8 L118.2 139.9 L118.4 140.0 L118.6 140.1 L118.8 140.2 L119.0 140.3 L119.2 140.4 L119.4 140.5 L119.6 140.6 L119.8 140.7 L120.0 140.8 L120.2 140.9 L120.4 141.0 L120.5 141.1 L120.7 141.2 L120.9 141.3 L121.1 141.4 L121.3 141.5 L121.5 141.6 L121.7 141.7 L121.9 141.8 L122.1 141.9 L122.3 142.0 L122.5 142.1 L122.6 142.2 L122.8 142.3 L123.0 142.4 L123.2 142.6 L123.4 142.7 L123.6 142.8 L123.8 142.9 L124.0 143.0 L124.2 143.1 L124.4 143.2 L124.6 143.4 L124.8 143.5 L124.9 143.6 L125.1 143.7 L125.3 143.8 L125.5 144.0 L125.7 144.1 L125.9 144.2 L126.1 144.3 L126.3 144.5 L126.5 144.6 L126.7 144.7 L126.9 144.8 L127.1 145.0 L127.2 145.1 L127.4 145.2 L127.6 145.4 L127.8 145.5 L128.0 145.6 L128.2 145.8 L128.4 145.9 L128.6 146.1 L128.8 146.2 L129.0 146.3 L129.2 146.5 L129.3 146.6 L129.5 146.8 L129.7 146.9 L129.9 147.1 L130.1 147.2 L130.3 147.4 L130.5 147.5 L130.7 147.7 L130.9 147.9 L131.1 148.0 L131.3 148.2 L131.5 148.3 L131.6 148.5 L131.8 148.7 L132.0 148.8 L132.2 149.0 L132.4 149.2 L132.6 149.3 L132.8 149.5 L133.0 149.7 L133.2 149.9 L133.4 150.1 L133.6 150.2 L133.8 150.4 L133.9 150.6 L134.1 150.8 L134.3 151.0 L134.5 151.2 L134.7 151.4 L134.9 151.6 L135.1 151.8 L135.3 152.0 L135.5 152.2 L135.7 152.4 L135.9 152.6 L136.0 152.8 L136.2 153.0 L136.4 153.2 L136.6 153.5 L136.8 153.7 L137.0 153.9 L137.2 154.1 L137.4 154.4 L137.6 154.6 L137.8 154.8 L138.0 155.1 L138.2 155.3 L138.3 155.6 L138.5 155.8 L138.7 156.1 L138.9 156.3 L139.1 156.6 L139.3 156.9 L139.5 157.1 L139.7 157.4 L139.9 157.7 L140.1 158.0 L140.3 158.3 L140.5 158.6 L140.6 158.9 L140.8 159.2 L141.0 159.5 L141.2 159.8 L141.4 160.1 L141.6 160.4 L141.8 160.7 L142.0 161.1 L142.2 161.4 L142.4 161.8 L142.6 162.1 L142.7 162.5 L142.9 162.9 L143.1 163.2 L143.3 163.6 L143.5 164.0 L143.7 164.4 L143.9 164.8 L144.1 165.2 L144.3 165.6 L144.5 166.1 L144.7 166.5 L144.9 167.0 L145.0 167.4 L145.2 167.9 L145.4 168.4 L145.6 168.9 L145.8 169.4 L146.0 169.9 L146.2 170.5 L146.4 171.0 L146.6 171.6 L146.8 172.2 L147.0 172.8 L147.2 173.4 L147.3 174.1 L147.5 174.8 L147.7 175.4 L147.9 176.2 L148.1 176.9 L148.3 177.7 L148.5 178.5 L148.7 179.3 L148.9 180.2 L149.1 181.1 L149.3 182.0 L149.4 183.0 L149.6 184.1 L149.8 185.2 L150.0 186.3 L150.2 187.5 L150.4 188.8 L150.6 190.2 L150.8 191.7 L151.0 193.3 L151.2 195.0 L151.4 196.9 L151.6 199.0 L151.7 201.3 L151.9 203.8 L152.1 206.7 L152.3 210.1 L152.5 214.0 L152.7 218.9 L152.9 225.2 L153.1 234.1 L153.3 249.2 L153.5 324.5 L153.5 319.4 Z" fill="#fff" fill-opacity="0.30"/>
<g fill="none" stroke="#000" stroke-width="1.20"><path d="M38.6 319.4 L38.6 318.4 L38.6 317.4 L38.7 316.4 L38.7 315.4 L38.7 314.4 L38.7 313.4 L38.7 312.4 L38.7 311.4 L38.7 310.4 L38.7 309.4 L38.7 308.4 L38.7 307.4 L38.7 306.4 L38.7 305.4 L38.8 304.4 L38.8 303.4 L38.8 302.4 L38.8 301.4 L38.8 300.4 L38.8 299.4 L38.8 298.4 L38.8 297.4 L38.8 296.4 L38.9 295.4 L38.9 294.4 L38.9 293.4 L38.9 292.4 L38.9 291.4 L38.9 290.4 L39.0 289.4 L39.0 288.4 L39.0 287.4 L39.0 286.4 L39.0 285.4 L39.0 284.4 L39.1 283.4 L39.1 282.4 L39.1 281.4 L39.1 280.4 L39.1 279.4 L39.1 278.4 L39.2 277.4 L39.2 276.4 L39.2 275.4 L39.2 274.4 L39.2 273.4 L39.3 272.4 L39.3 271.4 L39.3 270.4 L39.3 269.4 L39.4 268.4 L39.4 267.4 L39.4 266.4 L39.4 265.4 L39.5 264.4 L39.5 263.4 L39.5 262.4 L39.5 261.4 L39.6 260.4 L39.6 259.4 L39.6 258.4 L39.7 257.4 L39.7 256.4 L39.7 255.4 L39.8 254.4 L39.8 253.4 L39.8 252.4 L39.9 251.4 L39.9 250.4 L39.9 249.4 L40.0 248.4 L40.0 247.4 L40.1 246.4 L40.1 245.4 L40.1 244.4 L40.2 243.4 L40.2 242.4 L40.3 241.4 L40.3 240.4 L40.4 239.4 L40.4 238.4 L40.5 237.4 L40.5 236.4 L40.6 235.4 L40.6 234.4 L40.7 233.4 L40.7 232.4 L40.8 231.4 L40.8 230.4 L40.9 229.4 L40.9 228.4 L41.0 227.4 L41.1 226.4 L41.1 225.4 L41.2 224.4 L41.3 223.4 L41.3 222.5 L41.4 221.5 L41.5 220.5 L41.5 219.5 L41.6 218.5 L41.7 217.5 L41.8 216.5 L41.9 215.5 L41.9 214.5 L42.0 213.5 L42.1 212.5 L42.2 211.5 L42.3 210.5 L42.4 209.5 L42.5 208.5 L42.5 207.5 L42.6 206.5 L42.7 205.5 L42.8 204.5 L42.9 203.5 L43.0 202.5 L43.2 201.5 L43.3 200.5 L43.4 199.5 L43.5 198.6 L43.6 197.6 L43.7 196.6 L43.8 195.6 L44.0 194.6 L44.1 193.6 L44.2 192.6 L44.3 191.6 L44.5 190.6 L44.6 189.6 L44.8 188.6 L44.9 187.6 L45.0 186.7 L45.2 185.7 L45.3 184.7 L45.5 183.7 L45.6 182.7 L45.8 181.7 L46.0 180.7 L46.1 179.7 L46.3 178.8 L46.5 177.8 L46.6 176.8 L46.8 175.8 L47.0 174.8 L47.2 173.8 L47.3 172.8 L47.5 171.9 L47.7 170.9 L47.9 169.9 L48.1 168.9 L48.3 167.9 L48.3 167.9"/><path d="M53.6 143.8 L53.8 142.8 L54.0 141.8 L54.2 140.8 L54.3 139.8 L54.5 138.8 L54.6 137.9 L54.8 136.9 L54.9 135.9 L55.0 134.9 L55.1 133.9 L55.2 132.9 L55.2 131.9 L55.2 130.9 L55.2 129.9 L55.1 128.9 L55.0 127.9 L54.9 126.9 L54.6 125.9 L54.4 125.0 L54.1 124.0 L53.7 123.1 L53.2 122.2 L52.7 121.4 L52.1 120.6 L51.4 119.8 L50.7 119.1 L49.9 118.5 L49.1 117.9 L48.3 117.4 L47.4 116.9 L46.5 116.5 L45.5 116.2 L44.6 115.9 L43.6 115.6 L42.6 115.4 L41.6 115.2 L40.6 115.1 L39.6 115.0 L38.6 115.0 L38.4 115.0"/><path d="M39.1 319.4 L39.1 318.4 L39.2 317.4 L39.2 316.4 L39.2 315.4 L39.2 314.4 L39.2 313.4 L39.3 312.4 L39.3 311.4 L39.3 310.4 L39.3 309.4 L39.3 308.4 L39.4 307.4 L39.4 306.4 L39.4 305.4 L39.5 304.4 L39.5 303.4 L39.5 302.4 L39.5 301.4 L39.6 300.4 L39.6 299.4 L39.6 298.4 L39.6 297.4 L39.7 296.4 L39.7 295.4 L39.7 294.4 L39.8 293.4 L39.8 292.4 L39.8 291.4 L39.9 290.4 L39.9 289.4 L40.0 288.4 L40.0 287.4 L40.0 286.4 L40.1 285.4 L40.1 284.4 L40.1 283.4 L40.2 282.4 L40.2 281.4 L40.3 280.4 L40.3 279.4 L40.4 278.4 L40.4 277.4 L40.5 276.4 L40.5 275.4 L40.6 274.4 L40.6 273.4 L40.7 272.4 L40.7 271.4 L40.8 270.4 L40.8 269.4 L40.9 268.4 L41.0 267.4 L41.0 266.4 L41.1 265.4 L41.1 264.4 L41.2 263.4 L41.3 262.4 L41.3 261.4 L41.4 260.5 L41.5 259.5 L41.6 258.5 L41.6 257.5 L41.7 256.5 L41.8 255.5 L41.9 254.5 L42.0 253.5 L42.0 252.5 L42.1 251.5 L42.2 250.5 L42.3 249.5 L42.4 248.5 L42.5 247.5 L42.6 246.5 L42.7 245.5 L42.8 244.5 L42.9 243.5 L43.0 242.5 L43.1 241.5 L43.2 240.5 L43.3 239.5 L43.4 238.5 L43.5 237.6 L43.7 236.6 L43.8 235.6 L43.9 234.6 L44.0 233.6 L44.2 232.6 L44.3 231.6 L44.4 230.6 L44.6 229.6 L44.7 228.6 L44.9 227.6 L45.0 226.7 L45.2 225.7 L45.3 224.7 L45.5 223.7 L45.7 222.7 L45.8 221.7 L46.0 220.7 L46.2 219.7 L46.3 218.8 L46.5 217.8 L46.7 216.8 L46.9 215.8 L47.1 214.8 L47.3 213.9 L47.5 212.9 L47.7 211.9 L47.9 210.9 L48.1 209.9 L48.3 209.0 L48.6 208.0 L48.8 207.0 L49.0 206.0 L49.3 205.1 L49.5 204.1 L49.8 203.1 L50.0 202.2 L50.3 201.2 L50.5 200.2 L50.8 199.3 L51.1 198.3 L51.3 197.3 L51.6 196.4 L51.9 195.4 L52.2 194.5 L52.5 193.5 L52.8 192.6 L53.1 191.6 L53.5 190.7 L53.8 189.7 L54.1 188.8 L54.4 187.8 L54.8 186.9 L55.1 186.0 L55.5 185.0 L55.9 184.1 L56.2 183.2 L56.6 182.2 L57.0 181.3 L57.4 180.4 L57.8 179.5 L58.2 178.6 L58.6 177.6 L59.0 176.7 L59.4 175.8 L59.8 174.9 L60.2 174.0 L60.7 173.1 L61.1 172.2 L61.6 171.3 L62.0 170.4 L62.5 169.6 L63.0 168.7 L63.4 167.8 L63.9 166.9 L64.4 166.0 L64.9 165.2 L65.4 164.3 L65.9 163.5 L66.4 162.6 L67.0 161.7 L67.5 160.9 L68.0 160.0 L68.6 159.2 L69.1 158.4 L69.6 157.5 L70.2 156.7 L70.8 155.9 L71.3 155.0 L71.9 154.2 L72.5 153.4 L73.1 152.6 L73.6 151.8 L74.2 151.0 L74.8 150.2 L75.4 149.4 L76.0 148.6 L76.6 147.8 L77.3 147.0 L77.9 146.2 L78.5 145.4 L79.1 144.6 L79.8 143.9 L80.4 143.1 L81.0 142.3 L81.7 141.5 L82.3 140.8 L83.0 140.0 L83.6 139.3 L83.6 139.3"/><path d="M100.1 120.8 L100.8 120.1 L101.4 119.3 L102.1 118.5 L102.7 117.8 L103.3 117.0 L103.9 116.2 L104.6 115.4 L105.2 114.6 L105.8 113.8 L106.3 113.0 L106.9 112.2 L107.4 111.3 L108.0 110.5 L108.5 109.6 L108.9 108.7 L109.4 107.8 L109.8 106.9 L110.1 106.0 L110.4 105.0 L110.7 104.1 L110.8 103.1 L110.9 102.1 L110.9 101.1 L110.8 100.1 L110.5 99.1 L110.2 98.2 L109.7 97.3 L109.2 96.4 L108.6 95.6 L107.9 94.9 L107.2 94.2 L106.4 93.6 L105.6 93.0 L104.8 92.4 L103.9 91.9 L103.0 91.4 L102.1 91.0 L101.2 90.6 L100.3 90.2 L99.4 89.8 L98.5 89.4 L97.5 89.1 L96.6 88.7 L95.6 88.4 L94.7 88.1 L93.7 87.9 L92.8 87.6 L91.8 87.3 L90.8 87.1 L89.8 86.9 L88.9 86.6 L87.9 86.4 L86.9 86.2 L85.9 86.0 L85.0 85.8 L84.0 85.6 L83.0 85.5 L82.0 85.3 L81.0 85.1 L80.0 85.0 L79.0 84.8 L78.0 84.7 L77.1 84.5 L76.1 84.4 L75.1 84.3 L74.1 84.1 L73.1 84.0 L72.1 83.9 L71.1 83.8 L70.1 83.7 L69.1 83.6 L68.1 83.5 L67.1 83.4 L66.1 83.3 L65.1 83.2 L64.1 83.2 L63.1 83.1 L62.1 83.0 L61.1 82.9 L60.1 82.9 L59.1 82.8 L58.1 82.7 L57.1 82.7 L56.1 82.6 L55.2 82.6 L54.2 82.5 L53.2 82.5 L52.2 82.4 L51.2 82.4 L50.2 82.4 L49.2 82.3 L48.2 82.3 L47.2 82.3 L46.2 82.3 L45.2 82.2 L44.2 82.2 L43.2 82.2 L42.2 82.2 L41.2 82.2 L40.2 82.2 L39.2 82.2 L38.4 82.2"/><path d="M39.8 319.4 L39.9 318.4 L39.9 317.4 L39.9 316.4 L40.0 315.4 L40.0 314.4 L40.0 313.4 L40.1 312.4 L40.1 311.4 L40.2 310.4 L40.2 309.4 L40.2 308.4 L40.3 307.4 L40.3 306.4 L40.4 305.4 L40.4 304.4 L40.5 303.4 L40.5 302.4 L40.6 301.4 L40.6 300.4 L40.7 299.4 L40.7 298.4 L40.8 297.4 L40.9 296.4 L40.9 295.4 L41.0 294.4 L41.0 293.4 L41.1 292.4 L41.2 291.4 L41.2 290.4 L41.3 289.4 L41.4 288.4 L41.4 287.4 L41.5 286.4 L41.6 285.4 L41.6 284.5 L41.7 283.5 L41.8 282.5 L41.9 281.5 L42.0 280.5 L42.0 279.5 L42.1 278.5 L42.2 277.5 L42.3 276.5 L42.4 275.5 L42.5 274.5 L42.6 273.5 L42.7 272.5 L42.8 271.5 L42.9 270.5 L43.0 269.5 L43.1 268.5 L43.2 267.5 L43.3 266.5 L43.4 265.5 L43.6 264.5 L43.7 263.6 L43.8 262.6 L43.9 261.6 L44.1 260.6 L44.2 259.6 L44.3 258.6 L44.5 257.6 L44.6 256.6 L44.7 255.6 L44.9 254.6 L45.0 253.6 L45.2 252.7 L45.4 251.7 L45.5 250.7 L45.7 249.7 L45.8 248.7 L46.0 247.7 L46.2 246.7 L46.4 245.8 L46.6 244.8 L46.7 243.8 L46.9 242.8 L47.1 241.8 L47.3 240.8 L47.5 239.9 L47.7 238.9 L47.9 237.9 L48.2 236.9 L48.4 236.0 L48.6 235.0 L48.8 234.0 L49.1 233.0 L49.3 232.1 L49.6 231.1 L49.8 230.1 L50.1 229.2 L50.3 228.2 L50.6 227.2 L50.9 226.3 L51.1 225.3 L51.4 224.4 L51.7 223.4 L52.0 222.4 L52.3 221.5 L52.6 220.5 L52.9 219.6 L53.2 218.6 L53.6 217.7 L53.9 216.7 L54.2 215.8 L54.6 214.9 L54.9 213.9 L55.3 213.0 L55.6 212.1 L56.0 211.1 L56.4 210.2 L56.8 209.3 L57.1 208.4 L57.5 207.4 L57.9 206.5 L58.4 205.6 L58.8 204.7 L59.2 203.8 L59.6 202.9 L60.1 202.0 L60.5 201.1 L60.9 200.2 L61.4 199.3 L61.9 198.4 L62.3 197.5 L62.8 196.7 L63.3 195.8 L63.8 194.9 L64.3 194.1 L64.8 193.2 L65.3 192.3 L65.8 191.5 L66.4 190.6 L66.9 189.8 L67.4 188.9 L68.0 188.1 L68.5 187.3 L69.1 186.4 L69.7 185.6 L70.2 184.8 L70.8 184.0 L71.4 183.2 L72.0 182.4 L72.6 181.6 L73.2 180.8 L73.8 180.0 L74.4 179.2 L75.1 178.4 L75.7 177.6 L76.3 176.9 L77.0 176.1 L77.6 175.3 L78.3 174.6 L78.9 173.8 L79.6 173.1 L80.3 172.3 L80.9 171.6 L81.6 170.9 L82.3 170.2 L83.0 169.4 L83.7 168.7 L84.4 168.0 L85.1 167.3 L85.8 166.6 L86.5 165.9 L87.2 165.2 L88.0 164.5 L88.7 163.8 L89.4 163.1 L90.2 162.5 L90.9 161.8 L91.6 161.1 L92.4 160.4 L93.1 159.8 L93.9 159.1 L94.7 158.5 L95.4 157.8 L96.2 157.2 L97.0 156.5 L97.7 155.9 L98.5 155.3 L99.3 154.6 L100.1 154.0 L100.8 153.4 L101.6 152.8 L102.4 152.2 L103.2 151.6 L104.0 150.9 L104.8 150.3 L105.6 149.7 L106.4 149.1 L107.2 148.6 L108.0 148.0 L108.8 147.4 L109.6 146.8 L110.4 146.2 L111.3 145.6 L112.1 145.0 L112.9 144.5 L113.7 143.9 L114.5 143.3 L115.4 142.8 L116.2 142.2 L117.0 141.6 L117.8 141.1 L118.7 140.5 L119.5 140.0 L120.3 139.4 L121.2 138.8 L122.0 138.3 L122.8 137.7 L123.7 137.2 L124.5 136.6 L125.3 136.1 L126.2 135.6 L127.0 135.0 L127.9 134.5 L128.7 133.9 L128.9 133.8"/><path d="M149.8 120.6 L150.7 120.1 L151.5 119.5 L152.4 119.0 L153.2 118.4 L154.0 117.9 L154.9 117.3 L155.7 116.8 L156.5 116.2 L157.4 115.7 L158.2 115.1 L159.0 114.5 L159.8 114.0 L160.7 113.4 L161.5 112.8 L162.3 112.3 L163.1 111.7 L163.9 111.1 L164.7 110.5 L165.5 109.9 L166.3 109.3 L167.1 108.7 L167.9 108.1 L168.7 107.4 L169.5 106.8 L170.2 106.2 L171.0 105.5 L171.7 104.9 L172.5 104.2 L173.2 103.5 L173.9 102.8 L174.7 102.1 L175.4 101.4 L176.0 100.7 L176.7 99.9 L177.3 99.1 L178.0 98.4 L178.5 97.6 L179.1 96.7 L179.6 95.9 L180.1 95.0 L180.5 94.1 L180.9 93.2 L181.2 92.2 L181.4 91.2 L181.5 90.2 L181.5 89.2 L181.4 88.2 L181.2 87.3 L180.9 86.3 L180.4 85.4 L179.9 84.6 L179.3 83.8 L178.7 83.0 L177.9 82.3 L177.2 81.7 L176.4 81.0 L175.6 80.5 L174.7 79.9 L173.9 79.4 L173.0 78.9 L172.1 78.4 L171.2 78.0 L170.3 77.6 L169.4 77.2 L168.5 76.8 L167.6 76.4 L166.6 76.1 L165.7 75.8 L164.7 75.4 L163.8 75.1 L162.8 74.8 L161.9 74.5 L160.9 74.3 L159.9 74.0 L159.0 73.7 L158.0 73.5 L157.0 73.2 L156.1 73.0 L155.1 72.8 L154.1 72.5 L153.1 72.3 L152.2 72.1 L151.2 71.9 L150.2 71.7 L149.2 71.5 L148.2 71.3 L147.3 71.2 L146.3 71.0 L145.3 70.8 L144.3 70.6 L143.3 70.5 L142.3 70.3 L141.3 70.2 L140.4 70.0 L139.4 69.8 L138.4 69.7 L137.4 69.6 L136.4 69.4 L135.4 69.3 L134.4 69.2 L133.4 69.0 L132.4 68.9 L131.4 68.8 L130.5 68.6 L129.5 68.5 L128.5 68.4 L127.5 68.3 L126.5 68.2 L125.5 68.1 L124.5 68.0 L123.5 67.9 L122.5 67.8 L121.5 67.7 L120.5 67.6 L119.5 67.5 L118.5 67.4 L117.5 67.3 L116.5 67.2 L115.5 67.1 L114.5 67.0 L113.5 66.9 L112.5 66.9 L111.5 66.8 L110.5 66.7 L109.6 66.6 L108.6 66.5 L107.6 66.5 L106.6 66.4 L105.6 66.3 L104.6 66.3 L103.6 66.2 L102.6 66.1 L101.6 66.1 L100.6 66.0 L99.6 65.9 L98.6 65.9 L97.6 65.8 L96.6 65.8 L95.6 65.7 L94.6 65.6 L93.6 65.6 L92.6 65.5 L91.6 65.5 L90.6 65.4 L89.6 65.4 L88.6 65.3 L87.6 65.3 L86.6 65.2 L85.6 65.2 L84.6 65.1 L83.6 65.1 L82.6 65.1 L81.6 65.0 L80.6 65.0 L79.6 64.9 L78.6 64.9 L77.6 64.9 L76.6 64.8 L75.6 64.8 L74.6 64.8 L73.6 64.7 L72.6 64.7 L71.6 64.7 L70.6 64.6 L69.6 64.6 L68.6 64.6 L67.6 64.6 L66.6 64.5 L65.6 64.5 L64.6 64.5 L63.6 64.5 L62.6 64.4 L61.6 64.4 L60.6 64.4 L59.6 64.4 L58.6 64.4 L57.6 64.4 L56.6 64.3 L55.6 64.3 L54.6 64.3 L53.6 64.3 L52.6 64.3 L51.6 64.3 L50.6 64.3 L49.6 64.2 L48.6 64.2 L47.6 64.2 L46.6 64.2 L45.6 64.2 L44.6 64.2 L43.6 64.2 L42.6 64.2 L41.6 64.2 L40.6 64.2 L39.6 64.2 L38.6 64.2 L38.4 64.2"/><path d="M43.5 319.4 L43.6 318.4 L43.7 317.4 L43.9 316.4 L44.0 315.4 L44.1 314.4 L44.3 313.4 L44.4 312.5 L44.5 311.5 L44.7 310.5 L44.8 309.5 L45.0 308.5 L45.1 307.5 L45.3 306.5 L45.4 305.5 L45.6 304.5 L45.8 303.6 L45.9 302.6 L46.1 301.6 L46.3 300.6 L46.5 299.6 L46.6 298.6 L46.8 297.7 L47.0 296.7 L47.2 295.7 L47.4 294.7 L47.6 293.7 L47.8 292.8 L48.1 291.8 L48.3 290.8 L48.5 289.8 L48.7 288.9 L49.0 287.9 L49.2 286.9 L49.4 285.9 L49.7 285.0 L49.9 284.0 L50.2 283.0 L50.5 282.1 L50.7 281.1 L51.0 280.2 L51.3 279.2 L51.6 278.2 L51.9 277.3 L52.2 276.3 L52.5 275.4 L52.8 274.4 L53.1 273.5 L53.4 272.5 L53.7 271.6 L54.1 270.6 L54.4 269.7 L54.8 268.8 L55.1 267.8 L55.5 266.9 L55.8 266.0 L56.2 265.0 L56.6 264.1 L57.0 263.2 L57.4 262.3 L57.8 261.4 L58.2 260.4 L58.6 259.5 L59.0 258.6 L59.4 257.7 L59.9 256.8 L60.3 255.9 L60.8 255.0 L61.2 254.1 L61.7 253.2 L62.2 252.4 L62.6 251.5 L63.1 250.6 L63.6 249.7 L64.1 248.9 L64.6 248.0 L65.1 247.2 L65.7 246.3 L66.2 245.5 L66.7 244.6 L67.3 243.8 L67.8 242.9 L68.4 242.1 L68.9 241.3 L69.5 240.5 L70.1 239.6 L70.7 238.8 L71.2 238.0 L71.8 237.2 L72.4 236.4 L73.1 235.6 L73.7 234.8 L74.3 234.1 L74.9 233.3 L75.6 232.5 L76.2 231.7 L76.8 231.0 L77.5 230.2 L78.2 229.5 L78.8 228.7 L79.5 228.0 L80.2 227.2 L80.9 226.5 L81.5 225.8 L82.2 225.1 L82.9 224.3 L83.6 223.6 L84.3 222.9 L85.1 222.2 L85.8 221.5 L86.5 220.8 L87.2 220.2 L88.0 219.5 L88.7 218.8 L89.4 218.1 L90.2 217.5 L90.9 216.8 L91.7 216.2 L92.5 215.5 L93.2 214.9 L94.0 214.2 L94.8 213.6 L95.5 212.9 L96.3 212.3 L97.1 211.7 L97.9 211.1 L98.7 210.5 L99.5 209.8 L100.2 209.2 L101.0 208.6 L101.9 208.0 L102.7 207.4 L103.5 206.9 L104.3 206.3 L105.1 205.7 L105.9 205.1 L106.7 204.5 L107.5 204.0 L108.4 203.4 L109.2 202.8 L110.0 202.3 L110.9 201.7 L111.7 201.2 L112.5 200.6 L113.4 200.1 L114.2 199.5 L115.1 199.0 L115.9 198.5 L116.7 197.9 L117.6 197.4 L118.4 196.9 L119.3 196.4 L120.2 195.8 L121.0 195.3 L121.9 194.8 L122.7 194.3 L123.6 193.8 L124.5 193.3 L125.3 192.8 L126.2 192.3 L127.0 191.8 L127.9 191.3 L128.8 190.8 L129.7 190.3 L130.5 189.8 L131.4 189.3 L132.3 188.9 L133.2 188.4 L134.0 187.9 L134.9 187.4 L135.8 187.0 L136.7 186.5 L137.6 186.0 L138.4 185.5 L139.3 185.1 L140.2 184.6 L141.1 184.2 L142.0 183.7 L142.9 183.2 L143.8 182.8 L144.7 182.3 L145.6 181.9 L146.4 181.4 L147.3 181.0 L148.2 180.5 L149.1 180.1 L150.0 179.6 L150.9 179.2 L151.8 178.7 L152.7 178.3 L153.6 177.8 L154.5 177.4 L155.4 177.0 L156.3 176.5 L157.2 176.1 L158.1 175.6 L159.0 175.2 L159.9 174.8 L160.8 174.3 L161.7 173.9 L162.6 173.5 L163.5 173.0 L164.4 172.6 L164.6 172.5"/><path d="M187.0 161.9 L187.9 161.5 L188.8 161.1 L189.7 160.6 L190.6 160.2 L191.5 159.8 L192.4 159.4 L193.3 158.9 L194.2 158.5 L195.1 158.1 L196.0 157.6 L196.9 157.2 L197.8 156.7 L198.7 156.3 L199.6 155.9 L200.5 155.4 L201.4 155.0 L202.3 154.5 L203.2 154.1 L204.1 153.7 L205.0 153.2 L205.9 152.8 L206.8 152.3 L207.7 151.9 L208.6 151.4 L209.5 151.0 L210.4 150.5 L211.2 150.0 L212.1 149.6 L213.0 149.1 L213.9 148.6 L214.8 148.2 L215.7 147.7 L216.5 147.2 L217.4 146.8 L218.3 146.3 L219.2 145.8 L220.1 145.3 L220.9 144.8 L221.8 144.3 L222.7 143.8 L223.5 143.4 L224.4 142.9 L225.3 142.4 L226.1 141.8 L227.0 141.3 L227.9 140.8 L228.7 140.3 L229.6 139.8 L230.4 139.3 L231.3 138.7 L232.1 138.2 L233.0 137.7 L233.8 137.1 L234.6 136.6 L235.5 136.0 L236.3 135.5 L237.1 134.9 L238.0 134.3 L238.8 133.8 L239.6 133.2 L240.4 132.6 L241.2 132.0 L242.0 131.4 L242.8 130.8 L243.6 130.2 L244.4 129.6 L245.2 129.0 L246.0 128.4 L246.7 127.7 L247.5 127.1 L248.3 126.4 L249.0 125.8 L249.8 125.1 L250.5 124.5 L251.2 123.8 L252.0 123.1 L252.7 122.4 L253.4 121.7 L254.1 121.0 L254.8 120.3 L255.5 119.5 L256.2 118.8 L256.8 118.1 L257.5 117.3 L258.1 116.5 L258.8 115.8 L259.4 115.0 L260.0 114.2 L260.6 113.4 L261.2 112.6 L261.8 111.8 L262.4 111.0 L262.9 110.1 L263.4 109.3 L264.0 108.4 L264.5 107.6 L265.0 106.7 L265.5 105.8 L265.9 104.9 L266.4 104.0 L266.8 103.1 L267.2 102.2 L267.6 101.3 L268.0 100.4 L268.4 99.5 L268.7 98.5 L269.1 97.6 L269.4 96.6 L269.7 95.7 L269.9 94.7 L270.2 93.8 L270.5 92.8 L270.7 91.8 L270.9 90.8 L271.1 89.8 L271.2 88.9 L271.4 87.9 L271.5 86.9 L271.6 85.9 L271.7 84.9 L271.7 83.9 L271.8 82.9 L271.8 81.9 L271.8 80.9 L271.7 79.9 L271.7 78.9 L271.6 77.9 L271.5 76.9 L271.3 75.9 L271.1 74.9 L270.9 74.0 L270.7 73.0 L270.4 72.0 L270.1 71.1 L269.7 70.1 L269.4 69.2 L268.9 68.3 L268.5 67.4 L268.0 66.5 L267.5 65.7 L266.9 64.9 L266.3 64.1 L265.7 63.3 L265.0 62.5 L264.3 61.8 L263.6 61.1 L262.9 60.5 L262.1 59.8 L261.3 59.2 L260.5 58.6 L259.7 58.0 L258.8 57.5 L258.0 57.0 L257.1 56.5 L256.2 56.0 L255.3 55.6 L254.4 55.1 L253.5 54.7 L252.6 54.3 L251.7 53.9 L250.7 53.6 L249.8 53.2 L248.9 52.9 L247.9 52.6 L247.0 52.2 L246.0 51.9 L245.1 51.6 L244.1 51.4 L243.1 51.1 L242.2 50.8 L241.2 50.6 L240.2 50.3 L239.3 50.1 L238.3 49.9 L237.3 49.6 L236.3 49.4 L235.4 49.2 L234.4 49.0 L233.4 48.8 L232.4 48.6 L231.4 48.4 L230.5 48.3 L229.5 48.1 L228.5 47.9 L227.5 47.8 L226.5 47.6 L225.5 47.4 L224.5 47.3 L223.5 47.1 L222.6 47.0 L221.6 46.8 L220.6 46.7 L219.6 46.6 L218.6 46.4 L217.6 46.3 L216.6 46.2 L215.6 46.1 L214.6 45.9 L213.6 45.8 L212.6 45.7 L211.6 45.6 L210.7 45.5 L209.7 45.4 L208.7 45.3 L207.7 45.2 L206.7 45.1 L205.7 45.0 L204.7 44.9 L203.7 44.8 L202.7 44.7 L201.7 44.6 L200.7 44.5 L199.7 44.4 L198.7 44.3 L197.7 44.2 L196.7 44.1 L195.7 44.1 L194.7 44.0 L193.7 43.9 L192.7 43.8 L191.7 43.7 L190.7 43.7 L189.7 43.6 L188.7 43.5 L187.7 43.4 L186.7 43.4 L185.8 43.3 L184.8 43.2 L183.8 43.2 L182.8 43.1 L181.8 43.0 L180.8 43.0 L179.8 42.9 L178.8 42.9 L177.8 42.8 L176.8 42.7 L175.8 42.7 L174.8 42.6 L173.8 42.6 L172.8 42.5 L171.8 42.5 L170.8 42.4 L169.8 42.3 L168.8 42.3 L167.8 42.2 L166.8 42.2 L165.8 42.1 L164.8 42.1 L163.8 42.0 L162.8 42.0 L161.8 42.0 L160.8 41.9 L159.8 41.9 L158.8 41.8 L157.8 41.8 L156.8 41.7 L155.8 41.7 L154.8 41.6 L153.8 41.6 L152.8 41.6 L151.8 41.5 L150.8 41.5 L149.8 41.4 L148.8 41.4 L147.8 41.4 L146.8 41.3 L145.8 41.3 L144.8 41.3 L143.8 41.2 L142.8 41.2 L141.8 41.2 L140.8 41.1 L139.8 41.1 L138.8 41.1 L137.8 41.0 L136.8 41.0 L135.8 41.0 L134.8 40.9 L133.8 40.9 L132.8 40.9 L131.8 40.8 L130.8 40.8 L129.8 40.8 L128.8 40.7 L127.8 40.7 L126.8 40.7 L125.8 40.7 L124.8 40.6 L123.8 40.6 L122.8 40.6 L121.8 40.6 L120.8 40.5 L119.8 40.5 L118.8 40.5 L117.8 40.5 L116.8 40.4 L115.8 40.4 L114.8 40.4 L113.8 40.4 L112.8 40.4 L111.8 40.3 L110.8 40.3 L109.8 40.3 L108.8 40.3 L107.8 40.3 L106.8 40.2 L105.8 40.2 L104.8 40.2 L103.8 40.2 L102.8 40.2 L101.8 40.1 L100.8 40.1 L99.8 40.1 L98.8 40.1 L97.8 40.1 L96.8 40.1 L95.8 40.0 L94.8 40.0 L93.8 40.0 L92.8 40.0 L91.8 40.0 L90.8 40.0 L89.8 40.0 L88.8 39.9 L87.8 39.9 L86.8 39.9 L85.8 39.9 L84.8 39.9 L83.8 39.9 L82.8 39.9 L81.8 39.8 L80.8 39.8 L79.8 39.8 L78.8 39.8 L77.8 39.8 L76.8 39.8 L75.8 39.8 L74.8 39.8 L73.8 39.8 L72.8 39.8 L71.8 39.7 L70.8 39.7 L69.8 39.7 L68.8 39.7 L67.8 39.7 L66.8 39.7 L65.8 39.7 L64.8 39.7 L63.8 39.7 L62.8 39.7 L61.8 39.7 L60.8 39.7 L59.8 39.7 L58.8 39.7 L57.8 39.7 L56.8 39.6 L55.8 39.6 L54.8 39.6 L53.8 39.6 L52.8 39.6 L51.8 39.6 L50.8 39.6 L49.8 39.6 L48.8 39.6 L47.8 39.6 L46.8 39.6 L45.8 39.6 L44.8 39.6 L43.8 39.6 L42.8 39.6 L41.8 39.6 L40.8 39.6 L39.8 39.6 L38.8 39.6 L38.3 39.6"/></g>
<g fill="#000"><text transform="translate(50.9 156.0) rotate(-77.7)" text-anchor="middle" y="5.04" font-size="13.8">3.5</text><text transform="translate(91.7 130.1) rotate(-48.2)" text-anchor="middle" y="5.04" font-size="13.8">3.0</text><text transform="translate(139.3 127.3) rotate(-32.3)" text-anchor="middle" y="5.04" font-size="13.8">2.5</text><text transform="translate(175.7 167.3) rotate(-25.3)" text-anchor="middle" y="5.04" font-size="13.8">2.0</text></g>
<line x1="38.8" x2="287.4" y1="152.6" y2="152.6" stroke="#f00" stroke-width="1.1" stroke-dasharray="3.88 1.68" stroke-dashoffset="2.56"/>
</g>
<g fill="#fff" font-size="13.3"><text x="49.3" y="229.4">Optically thick sphere T = 50.0 K</text><text x="49.3" y="249.0">Optically thin dust T = 50.0 K</text></g>
<rect x="73.4" y="277.6" width="208.1" height="35.9" rx="2" fill="#fff" fill-opacity="0.8" stroke="#ccc" stroke-opacity="0.8" stroke-width="0.5"/>
<line x1="77.7" x2="100" y1="286.6" y2="286.6" stroke="#f00" stroke-width="1.1" stroke-dasharray="4 1.65"/>
<rect x="77.5" y="298.9" width="23.3" height="8.3" fill="#fff"/>
<g font-size="11.1" fill="#000"><text x="109.4" y="290.5">Average gas density in Sgr B2</text><text x="109.4" y="306.6">Detection limit</text></g>
<rect x="38.8" y="16.4" width="248.6" height="303.0" fill="none" stroke="#000" stroke-width="0.5"/>
<g stroke="#000" stroke-width="0.6"><line x1="73.2" x2="73.2" y1="319.4" y2="321.6"/><line x1="108.1" x2="108.1" y1="319.4" y2="321.6"/><line x1="143.0" x2="143.0" y1="319.4" y2="321.6"/><line x1="177.9" x2="177.9" y1="319.4" y2="321.6"/><line x1="212.8" x2="212.8" y1="319.4" y2="321.6"/><line x1="247.7" x2="247.7" y1="319.4" y2="321.6"/><line x1="282.6" x2="282.6" y1="319.4" y2="321.6"/><line x1="36.5" x2="38.8" y1="319.4" y2="319.4"/><line x1="36.5" x2="38.8" y1="268.9" y2="268.9"/><line x1="36.5" x2="38.8" y1="218.4" y2="218.4"/><line x1="36.5" x2="38.8" y1="167.9" y2="167.9"/><line x1="36.5" x2="38.8" y1="117.4" y2="117.4"/><line x1="36.5" x2="38.8" y1="66.9" y2="66.9"/><line x1="36.5" x2="38.8" y1="16.4" y2="16.4"/><line x1="317.8" x2="320.1" y1="306.8" y2="306.8"/><line x1="317.8" x2="320.1" y1="272.1" y2="272.1"/><line x1="317.8" x2="320.1" y1="237.3" y2="237.3"/><line x1="317.8" x2="320.1" y1="202.6" y2="202.6"/><line x1="317.8" x2="320.1" y1="167.8" y2="167.8"/><line x1="317.8" x2="320.1" y1="133.0" y2="133.0"/><line x1="317.8" x2="320.1" y1="98.3" y2="98.3"/><line x1="317.8" x2="320.1" y1="63.5" y2="63.5"/><line x1="317.8" x2="320.1" y1="28.8" y2="28.8"/></g>
<g font-size="7.2" fill="#000"><text x="73.2" y="329.5" text-anchor="middle">50</text><text x="108.1" y="329.5" text-anchor="middle">100</text><text x="143.0" y="329.5" text-anchor="middle">150</text><text x="177.9" y="329.5" text-anchor="middle">200</text><text x="212.8" y="329.5" text-anchor="middle">250</text><text x="247.7" y="329.5" text-anchor="middle">300</text><text x="282.6" y="329.5" text-anchor="middle">350</text><text x="34.4" y="322.7" text-anchor="end">21</text><text x="34.4" y="272.2" text-anchor="end">22</text><text x="34.4" y="221.7" text-anchor="end">23</text><text x="34.4" y="171.2" text-anchor="end">24</text><text x="34.4" y="120.7" text-anchor="end">25</text><text x="34.4" y="70.2" text-anchor="end">26</text><text x="34.4" y="19.7" text-anchor="end">27</text><text x="321.8" y="310.1">2.0</text><text x="321.8" y="275.4">2.2</text><text x="321.8" y="240.6">2.4</text><text x="321.8" y="205.9">2.6</text><text x="321.8" y="171.1">2.8</text><text x="321.8" y="136.3">3.0</text><text x="321.8" y="101.6">3.2</text><text x="321.8" y="66.8">3.4</text><text x="321.8" y="32.1">3.6</text></g>
<rect x="303.0" y="16.4" width="14.8" height="303.0" fill="url(#cb)" stroke="#000" stroke-width="0.5"/>
<text x="162.85" y="12.6" font-size="16" text-anchor="middle">Spectral indexes</text>
<text x="163.1" y="343.4" font-size="13.3" text-anchor="middle">Radius of an optically thick sphere (AU)</text>
<text transform="translate(346.7 224.3) rotate(-90)" font-size="13.3">Spectral index, <tspan font-style="italic">α</tspan></text>
<g transform="translate(15.3 296.7) rotate(-90)" fill="#000"><text font-size="13.3">Gas surface number density, log</text><text x="216.9" y="2" font-size="9.3">10</text><text x="229.3" font-size="13.3">(</text><line x1="236.1" x2="251.1" y1="-4.2" y2="-4.2" stroke="#000" stroke-width="0.6"/><text x="243.6" y="-6.4" font-size="9.3" font-style="italic" text-anchor="middle">H<tspan font-size="6.5" dy="1.5">2</tspan></text><text x="243.6" y="2.6" font-size="9.3" font-style="italic" text-anchor="middle">cm<tspan font-size="6.5" dy="-3">2</tspan></text><text x="252.8" font-size="13.3">)</text></g>
</svg>
</div></body></html>
